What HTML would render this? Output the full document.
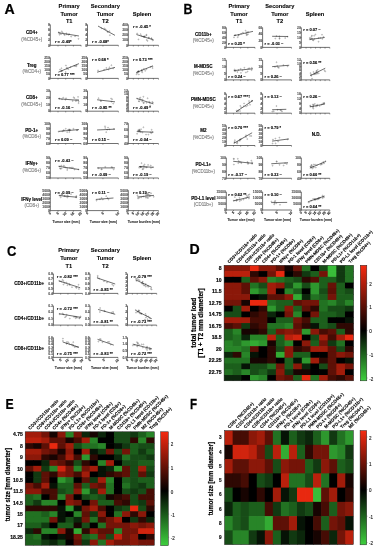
<!DOCTYPE html>
<html><head><meta charset="utf-8"><title>Figure</title>
<style>
html,body{margin:0;padding:0;background:#fff;}
body{width:377px;height:550px;overflow:hidden;}
svg{display:block;font-family:"Liberation Sans",Arial,"Noto Sans CJK SC",sans-serif;}
</style></head><body>
<svg width="377" height="550" viewBox="0 0 377 550">
<rect width="377" height="550" fill="#fff"/>
<text transform="translate(4.5 14.3) scale(0.98 1)" font-size="14.4" font-weight="bold" stroke="#000" stroke-width="0.25">A</text>
<text transform="translate(183.6 14.2) scale(0.86 1)" font-size="14.4" font-weight="bold" stroke="#000" stroke-width="0.25">B</text>
<text transform="translate(6.9 255.6) scale(0.9 1)" font-size="14.4" font-weight="bold" stroke="#000" stroke-width="0.25">C</text>
<text transform="translate(189.4 254.2) scale(0.98 1)" font-size="14.4" font-weight="bold" stroke="#000" stroke-width="0.25">D</text>
<text transform="translate(5.6 409.3) scale(0.85 1)" font-size="14.4" font-weight="bold" stroke="#000" stroke-width="0.25">E</text>
<text transform="translate(190.0 409.3) scale(0.8 1)" font-size="14.4" font-weight="bold" stroke="#000" stroke-width="0.25">F</text>
<text x="69.20" y="7.80" font-size="5.7" font-weight="bold" text-anchor="middle" fill="#000" stroke="#000" stroke-width="0.08">Primary</text>
<text x="69.20" y="15.80" font-size="5.7" font-weight="bold" text-anchor="middle" fill="#000" stroke="#000" stroke-width="0.08">Tumor</text>
<text x="69.20" y="23.10" font-size="5.7" font-weight="bold" text-anchor="middle" fill="#000" stroke="#000" stroke-width="0.08">T1</text>
<text x="105.30" y="7.80" font-size="5.7" font-weight="bold" text-anchor="middle" fill="#000" stroke="#000" stroke-width="0.08">Secondary</text>
<text x="105.30" y="15.80" font-size="5.7" font-weight="bold" text-anchor="middle" fill="#000" stroke="#000" stroke-width="0.08">Tumor</text>
<text x="105.30" y="23.10" font-size="5.7" font-weight="bold" text-anchor="middle" fill="#000" stroke="#000" stroke-width="0.08">T2</text>
<text x="142.00" y="15.80" font-size="5.7" font-weight="bold" text-anchor="middle" fill="#000" stroke="#000" stroke-width="0.08">Spleen</text>
<text x="239.00" y="7.80" font-size="5.7" font-weight="bold" text-anchor="middle" fill="#000" stroke="#000" stroke-width="0.08">Primary</text>
<text x="239.00" y="15.80" font-size="5.7" font-weight="bold" text-anchor="middle" fill="#000" stroke="#000" stroke-width="0.08">Tumor</text>
<text x="239.00" y="23.10" font-size="5.7" font-weight="bold" text-anchor="middle" fill="#000" stroke="#000" stroke-width="0.08">T1</text>
<text x="279.80" y="7.80" font-size="5.7" font-weight="bold" text-anchor="middle" fill="#000" stroke="#000" stroke-width="0.08">Secondary</text>
<text x="279.80" y="15.80" font-size="5.7" font-weight="bold" text-anchor="middle" fill="#000" stroke="#000" stroke-width="0.08">Tumor</text>
<text x="279.80" y="23.10" font-size="5.7" font-weight="bold" text-anchor="middle" fill="#000" stroke="#000" stroke-width="0.08">T2</text>
<text x="315.00" y="15.80" font-size="5.7" font-weight="bold" text-anchor="middle" fill="#000" stroke="#000" stroke-width="0.08">Spleen</text>
<text x="68.80" y="252.00" font-size="5.7" font-weight="bold" text-anchor="middle" fill="#000" stroke="#000" stroke-width="0.08">Primary</text>
<text x="68.80" y="260.10" font-size="5.7" font-weight="bold" text-anchor="middle" fill="#000" stroke="#000" stroke-width="0.08">Tumor</text>
<text x="68.80" y="267.70" font-size="5.7" font-weight="bold" text-anchor="middle" fill="#000" stroke="#000" stroke-width="0.08">T1</text>
<text x="105.30" y="252.00" font-size="5.7" font-weight="bold" text-anchor="middle" fill="#000" stroke="#000" stroke-width="0.08">Secondary</text>
<text x="105.30" y="260.10" font-size="5.7" font-weight="bold" text-anchor="middle" fill="#000" stroke="#000" stroke-width="0.08">Tumor</text>
<text x="105.30" y="267.70" font-size="5.7" font-weight="bold" text-anchor="middle" fill="#000" stroke="#000" stroke-width="0.08">T2</text>
<text x="142.00" y="260.10" font-size="5.7" font-weight="bold" text-anchor="middle" fill="#000" stroke="#000" stroke-width="0.08">Spleen</text>
<text x="31.80" y="33.80" font-size="4.5" font-weight="bold" text-anchor="middle" fill="#000" stroke="#000" stroke-width="0.126">CD4+</text>
<text x="31.80" y="40.80" font-size="4.5" text-anchor="middle" fill="#7d7d7d" stroke="#7d7d7d" stroke-width="0.12">(%CD45+)</text>
<text x="31.80" y="66.90" font-size="4.5" font-weight="bold" text-anchor="middle" fill="#000" stroke="#000" stroke-width="0.126">Treg</text>
<text x="31.80" y="73.30" font-size="4.5" text-anchor="middle" fill="#7d7d7d" stroke="#7d7d7d" stroke-width="0.12">(%CD4+)</text>
<text x="31.80" y="99.30" font-size="4.5" font-weight="bold" text-anchor="middle" fill="#000" stroke="#000" stroke-width="0.126">CD8+</text>
<text x="31.80" y="105.90" font-size="4.5" text-anchor="middle" fill="#7d7d7d" stroke="#7d7d7d" stroke-width="0.12">(%CD45+)</text>
<text x="31.80" y="131.90" font-size="4.5" font-weight="bold" text-anchor="middle" fill="#000" stroke="#000" stroke-width="0.126">PD-1+</text>
<text x="31.80" y="138.30" font-size="4.5" text-anchor="middle" fill="#7d7d7d" stroke="#7d7d7d" stroke-width="0.12">(%CD8+)</text>
<text x="31.80" y="165.40" font-size="4.5" font-weight="bold" text-anchor="middle" fill="#000" stroke="#000" stroke-width="0.126">IFNγ+</text>
<text x="31.80" y="171.80" font-size="4.5" text-anchor="middle" fill="#7d7d7d" stroke="#7d7d7d" stroke-width="0.12">(%CD8+)</text>
<text x="31.80" y="200.70" font-size="4.5" font-weight="bold" text-anchor="middle" fill="#000" stroke="#000" stroke-width="0.126">IFNγ level</text>
<text x="31.80" y="206.90" font-size="4.5" text-anchor="middle" fill="#7d7d7d" stroke="#7d7d7d" stroke-width="0.12">(CD8+)</text>
<text x="203.30" y="35.90" font-size="4.5" font-weight="bold" text-anchor="middle" fill="#000" stroke="#000" stroke-width="0.126">CD11b+</text>
<text x="203.30" y="42.00" font-size="4.5" text-anchor="middle" fill="#7d7d7d" stroke="#7d7d7d" stroke-width="0.12">(%CD45+)</text>
<text x="203.30" y="67.80" font-size="4.5" font-weight="bold" text-anchor="middle" fill="#000" stroke="#000" stroke-width="0.126">M-MDSC</text>
<text x="203.30" y="74.50" font-size="4.5" text-anchor="middle" fill="#7d7d7d" stroke="#7d7d7d" stroke-width="0.12">(%CD45+)</text>
<text x="203.30" y="101.00" font-size="4.5" font-weight="bold" text-anchor="middle" fill="#000" stroke="#000" stroke-width="0.126">PMN-MDSC</text>
<text x="203.30" y="107.80" font-size="4.5" text-anchor="middle" fill="#7d7d7d" stroke="#7d7d7d" stroke-width="0.12">(%CD45+)</text>
<text x="203.30" y="132.00" font-size="4.5" font-weight="bold" text-anchor="middle" fill="#000" stroke="#000" stroke-width="0.126">M2</text>
<text x="203.30" y="138.90" font-size="4.5" text-anchor="middle" fill="#7d7d7d" stroke="#7d7d7d" stroke-width="0.12">(%CD45+)</text>
<text x="203.30" y="166.00" font-size="4.5" font-weight="bold" text-anchor="middle" fill="#000" stroke="#000" stroke-width="0.126">PD-L1+</text>
<text x="203.30" y="172.80" font-size="4.5" text-anchor="middle" fill="#7d7d7d" stroke="#7d7d7d" stroke-width="0.12">(%CD11b+)</text>
<text x="203.30" y="199.90" font-size="4.5" font-weight="bold" text-anchor="middle" fill="#000" stroke="#000" stroke-width="0.126">PD-L1 level</text>
<text x="203.30" y="206.00" font-size="4.5" text-anchor="middle" fill="#7d7d7d" stroke="#7d7d7d" stroke-width="0.12">(CD11b+)</text>
<text x="29.20" y="284.50" font-size="4.6" font-weight="bold" text-anchor="middle" fill="#000" stroke="#000" stroke-width="0.129">CD3+/CD11b+</text>
<text x="29.20" y="319.90" font-size="4.6" font-weight="bold" text-anchor="middle" fill="#000" stroke="#000" stroke-width="0.129">CD4+/CD11b+</text>
<text x="29.20" y="349.60" font-size="4.6" font-weight="bold" text-anchor="middle" fill="#000" stroke="#000" stroke-width="0.129">CD8+/CD11b+</text>
<line x1="50.30" y1="24.60" x2="50.30" y2="45.30" stroke="#333" stroke-width="0.7"/>
<line x1="50.30" y1="45.30" x2="81.10" y2="45.30" stroke="#333" stroke-width="0.7"/>
<line x1="49.10" y1="45.30" x2="50.30" y2="45.30" stroke="#333" stroke-width="0.5"/>
<text x="49.90" y="46.50" font-size="3.4" font-weight="bold" text-anchor="end" fill="#585858" stroke="#585858" stroke-width="0.095">0</text>
<line x1="49.10" y1="40.12" x2="50.30" y2="40.12" stroke="#333" stroke-width="0.5"/>
<text x="49.90" y="41.33" font-size="3.4" font-weight="bold" text-anchor="end" fill="#585858" stroke="#585858" stroke-width="0.095">2</text>
<line x1="49.10" y1="34.95" x2="50.30" y2="34.95" stroke="#333" stroke-width="0.5"/>
<text x="49.90" y="36.15" font-size="3.4" font-weight="bold" text-anchor="end" fill="#585858" stroke="#585858" stroke-width="0.095">4</text>
<line x1="49.10" y1="29.77" x2="50.30" y2="29.77" stroke="#333" stroke-width="0.5"/>
<text x="49.90" y="30.97" font-size="3.4" font-weight="bold" text-anchor="end" fill="#585858" stroke="#585858" stroke-width="0.095">6</text>
<line x1="49.10" y1="24.60" x2="50.30" y2="24.60" stroke="#333" stroke-width="0.5"/>
<text x="49.90" y="25.80" font-size="3.4" font-weight="bold" text-anchor="end" fill="#585858" stroke="#585858" stroke-width="0.095">8</text>
<line x1="50.30" y1="45.30" x2="50.30" y2="46.50" stroke="#333" stroke-width="0.5"/>
<line x1="58.00" y1="45.30" x2="58.00" y2="46.50" stroke="#333" stroke-width="0.5"/>
<line x1="65.70" y1="45.30" x2="65.70" y2="46.50" stroke="#333" stroke-width="0.5"/>
<line x1="73.40" y1="45.30" x2="73.40" y2="46.50" stroke="#333" stroke-width="0.5"/>
<line x1="81.10" y1="45.30" x2="81.10" y2="46.50" stroke="#333" stroke-width="0.5"/>
<circle cx="64.78" cy="35.06" r="0.5" fill="none" stroke="#444" stroke-width="0.3"/>
<circle cx="59.52" cy="34.74" r="0.5" fill="none" stroke="#444" stroke-width="0.3"/>
<circle cx="69.22" cy="34.09" r="0.5" fill="none" stroke="#444" stroke-width="0.3"/>
<circle cx="68.63" cy="34.75" r="0.5" fill="none" stroke="#444" stroke-width="0.3"/>
<circle cx="58.79" cy="32.26" r="0.5" fill="none" stroke="#444" stroke-width="0.3"/>
<circle cx="59.90" cy="33.21" r="0.5" fill="none" stroke="#444" stroke-width="0.3"/>
<circle cx="66.89" cy="34.45" r="0.5" fill="none" stroke="#444" stroke-width="0.3"/>
<circle cx="62.68" cy="32.71" r="0.5" fill="none" stroke="#444" stroke-width="0.3"/>
<circle cx="71.14" cy="36.68" r="0.5" fill="none" stroke="#444" stroke-width="0.3"/>
<circle cx="66.31" cy="33.33" r="0.5" fill="none" stroke="#444" stroke-width="0.3"/>
<circle cx="78.45" cy="38.85" r="0.5" fill="none" stroke="#444" stroke-width="0.3"/>
<circle cx="64.07" cy="34.52" r="0.5" fill="none" stroke="#444" stroke-width="0.3"/>
<circle cx="61.02" cy="34.14" r="0.5" fill="none" stroke="#444" stroke-width="0.3"/>
<circle cx="75.09" cy="36.28" r="0.5" fill="none" stroke="#444" stroke-width="0.3"/>
<circle cx="61.79" cy="31.34" r="0.5" fill="none" stroke="#444" stroke-width="0.3"/>
<line x1="58.00" y1="32.67" x2="78.94" y2="35.98" stroke="#111" stroke-width="0.6"/>
<text x="54.90" y="43.10" font-size="4.0" font-weight="bold" fill="#000" stroke="#000" stroke-width="0.112">r = -0.49*</text>
<line x1="87.50" y1="24.60" x2="87.50" y2="45.30" stroke="#333" stroke-width="0.7"/>
<line x1="87.50" y1="45.30" x2="118.40" y2="45.30" stroke="#333" stroke-width="0.7"/>
<line x1="86.30" y1="45.30" x2="87.50" y2="45.30" stroke="#333" stroke-width="0.5"/>
<text x="87.10" y="46.50" font-size="3.4" font-weight="bold" text-anchor="end" fill="#585858" stroke="#585858" stroke-width="0.095">0</text>
<line x1="86.30" y1="40.12" x2="87.50" y2="40.12" stroke="#333" stroke-width="0.5"/>
<text x="87.10" y="41.33" font-size="3.4" font-weight="bold" text-anchor="end" fill="#585858" stroke="#585858" stroke-width="0.095">2</text>
<line x1="86.30" y1="34.95" x2="87.50" y2="34.95" stroke="#333" stroke-width="0.5"/>
<text x="87.10" y="36.15" font-size="3.4" font-weight="bold" text-anchor="end" fill="#585858" stroke="#585858" stroke-width="0.095">4</text>
<line x1="86.30" y1="29.77" x2="87.50" y2="29.77" stroke="#333" stroke-width="0.5"/>
<text x="87.10" y="30.97" font-size="3.4" font-weight="bold" text-anchor="end" fill="#585858" stroke="#585858" stroke-width="0.095">6</text>
<line x1="86.30" y1="24.60" x2="87.50" y2="24.60" stroke="#333" stroke-width="0.5"/>
<text x="87.10" y="25.80" font-size="3.4" font-weight="bold" text-anchor="end" fill="#585858" stroke="#585858" stroke-width="0.095">8</text>
<line x1="87.50" y1="45.30" x2="87.50" y2="46.50" stroke="#333" stroke-width="0.5"/>
<line x1="102.95" y1="45.30" x2="102.95" y2="46.50" stroke="#333" stroke-width="0.5"/>
<line x1="118.40" y1="45.30" x2="118.40" y2="46.50" stroke="#333" stroke-width="0.5"/>
<circle cx="104.33" cy="28.43" r="0.5" fill="none" stroke="#444" stroke-width="0.3"/>
<circle cx="107.31" cy="31.65" r="0.5" fill="none" stroke="#444" stroke-width="0.3"/>
<circle cx="101.51" cy="28.18" r="0.5" fill="none" stroke="#444" stroke-width="0.3"/>
<circle cx="109.57" cy="31.18" r="0.5" fill="none" stroke="#444" stroke-width="0.3"/>
<circle cx="107.96" cy="32.10" r="0.5" fill="none" stroke="#444" stroke-width="0.3"/>
<circle cx="105.71" cy="29.42" r="0.5" fill="none" stroke="#444" stroke-width="0.3"/>
<circle cx="109.89" cy="35.19" r="0.5" fill="none" stroke="#444" stroke-width="0.3"/>
<line x1="98.01" y1="26.05" x2="115.00" y2="35.36" stroke="#111" stroke-width="0.6"/>
<text x="92.10" y="43.10" font-size="4.0" font-weight="bold" fill="#000" stroke="#000" stroke-width="0.112">r = -0.68*</text>
<line x1="128.30" y1="24.60" x2="128.30" y2="45.30" stroke="#333" stroke-width="0.7"/>
<line x1="128.30" y1="45.30" x2="158.50" y2="45.30" stroke="#333" stroke-width="0.7"/>
<line x1="127.10" y1="45.30" x2="128.30" y2="45.30" stroke="#333" stroke-width="0.5"/>
<text x="127.90" y="46.50" font-size="3.4" font-weight="bold" text-anchor="end" fill="#585858" stroke="#585858" stroke-width="0.095">0</text>
<line x1="127.10" y1="40.12" x2="128.30" y2="40.12" stroke="#333" stroke-width="0.5"/>
<text x="127.90" y="41.33" font-size="3.4" font-weight="bold" text-anchor="end" fill="#585858" stroke="#585858" stroke-width="0.095">100</text>
<line x1="127.10" y1="34.95" x2="128.30" y2="34.95" stroke="#333" stroke-width="0.5"/>
<text x="127.90" y="36.15" font-size="3.4" font-weight="bold" text-anchor="end" fill="#585858" stroke="#585858" stroke-width="0.095">200</text>
<line x1="127.10" y1="29.77" x2="128.30" y2="29.77" stroke="#333" stroke-width="0.5"/>
<text x="127.90" y="30.97" font-size="3.4" font-weight="bold" text-anchor="end" fill="#585858" stroke="#585858" stroke-width="0.095">300</text>
<line x1="127.10" y1="24.60" x2="128.30" y2="24.60" stroke="#333" stroke-width="0.5"/>
<text x="127.90" y="25.80" font-size="3.4" font-weight="bold" text-anchor="end" fill="#585858" stroke="#585858" stroke-width="0.095">400</text>
<line x1="128.30" y1="45.30" x2="128.30" y2="46.50" stroke="#333" stroke-width="0.5"/>
<line x1="133.33" y1="45.30" x2="133.33" y2="46.50" stroke="#333" stroke-width="0.5"/>
<line x1="138.37" y1="45.30" x2="138.37" y2="46.50" stroke="#333" stroke-width="0.5"/>
<line x1="143.40" y1="45.30" x2="143.40" y2="46.50" stroke="#333" stroke-width="0.5"/>
<line x1="148.43" y1="45.30" x2="148.43" y2="46.50" stroke="#333" stroke-width="0.5"/>
<line x1="153.47" y1="45.30" x2="153.47" y2="46.50" stroke="#333" stroke-width="0.5"/>
<line x1="158.50" y1="45.30" x2="158.50" y2="46.50" stroke="#333" stroke-width="0.5"/>
<circle cx="140.66" cy="34.16" r="0.5" fill="none" stroke="#444" stroke-width="0.3"/>
<circle cx="151.52" cy="38.39" r="0.5" fill="none" stroke="#444" stroke-width="0.3"/>
<circle cx="149.01" cy="37.44" r="0.5" fill="none" stroke="#444" stroke-width="0.3"/>
<circle cx="138.49" cy="39.40" r="0.5" fill="none" stroke="#444" stroke-width="0.3"/>
<circle cx="143.65" cy="36.83" r="0.5" fill="none" stroke="#444" stroke-width="0.3"/>
<circle cx="144.87" cy="36.28" r="0.5" fill="none" stroke="#444" stroke-width="0.3"/>
<circle cx="137.13" cy="33.45" r="0.5" fill="none" stroke="#444" stroke-width="0.3"/>
<circle cx="146.32" cy="35.32" r="0.5" fill="none" stroke="#444" stroke-width="0.3"/>
<circle cx="151.52" cy="38.31" r="0.5" fill="none" stroke="#444" stroke-width="0.3"/>
<circle cx="146.69" cy="39.94" r="0.5" fill="none" stroke="#444" stroke-width="0.3"/>
<circle cx="146.44" cy="34.80" r="0.5" fill="none" stroke="#444" stroke-width="0.3"/>
<circle cx="152.72" cy="40.43" r="0.5" fill="none" stroke="#444" stroke-width="0.3"/>
<circle cx="144.62" cy="36.81" r="0.5" fill="none" stroke="#444" stroke-width="0.3"/>
<circle cx="148.53" cy="37.84" r="0.5" fill="none" stroke="#444" stroke-width="0.3"/>
<circle cx="147.59" cy="40.90" r="0.5" fill="none" stroke="#444" stroke-width="0.3"/>
<circle cx="141.35" cy="35.94" r="0.5" fill="none" stroke="#444" stroke-width="0.3"/>
<circle cx="143.10" cy="36.45" r="0.5" fill="none" stroke="#444" stroke-width="0.3"/>
<circle cx="144.40" cy="36.73" r="0.5" fill="none" stroke="#444" stroke-width="0.3"/>
<line x1="136.45" y1="34.54" x2="153.67" y2="39.92" stroke="#111" stroke-width="0.6"/>
<text x="132.90" y="28.40" font-size="4.0" font-weight="bold" fill="#000" stroke="#000" stroke-width="0.112">r = -0.45 *</text>
<line x1="50.30" y1="57.60" x2="50.30" y2="78.40" stroke="#333" stroke-width="0.7"/>
<line x1="50.30" y1="78.40" x2="81.10" y2="78.40" stroke="#333" stroke-width="0.7"/>
<line x1="49.10" y1="78.40" x2="50.30" y2="78.40" stroke="#333" stroke-width="0.5"/>
<text x="49.90" y="79.60" font-size="3.4" font-weight="bold" text-anchor="end" fill="#585858" stroke="#585858" stroke-width="0.095">0</text>
<line x1="49.10" y1="74.24" x2="50.30" y2="74.24" stroke="#333" stroke-width="0.5"/>
<text x="49.90" y="75.44" font-size="3.4" font-weight="bold" text-anchor="end" fill="#585858" stroke="#585858" stroke-width="0.095">50</text>
<line x1="49.10" y1="70.08" x2="50.30" y2="70.08" stroke="#333" stroke-width="0.5"/>
<text x="49.90" y="71.28" font-size="3.4" font-weight="bold" text-anchor="end" fill="#585858" stroke="#585858" stroke-width="0.095">100</text>
<line x1="49.10" y1="65.92" x2="50.30" y2="65.92" stroke="#333" stroke-width="0.5"/>
<text x="49.90" y="67.12" font-size="3.4" font-weight="bold" text-anchor="end" fill="#585858" stroke="#585858" stroke-width="0.095">150</text>
<line x1="49.10" y1="61.76" x2="50.30" y2="61.76" stroke="#333" stroke-width="0.5"/>
<text x="49.90" y="62.96" font-size="3.4" font-weight="bold" text-anchor="end" fill="#585858" stroke="#585858" stroke-width="0.095">200</text>
<line x1="49.10" y1="57.60" x2="50.30" y2="57.60" stroke="#333" stroke-width="0.5"/>
<text x="49.90" y="58.80" font-size="3.4" font-weight="bold" text-anchor="end" fill="#585858" stroke="#585858" stroke-width="0.095">250</text>
<line x1="50.30" y1="78.40" x2="50.30" y2="79.60" stroke="#333" stroke-width="0.5"/>
<line x1="58.00" y1="78.40" x2="58.00" y2="79.60" stroke="#333" stroke-width="0.5"/>
<line x1="65.70" y1="78.40" x2="65.70" y2="79.60" stroke="#333" stroke-width="0.5"/>
<line x1="73.40" y1="78.40" x2="73.40" y2="79.60" stroke="#333" stroke-width="0.5"/>
<line x1="81.10" y1="78.40" x2="81.10" y2="79.60" stroke="#333" stroke-width="0.5"/>
<circle cx="61.78" cy="71.13" r="0.5" fill="none" stroke="#444" stroke-width="0.3"/>
<circle cx="74.16" cy="65.97" r="0.5" fill="none" stroke="#444" stroke-width="0.3"/>
<circle cx="60.98" cy="71.08" r="0.5" fill="none" stroke="#444" stroke-width="0.3"/>
<circle cx="76.29" cy="66.28" r="0.5" fill="none" stroke="#444" stroke-width="0.3"/>
<circle cx="59.97" cy="69.60" r="0.5" fill="none" stroke="#444" stroke-width="0.3"/>
<circle cx="76.54" cy="65.24" r="0.5" fill="none" stroke="#444" stroke-width="0.3"/>
<circle cx="75.21" cy="66.00" r="0.5" fill="none" stroke="#444" stroke-width="0.3"/>
<circle cx="66.88" cy="67.67" r="0.5" fill="none" stroke="#444" stroke-width="0.3"/>
<circle cx="65.71" cy="72.03" r="0.5" fill="none" stroke="#444" stroke-width="0.3"/>
<circle cx="61.42" cy="68.26" r="0.5" fill="none" stroke="#444" stroke-width="0.3"/>
<circle cx="61.94" cy="70.79" r="0.5" fill="none" stroke="#444" stroke-width="0.3"/>
<circle cx="68.32" cy="69.15" r="0.5" fill="none" stroke="#444" stroke-width="0.3"/>
<circle cx="70.47" cy="67.12" r="0.5" fill="none" stroke="#444" stroke-width="0.3"/>
<circle cx="66.95" cy="68.73" r="0.5" fill="none" stroke="#444" stroke-width="0.3"/>
<circle cx="65.93" cy="65.48" r="0.5" fill="none" stroke="#444" stroke-width="0.3"/>
<line x1="58.31" y1="72.16" x2="78.94" y2="63.63" stroke="#111" stroke-width="0.6"/>
<text x="54.90" y="76.20" font-size="4.0" font-weight="bold" fill="#000" stroke="#000" stroke-width="0.112">r = 0.77 ***</text>
<line x1="87.50" y1="57.60" x2="87.50" y2="78.40" stroke="#333" stroke-width="0.7"/>
<line x1="87.50" y1="78.40" x2="118.40" y2="78.40" stroke="#333" stroke-width="0.7"/>
<line x1="86.30" y1="78.40" x2="87.50" y2="78.40" stroke="#333" stroke-width="0.5"/>
<text x="87.10" y="79.60" font-size="3.4" font-weight="bold" text-anchor="end" fill="#585858" stroke="#585858" stroke-width="0.095">0</text>
<line x1="86.30" y1="74.24" x2="87.50" y2="74.24" stroke="#333" stroke-width="0.5"/>
<text x="87.10" y="75.44" font-size="3.4" font-weight="bold" text-anchor="end" fill="#585858" stroke="#585858" stroke-width="0.095">50</text>
<line x1="86.30" y1="70.08" x2="87.50" y2="70.08" stroke="#333" stroke-width="0.5"/>
<text x="87.10" y="71.28" font-size="3.4" font-weight="bold" text-anchor="end" fill="#585858" stroke="#585858" stroke-width="0.095">100</text>
<line x1="86.30" y1="65.92" x2="87.50" y2="65.92" stroke="#333" stroke-width="0.5"/>
<text x="87.10" y="67.12" font-size="3.4" font-weight="bold" text-anchor="end" fill="#585858" stroke="#585858" stroke-width="0.095">150</text>
<line x1="86.30" y1="61.76" x2="87.50" y2="61.76" stroke="#333" stroke-width="0.5"/>
<text x="87.10" y="62.96" font-size="3.4" font-weight="bold" text-anchor="end" fill="#585858" stroke="#585858" stroke-width="0.095">200</text>
<line x1="86.30" y1="57.60" x2="87.50" y2="57.60" stroke="#333" stroke-width="0.5"/>
<text x="87.10" y="58.80" font-size="3.4" font-weight="bold" text-anchor="end" fill="#585858" stroke="#585858" stroke-width="0.095">250</text>
<line x1="87.50" y1="78.40" x2="87.50" y2="79.60" stroke="#333" stroke-width="0.5"/>
<line x1="102.95" y1="78.40" x2="102.95" y2="79.60" stroke="#333" stroke-width="0.5"/>
<line x1="118.40" y1="78.40" x2="118.40" y2="79.60" stroke="#333" stroke-width="0.5"/>
<circle cx="109.45" cy="67.29" r="0.5" fill="none" stroke="#444" stroke-width="0.3"/>
<circle cx="106.32" cy="67.96" r="0.5" fill="none" stroke="#444" stroke-width="0.3"/>
<circle cx="98.05" cy="70.32" r="0.5" fill="none" stroke="#444" stroke-width="0.3"/>
<circle cx="113.20" cy="68.45" r="0.5" fill="none" stroke="#444" stroke-width="0.3"/>
<circle cx="111.38" cy="65.22" r="0.5" fill="none" stroke="#444" stroke-width="0.3"/>
<circle cx="104.11" cy="69.70" r="0.5" fill="none" stroke="#444" stroke-width="0.3"/>
<circle cx="108.45" cy="69.56" r="0.5" fill="none" stroke="#444" stroke-width="0.3"/>
<line x1="97.08" y1="72.16" x2="115.00" y2="67.38" stroke="#111" stroke-width="0.6"/>
<text x="92.10" y="61.40" font-size="4.0" font-weight="bold" fill="#000" stroke="#000" stroke-width="0.112">r = 0.68 *</text>
<line x1="128.30" y1="57.60" x2="128.30" y2="78.40" stroke="#333" stroke-width="0.7"/>
<line x1="128.30" y1="78.40" x2="158.50" y2="78.40" stroke="#333" stroke-width="0.7"/>
<line x1="127.10" y1="78.40" x2="128.30" y2="78.40" stroke="#333" stroke-width="0.5"/>
<text x="127.90" y="79.60" font-size="3.4" font-weight="bold" text-anchor="end" fill="#585858" stroke="#585858" stroke-width="0.095">0</text>
<line x1="127.10" y1="74.24" x2="128.30" y2="74.24" stroke="#333" stroke-width="0.5"/>
<text x="127.90" y="75.44" font-size="3.4" font-weight="bold" text-anchor="end" fill="#585858" stroke="#585858" stroke-width="0.095">50</text>
<line x1="127.10" y1="70.08" x2="128.30" y2="70.08" stroke="#333" stroke-width="0.5"/>
<text x="127.90" y="71.28" font-size="3.4" font-weight="bold" text-anchor="end" fill="#585858" stroke="#585858" stroke-width="0.095">100</text>
<line x1="127.10" y1="65.92" x2="128.30" y2="65.92" stroke="#333" stroke-width="0.5"/>
<text x="127.90" y="67.12" font-size="3.4" font-weight="bold" text-anchor="end" fill="#585858" stroke="#585858" stroke-width="0.095">150</text>
<line x1="127.10" y1="61.76" x2="128.30" y2="61.76" stroke="#333" stroke-width="0.5"/>
<text x="127.90" y="62.96" font-size="3.4" font-weight="bold" text-anchor="end" fill="#585858" stroke="#585858" stroke-width="0.095">200</text>
<line x1="127.10" y1="57.60" x2="128.30" y2="57.60" stroke="#333" stroke-width="0.5"/>
<text x="127.90" y="58.80" font-size="3.4" font-weight="bold" text-anchor="end" fill="#585858" stroke="#585858" stroke-width="0.095">250</text>
<line x1="128.30" y1="78.40" x2="128.30" y2="79.60" stroke="#333" stroke-width="0.5"/>
<line x1="133.33" y1="78.40" x2="133.33" y2="79.60" stroke="#333" stroke-width="0.5"/>
<line x1="138.37" y1="78.40" x2="138.37" y2="79.60" stroke="#333" stroke-width="0.5"/>
<line x1="143.40" y1="78.40" x2="143.40" y2="79.60" stroke="#333" stroke-width="0.5"/>
<line x1="148.43" y1="78.40" x2="148.43" y2="79.60" stroke="#333" stroke-width="0.5"/>
<line x1="153.47" y1="78.40" x2="153.47" y2="79.60" stroke="#333" stroke-width="0.5"/>
<line x1="158.50" y1="78.40" x2="158.50" y2="79.60" stroke="#333" stroke-width="0.5"/>
<circle cx="137.19" cy="73.14" r="0.5" fill="none" stroke="#444" stroke-width="0.3"/>
<circle cx="138.85" cy="71.93" r="0.5" fill="none" stroke="#444" stroke-width="0.3"/>
<circle cx="141.80" cy="70.34" r="0.5" fill="none" stroke="#444" stroke-width="0.3"/>
<circle cx="138.66" cy="71.58" r="0.5" fill="none" stroke="#444" stroke-width="0.3"/>
<circle cx="137.84" cy="71.67" r="0.5" fill="none" stroke="#444" stroke-width="0.3"/>
<circle cx="150.67" cy="67.02" r="0.5" fill="none" stroke="#444" stroke-width="0.3"/>
<circle cx="146.35" cy="69.20" r="0.5" fill="none" stroke="#444" stroke-width="0.3"/>
<circle cx="141.92" cy="71.22" r="0.5" fill="none" stroke="#444" stroke-width="0.3"/>
<circle cx="142.20" cy="72.33" r="0.5" fill="none" stroke="#444" stroke-width="0.3"/>
<circle cx="152.65" cy="68.08" r="0.5" fill="none" stroke="#444" stroke-width="0.3"/>
<circle cx="143.89" cy="68.82" r="0.5" fill="none" stroke="#444" stroke-width="0.3"/>
<circle cx="137.85" cy="71.96" r="0.5" fill="none" stroke="#444" stroke-width="0.3"/>
<circle cx="141.84" cy="70.02" r="0.5" fill="none" stroke="#444" stroke-width="0.3"/>
<circle cx="138.83" cy="74.42" r="0.5" fill="none" stroke="#444" stroke-width="0.3"/>
<circle cx="136.54" cy="74.24" r="0.5" fill="none" stroke="#444" stroke-width="0.3"/>
<circle cx="138.59" cy="71.02" r="0.5" fill="none" stroke="#444" stroke-width="0.3"/>
<circle cx="145.17" cy="70.84" r="0.5" fill="none" stroke="#444" stroke-width="0.3"/>
<circle cx="152.40" cy="66.39" r="0.5" fill="none" stroke="#444" stroke-width="0.3"/>
<line x1="136.15" y1="72.58" x2="152.76" y2="65.92" stroke="#111" stroke-width="0.6"/>
<text x="132.90" y="61.40" font-size="4.0" font-weight="bold" fill="#000" stroke="#000" stroke-width="0.112">r = 0.73 ***</text>
<line x1="50.30" y1="90.80" x2="50.30" y2="111.20" stroke="#333" stroke-width="0.7"/>
<line x1="50.30" y1="111.20" x2="81.10" y2="111.20" stroke="#333" stroke-width="0.7"/>
<line x1="49.10" y1="111.20" x2="50.30" y2="111.20" stroke="#333" stroke-width="0.5"/>
<text x="49.90" y="112.40" font-size="3.4" font-weight="bold" text-anchor="end" fill="#585858" stroke="#585858" stroke-width="0.095">0</text>
<line x1="49.10" y1="104.40" x2="50.30" y2="104.40" stroke="#333" stroke-width="0.5"/>
<text x="49.90" y="105.60" font-size="3.4" font-weight="bold" text-anchor="end" fill="#585858" stroke="#585858" stroke-width="0.095">10</text>
<line x1="49.10" y1="97.60" x2="50.30" y2="97.60" stroke="#333" stroke-width="0.5"/>
<text x="49.90" y="98.80" font-size="3.4" font-weight="bold" text-anchor="end" fill="#585858" stroke="#585858" stroke-width="0.095">20</text>
<line x1="49.10" y1="90.80" x2="50.30" y2="90.80" stroke="#333" stroke-width="0.5"/>
<text x="49.90" y="92.00" font-size="3.4" font-weight="bold" text-anchor="end" fill="#585858" stroke="#585858" stroke-width="0.095">30</text>
<line x1="50.30" y1="111.20" x2="50.30" y2="112.40" stroke="#333" stroke-width="0.5"/>
<line x1="58.00" y1="111.20" x2="58.00" y2="112.40" stroke="#333" stroke-width="0.5"/>
<line x1="65.70" y1="111.20" x2="65.70" y2="112.40" stroke="#333" stroke-width="0.5"/>
<line x1="73.40" y1="111.20" x2="73.40" y2="112.40" stroke="#333" stroke-width="0.5"/>
<line x1="81.10" y1="111.20" x2="81.10" y2="112.40" stroke="#333" stroke-width="0.5"/>
<circle cx="76.17" cy="99.77" r="0.5" fill="none" stroke="#444" stroke-width="0.3"/>
<circle cx="66.07" cy="98.23" r="0.5" fill="none" stroke="#444" stroke-width="0.3"/>
<circle cx="62.01" cy="99.29" r="0.5" fill="none" stroke="#444" stroke-width="0.3"/>
<circle cx="74.45" cy="98.16" r="0.5" fill="none" stroke="#444" stroke-width="0.3"/>
<circle cx="65.32" cy="99.77" r="0.5" fill="none" stroke="#444" stroke-width="0.3"/>
<circle cx="78.64" cy="103.12" r="0.5" fill="none" stroke="#444" stroke-width="0.3"/>
<circle cx="75.95" cy="101.12" r="0.5" fill="none" stroke="#444" stroke-width="0.3"/>
<circle cx="73.66" cy="97.31" r="0.5" fill="none" stroke="#444" stroke-width="0.3"/>
<circle cx="63.23" cy="97.70" r="0.5" fill="none" stroke="#444" stroke-width="0.3"/>
<circle cx="59.21" cy="98.64" r="0.5" fill="none" stroke="#444" stroke-width="0.3"/>
<circle cx="59.18" cy="98.58" r="0.5" fill="none" stroke="#444" stroke-width="0.3"/>
<circle cx="72.69" cy="101.05" r="0.5" fill="none" stroke="#444" stroke-width="0.3"/>
<circle cx="78.06" cy="96.92" r="0.5" fill="none" stroke="#444" stroke-width="0.3"/>
<circle cx="78.70" cy="101.54" r="0.5" fill="none" stroke="#444" stroke-width="0.3"/>
<circle cx="78.03" cy="99.60" r="0.5" fill="none" stroke="#444" stroke-width="0.3"/>
<line x1="58.62" y1="98.76" x2="78.94" y2="100.39" stroke="#111" stroke-width="0.6"/>
<text x="54.90" y="109.00" font-size="4.0" font-weight="bold" fill="#000" stroke="#000" stroke-width="0.112">r = -0.16 ~</text>
<line x1="87.50" y1="90.80" x2="87.50" y2="111.20" stroke="#333" stroke-width="0.7"/>
<line x1="87.50" y1="111.20" x2="118.40" y2="111.20" stroke="#333" stroke-width="0.7"/>
<line x1="86.30" y1="111.20" x2="87.50" y2="111.20" stroke="#333" stroke-width="0.5"/>
<text x="87.10" y="112.40" font-size="3.4" font-weight="bold" text-anchor="end" fill="#585858" stroke="#585858" stroke-width="0.095">0</text>
<line x1="86.30" y1="104.40" x2="87.50" y2="104.40" stroke="#333" stroke-width="0.5"/>
<text x="87.10" y="105.60" font-size="3.4" font-weight="bold" text-anchor="end" fill="#585858" stroke="#585858" stroke-width="0.095">10</text>
<line x1="86.30" y1="97.60" x2="87.50" y2="97.60" stroke="#333" stroke-width="0.5"/>
<text x="87.10" y="98.80" font-size="3.4" font-weight="bold" text-anchor="end" fill="#585858" stroke="#585858" stroke-width="0.095">20</text>
<line x1="86.30" y1="90.80" x2="87.50" y2="90.80" stroke="#333" stroke-width="0.5"/>
<text x="87.10" y="92.00" font-size="3.4" font-weight="bold" text-anchor="end" fill="#585858" stroke="#585858" stroke-width="0.095">30</text>
<line x1="87.50" y1="111.20" x2="87.50" y2="112.40" stroke="#333" stroke-width="0.5"/>
<line x1="102.95" y1="111.20" x2="102.95" y2="112.40" stroke="#333" stroke-width="0.5"/>
<line x1="118.40" y1="111.20" x2="118.40" y2="112.40" stroke="#333" stroke-width="0.5"/>
<circle cx="101.14" cy="101.05" r="0.5" fill="none" stroke="#444" stroke-width="0.3"/>
<circle cx="100.60" cy="100.78" r="0.5" fill="none" stroke="#444" stroke-width="0.3"/>
<circle cx="113.21" cy="103.67" r="0.5" fill="none" stroke="#444" stroke-width="0.3"/>
<circle cx="112.14" cy="99.28" r="0.5" fill="none" stroke="#444" stroke-width="0.3"/>
<circle cx="111.41" cy="101.69" r="0.5" fill="none" stroke="#444" stroke-width="0.3"/>
<circle cx="98.60" cy="98.16" r="0.5" fill="none" stroke="#444" stroke-width="0.3"/>
<circle cx="111.10" cy="98.53" r="0.5" fill="none" stroke="#444" stroke-width="0.3"/>
<line x1="97.08" y1="99.78" x2="115.00" y2="101.82" stroke="#111" stroke-width="0.6"/>
<text x="92.10" y="109.00" font-size="4.0" font-weight="bold" fill="#000" stroke="#000" stroke-width="0.112">r = -0.85 **</text>
<line x1="128.30" y1="90.80" x2="128.30" y2="111.20" stroke="#333" stroke-width="0.7"/>
<line x1="128.30" y1="111.20" x2="158.50" y2="111.20" stroke="#333" stroke-width="0.7"/>
<line x1="127.10" y1="111.20" x2="128.30" y2="111.20" stroke="#333" stroke-width="0.5"/>
<text x="127.90" y="112.40" font-size="3.4" font-weight="bold" text-anchor="end" fill="#585858" stroke="#585858" stroke-width="0.095">0</text>
<line x1="127.10" y1="107.80" x2="128.30" y2="107.80" stroke="#333" stroke-width="0.5"/>
<text x="127.90" y="109.00" font-size="3.4" font-weight="bold" text-anchor="end" fill="#585858" stroke="#585858" stroke-width="0.095">2</text>
<line x1="127.10" y1="104.40" x2="128.30" y2="104.40" stroke="#333" stroke-width="0.5"/>
<text x="127.90" y="105.60" font-size="3.4" font-weight="bold" text-anchor="end" fill="#585858" stroke="#585858" stroke-width="0.095">4</text>
<line x1="127.10" y1="101.00" x2="128.30" y2="101.00" stroke="#333" stroke-width="0.5"/>
<text x="127.90" y="102.20" font-size="3.4" font-weight="bold" text-anchor="end" fill="#585858" stroke="#585858" stroke-width="0.095">6</text>
<line x1="127.10" y1="97.60" x2="128.30" y2="97.60" stroke="#333" stroke-width="0.5"/>
<text x="127.90" y="98.80" font-size="3.4" font-weight="bold" text-anchor="end" fill="#585858" stroke="#585858" stroke-width="0.095">8</text>
<line x1="127.10" y1="94.20" x2="128.30" y2="94.20" stroke="#333" stroke-width="0.5"/>
<text x="127.90" y="95.40" font-size="3.4" font-weight="bold" text-anchor="end" fill="#585858" stroke="#585858" stroke-width="0.095">10</text>
<line x1="127.10" y1="90.80" x2="128.30" y2="90.80" stroke="#333" stroke-width="0.5"/>
<text x="127.90" y="92.00" font-size="3.4" font-weight="bold" text-anchor="end" fill="#585858" stroke="#585858" stroke-width="0.095">12</text>
<line x1="128.30" y1="111.20" x2="128.30" y2="112.40" stroke="#333" stroke-width="0.5"/>
<line x1="133.33" y1="111.20" x2="133.33" y2="112.40" stroke="#333" stroke-width="0.5"/>
<line x1="138.37" y1="111.20" x2="138.37" y2="112.40" stroke="#333" stroke-width="0.5"/>
<line x1="143.40" y1="111.20" x2="143.40" y2="112.40" stroke="#333" stroke-width="0.5"/>
<line x1="148.43" y1="111.20" x2="148.43" y2="112.40" stroke="#333" stroke-width="0.5"/>
<line x1="153.47" y1="111.20" x2="153.47" y2="112.40" stroke="#333" stroke-width="0.5"/>
<line x1="158.50" y1="111.20" x2="158.50" y2="112.40" stroke="#333" stroke-width="0.5"/>
<circle cx="149.22" cy="101.58" r="0.5" fill="none" stroke="#444" stroke-width="0.3"/>
<circle cx="149.86" cy="102.87" r="0.5" fill="none" stroke="#444" stroke-width="0.3"/>
<circle cx="142.28" cy="101.60" r="0.5" fill="none" stroke="#444" stroke-width="0.3"/>
<circle cx="143.33" cy="96.77" r="0.5" fill="none" stroke="#444" stroke-width="0.3"/>
<circle cx="143.42" cy="103.00" r="0.5" fill="none" stroke="#444" stroke-width="0.3"/>
<circle cx="139.58" cy="98.65" r="0.5" fill="none" stroke="#444" stroke-width="0.3"/>
<circle cx="138.87" cy="101.16" r="0.5" fill="none" stroke="#444" stroke-width="0.3"/>
<circle cx="150.15" cy="105.53" r="0.5" fill="none" stroke="#444" stroke-width="0.3"/>
<circle cx="139.18" cy="101.31" r="0.5" fill="none" stroke="#444" stroke-width="0.3"/>
<circle cx="147.67" cy="98.24" r="0.5" fill="none" stroke="#444" stroke-width="0.3"/>
<circle cx="142.58" cy="99.64" r="0.5" fill="none" stroke="#444" stroke-width="0.3"/>
<circle cx="136.99" cy="98.38" r="0.5" fill="none" stroke="#444" stroke-width="0.3"/>
<circle cx="152.88" cy="102.60" r="0.5" fill="none" stroke="#444" stroke-width="0.3"/>
<circle cx="152.26" cy="101.99" r="0.5" fill="none" stroke="#444" stroke-width="0.3"/>
<circle cx="143.96" cy="102.83" r="0.5" fill="none" stroke="#444" stroke-width="0.3"/>
<circle cx="140.26" cy="97.61" r="0.5" fill="none" stroke="#444" stroke-width="0.3"/>
<circle cx="140.94" cy="99.59" r="0.5" fill="none" stroke="#444" stroke-width="0.3"/>
<circle cx="146.50" cy="102.76" r="0.5" fill="none" stroke="#444" stroke-width="0.3"/>
<line x1="136.76" y1="98.55" x2="153.37" y2="103.86" stroke="#111" stroke-width="0.6"/>
<text x="132.90" y="109.00" font-size="4.0" font-weight="bold" fill="#000" stroke="#000" stroke-width="0.112">r = -0.49 *</text>
<line x1="50.30" y1="123.30" x2="50.30" y2="143.50" stroke="#333" stroke-width="0.7"/>
<line x1="50.30" y1="143.50" x2="81.10" y2="143.50" stroke="#333" stroke-width="0.7"/>
<line x1="49.10" y1="143.50" x2="50.30" y2="143.50" stroke="#333" stroke-width="0.5"/>
<text x="49.90" y="144.70" font-size="3.4" font-weight="bold" text-anchor="end" fill="#585858" stroke="#585858" stroke-width="0.095">60</text>
<line x1="49.10" y1="138.45" x2="50.30" y2="138.45" stroke="#333" stroke-width="0.5"/>
<text x="49.90" y="139.65" font-size="3.4" font-weight="bold" text-anchor="end" fill="#585858" stroke="#585858" stroke-width="0.095">70</text>
<line x1="49.10" y1="133.40" x2="50.30" y2="133.40" stroke="#333" stroke-width="0.5"/>
<text x="49.90" y="134.60" font-size="3.4" font-weight="bold" text-anchor="end" fill="#585858" stroke="#585858" stroke-width="0.095">80</text>
<line x1="49.10" y1="128.35" x2="50.30" y2="128.35" stroke="#333" stroke-width="0.5"/>
<text x="49.90" y="129.55" font-size="3.4" font-weight="bold" text-anchor="end" fill="#585858" stroke="#585858" stroke-width="0.095">90</text>
<line x1="49.10" y1="123.30" x2="50.30" y2="123.30" stroke="#333" stroke-width="0.5"/>
<text x="49.90" y="124.50" font-size="3.4" font-weight="bold" text-anchor="end" fill="#585858" stroke="#585858" stroke-width="0.095">100</text>
<line x1="50.30" y1="143.50" x2="50.30" y2="144.70" stroke="#333" stroke-width="0.5"/>
<line x1="58.00" y1="143.50" x2="58.00" y2="144.70" stroke="#333" stroke-width="0.5"/>
<line x1="65.70" y1="143.50" x2="65.70" y2="144.70" stroke="#333" stroke-width="0.5"/>
<line x1="73.40" y1="143.50" x2="73.40" y2="144.70" stroke="#333" stroke-width="0.5"/>
<line x1="81.10" y1="143.50" x2="81.10" y2="144.70" stroke="#333" stroke-width="0.5"/>
<circle cx="63.89" cy="130.21" r="0.5" fill="none" stroke="#444" stroke-width="0.3"/>
<circle cx="77.11" cy="130.12" r="0.5" fill="none" stroke="#444" stroke-width="0.3"/>
<circle cx="65.81" cy="128.80" r="0.5" fill="none" stroke="#444" stroke-width="0.3"/>
<circle cx="77.00" cy="130.26" r="0.5" fill="none" stroke="#444" stroke-width="0.3"/>
<circle cx="67.17" cy="132.17" r="0.5" fill="none" stroke="#444" stroke-width="0.3"/>
<circle cx="69.43" cy="129.53" r="0.5" fill="none" stroke="#444" stroke-width="0.3"/>
<circle cx="69.26" cy="132.05" r="0.5" fill="none" stroke="#444" stroke-width="0.3"/>
<circle cx="62.34" cy="131.24" r="0.5" fill="none" stroke="#444" stroke-width="0.3"/>
<circle cx="58.70" cy="131.66" r="0.5" fill="none" stroke="#444" stroke-width="0.3"/>
<circle cx="68.24" cy="129.63" r="0.5" fill="none" stroke="#444" stroke-width="0.3"/>
<circle cx="73.36" cy="128.80" r="0.5" fill="none" stroke="#444" stroke-width="0.3"/>
<circle cx="69.15" cy="129.97" r="0.5" fill="none" stroke="#444" stroke-width="0.3"/>
<circle cx="69.91" cy="130.52" r="0.5" fill="none" stroke="#444" stroke-width="0.3"/>
<circle cx="70.01" cy="129.66" r="0.5" fill="none" stroke="#444" stroke-width="0.3"/>
<circle cx="63.67" cy="130.49" r="0.5" fill="none" stroke="#444" stroke-width="0.3"/>
<line x1="58.62" y1="131.38" x2="78.94" y2="129.56" stroke="#111" stroke-width="0.6"/>
<text x="54.90" y="141.30" font-size="4.0" font-weight="bold" fill="#000" stroke="#000" stroke-width="0.112">r = 0.09 ~</text>
<line x1="87.50" y1="123.30" x2="87.50" y2="143.50" stroke="#333" stroke-width="0.7"/>
<line x1="87.50" y1="143.50" x2="118.40" y2="143.50" stroke="#333" stroke-width="0.7"/>
<line x1="86.30" y1="143.50" x2="87.50" y2="143.50" stroke="#333" stroke-width="0.5"/>
<text x="87.10" y="144.70" font-size="3.4" font-weight="bold" text-anchor="end" fill="#585858" stroke="#585858" stroke-width="0.095">60</text>
<line x1="86.30" y1="138.45" x2="87.50" y2="138.45" stroke="#333" stroke-width="0.5"/>
<text x="87.10" y="139.65" font-size="3.4" font-weight="bold" text-anchor="end" fill="#585858" stroke="#585858" stroke-width="0.095">70</text>
<line x1="86.30" y1="133.40" x2="87.50" y2="133.40" stroke="#333" stroke-width="0.5"/>
<text x="87.10" y="134.60" font-size="3.4" font-weight="bold" text-anchor="end" fill="#585858" stroke="#585858" stroke-width="0.095">80</text>
<line x1="86.30" y1="128.35" x2="87.50" y2="128.35" stroke="#333" stroke-width="0.5"/>
<text x="87.10" y="129.55" font-size="3.4" font-weight="bold" text-anchor="end" fill="#585858" stroke="#585858" stroke-width="0.095">90</text>
<line x1="86.30" y1="123.30" x2="87.50" y2="123.30" stroke="#333" stroke-width="0.5"/>
<text x="87.10" y="124.50" font-size="3.4" font-weight="bold" text-anchor="end" fill="#585858" stroke="#585858" stroke-width="0.095">100</text>
<line x1="87.50" y1="143.50" x2="87.50" y2="144.70" stroke="#333" stroke-width="0.5"/>
<line x1="102.95" y1="143.50" x2="102.95" y2="144.70" stroke="#333" stroke-width="0.5"/>
<line x1="118.40" y1="143.50" x2="118.40" y2="144.70" stroke="#333" stroke-width="0.5"/>
<circle cx="106.18" cy="132.12" r="0.5" fill="none" stroke="#444" stroke-width="0.3"/>
<circle cx="107.15" cy="129.72" r="0.5" fill="none" stroke="#444" stroke-width="0.3"/>
<circle cx="105.02" cy="126.27" r="0.5" fill="none" stroke="#444" stroke-width="0.3"/>
<circle cx="108.06" cy="127.66" r="0.5" fill="none" stroke="#444" stroke-width="0.3"/>
<circle cx="109.49" cy="129.34" r="0.5" fill="none" stroke="#444" stroke-width="0.3"/>
<circle cx="105.19" cy="127.91" r="0.5" fill="none" stroke="#444" stroke-width="0.3"/>
<circle cx="113.95" cy="128.85" r="0.5" fill="none" stroke="#444" stroke-width="0.3"/>
<line x1="97.08" y1="129.97" x2="115.00" y2="129.16" stroke="#111" stroke-width="0.6"/>
<text x="92.10" y="141.30" font-size="4.0" font-weight="bold" fill="#000" stroke="#000" stroke-width="0.112">r = 0.15 ~</text>
<line x1="128.30" y1="123.30" x2="128.30" y2="143.50" stroke="#333" stroke-width="0.7"/>
<line x1="128.30" y1="143.50" x2="158.50" y2="143.50" stroke="#333" stroke-width="0.7"/>
<line x1="127.10" y1="143.50" x2="128.30" y2="143.50" stroke="#333" stroke-width="0.5"/>
<text x="127.90" y="144.70" font-size="3.4" font-weight="bold" text-anchor="end" fill="#585858" stroke="#585858" stroke-width="0.095">40</text>
<line x1="127.10" y1="136.77" x2="128.30" y2="136.77" stroke="#333" stroke-width="0.5"/>
<text x="127.90" y="137.97" font-size="3.4" font-weight="bold" text-anchor="end" fill="#585858" stroke="#585858" stroke-width="0.095">50</text>
<line x1="127.10" y1="130.03" x2="128.30" y2="130.03" stroke="#333" stroke-width="0.5"/>
<text x="127.90" y="131.23" font-size="3.4" font-weight="bold" text-anchor="end" fill="#585858" stroke="#585858" stroke-width="0.095">60</text>
<line x1="127.10" y1="123.30" x2="128.30" y2="123.30" stroke="#333" stroke-width="0.5"/>
<text x="127.90" y="124.50" font-size="3.4" font-weight="bold" text-anchor="end" fill="#585858" stroke="#585858" stroke-width="0.095">70</text>
<line x1="128.30" y1="143.50" x2="128.30" y2="144.70" stroke="#333" stroke-width="0.5"/>
<line x1="133.33" y1="143.50" x2="133.33" y2="144.70" stroke="#333" stroke-width="0.5"/>
<line x1="138.37" y1="143.50" x2="138.37" y2="144.70" stroke="#333" stroke-width="0.5"/>
<line x1="143.40" y1="143.50" x2="143.40" y2="144.70" stroke="#333" stroke-width="0.5"/>
<line x1="148.43" y1="143.50" x2="148.43" y2="144.70" stroke="#333" stroke-width="0.5"/>
<line x1="153.47" y1="143.50" x2="153.47" y2="144.70" stroke="#333" stroke-width="0.5"/>
<line x1="158.50" y1="143.50" x2="158.50" y2="144.70" stroke="#333" stroke-width="0.5"/>
<circle cx="148.37" cy="134.59" r="0.5" fill="none" stroke="#444" stroke-width="0.3"/>
<circle cx="141.07" cy="129.21" r="0.5" fill="none" stroke="#444" stroke-width="0.3"/>
<circle cx="146.05" cy="134.64" r="0.5" fill="none" stroke="#444" stroke-width="0.3"/>
<circle cx="139.03" cy="130.65" r="0.5" fill="none" stroke="#444" stroke-width="0.3"/>
<circle cx="138.78" cy="131.11" r="0.5" fill="none" stroke="#444" stroke-width="0.3"/>
<circle cx="140.75" cy="131.94" r="0.5" fill="none" stroke="#444" stroke-width="0.3"/>
<circle cx="137.97" cy="130.34" r="0.5" fill="none" stroke="#444" stroke-width="0.3"/>
<circle cx="151.66" cy="129.81" r="0.5" fill="none" stroke="#444" stroke-width="0.3"/>
<circle cx="139.32" cy="131.21" r="0.5" fill="none" stroke="#444" stroke-width="0.3"/>
<circle cx="139.13" cy="129.49" r="0.5" fill="none" stroke="#444" stroke-width="0.3"/>
<circle cx="151.42" cy="133.16" r="0.5" fill="none" stroke="#444" stroke-width="0.3"/>
<circle cx="152.58" cy="131.94" r="0.5" fill="none" stroke="#444" stroke-width="0.3"/>
<circle cx="143.37" cy="127.25" r="0.5" fill="none" stroke="#444" stroke-width="0.3"/>
<circle cx="150.58" cy="132.45" r="0.5" fill="none" stroke="#444" stroke-width="0.3"/>
<circle cx="139.44" cy="130.02" r="0.5" fill="none" stroke="#444" stroke-width="0.3"/>
<circle cx="142.39" cy="132.55" r="0.5" fill="none" stroke="#444" stroke-width="0.3"/>
<circle cx="140.01" cy="130.69" r="0.5" fill="none" stroke="#444" stroke-width="0.3"/>
<circle cx="137.08" cy="133.80" r="0.5" fill="none" stroke="#444" stroke-width="0.3"/>
<line x1="136.76" y1="131.58" x2="153.37" y2="132.19" stroke="#111" stroke-width="0.6"/>
<text x="132.90" y="141.30" font-size="4.0" font-weight="bold" fill="#000" stroke="#000" stroke-width="0.112">r = -0.04 ~</text>
<line x1="50.30" y1="157.80" x2="50.30" y2="178.00" stroke="#333" stroke-width="0.7"/>
<line x1="50.30" y1="178.00" x2="81.10" y2="178.00" stroke="#333" stroke-width="0.7"/>
<line x1="49.10" y1="178.00" x2="50.30" y2="178.00" stroke="#333" stroke-width="0.5"/>
<text x="49.90" y="179.20" font-size="3.4" font-weight="bold" text-anchor="end" fill="#585858" stroke="#585858" stroke-width="0.095">50</text>
<line x1="49.10" y1="172.95" x2="50.30" y2="172.95" stroke="#333" stroke-width="0.5"/>
<text x="49.90" y="174.15" font-size="3.4" font-weight="bold" text-anchor="end" fill="#585858" stroke="#585858" stroke-width="0.095">60</text>
<line x1="49.10" y1="167.90" x2="50.30" y2="167.90" stroke="#333" stroke-width="0.5"/>
<text x="49.90" y="169.10" font-size="3.4" font-weight="bold" text-anchor="end" fill="#585858" stroke="#585858" stroke-width="0.095">70</text>
<line x1="49.10" y1="162.85" x2="50.30" y2="162.85" stroke="#333" stroke-width="0.5"/>
<text x="49.90" y="164.05" font-size="3.4" font-weight="bold" text-anchor="end" fill="#585858" stroke="#585858" stroke-width="0.095">80</text>
<line x1="49.10" y1="157.80" x2="50.30" y2="157.80" stroke="#333" stroke-width="0.5"/>
<text x="49.90" y="159.00" font-size="3.4" font-weight="bold" text-anchor="end" fill="#585858" stroke="#585858" stroke-width="0.095">90</text>
<line x1="50.30" y1="178.00" x2="50.30" y2="179.20" stroke="#333" stroke-width="0.5"/>
<line x1="58.00" y1="178.00" x2="58.00" y2="179.20" stroke="#333" stroke-width="0.5"/>
<line x1="65.70" y1="178.00" x2="65.70" y2="179.20" stroke="#333" stroke-width="0.5"/>
<line x1="73.40" y1="178.00" x2="73.40" y2="179.20" stroke="#333" stroke-width="0.5"/>
<line x1="81.10" y1="178.00" x2="81.10" y2="179.20" stroke="#333" stroke-width="0.5"/>
<circle cx="69.88" cy="167.81" r="0.5" fill="none" stroke="#444" stroke-width="0.3"/>
<circle cx="65.35" cy="167.46" r="0.5" fill="none" stroke="#444" stroke-width="0.3"/>
<circle cx="71.30" cy="167.75" r="0.5" fill="none" stroke="#444" stroke-width="0.3"/>
<circle cx="78.64" cy="169.43" r="0.5" fill="none" stroke="#444" stroke-width="0.3"/>
<circle cx="74.64" cy="169.53" r="0.5" fill="none" stroke="#444" stroke-width="0.3"/>
<circle cx="64.01" cy="167.02" r="0.5" fill="none" stroke="#444" stroke-width="0.3"/>
<circle cx="59.42" cy="166.63" r="0.5" fill="none" stroke="#444" stroke-width="0.3"/>
<circle cx="61.25" cy="165.52" r="0.5" fill="none" stroke="#444" stroke-width="0.3"/>
<circle cx="67.20" cy="170.03" r="0.5" fill="none" stroke="#444" stroke-width="0.3"/>
<circle cx="63.87" cy="165.64" r="0.5" fill="none" stroke="#444" stroke-width="0.3"/>
<circle cx="61.65" cy="168.49" r="0.5" fill="none" stroke="#444" stroke-width="0.3"/>
<circle cx="72.85" cy="167.59" r="0.5" fill="none" stroke="#444" stroke-width="0.3"/>
<circle cx="60.43" cy="168.74" r="0.5" fill="none" stroke="#444" stroke-width="0.3"/>
<circle cx="67.26" cy="168.48" r="0.5" fill="none" stroke="#444" stroke-width="0.3"/>
<circle cx="60.09" cy="168.51" r="0.5" fill="none" stroke="#444" stroke-width="0.3"/>
<line x1="58.62" y1="166.28" x2="78.94" y2="169.52" stroke="#111" stroke-width="0.6"/>
<text x="54.90" y="161.60" font-size="4.0" font-weight="bold" fill="#000" stroke="#000" stroke-width="0.112">r = -0.43 ~</text>
<line x1="87.50" y1="157.80" x2="87.50" y2="178.00" stroke="#333" stroke-width="0.7"/>
<line x1="87.50" y1="178.00" x2="118.40" y2="178.00" stroke="#333" stroke-width="0.7"/>
<line x1="86.30" y1="178.00" x2="87.50" y2="178.00" stroke="#333" stroke-width="0.5"/>
<text x="87.10" y="179.20" font-size="3.4" font-weight="bold" text-anchor="end" fill="#585858" stroke="#585858" stroke-width="0.095">50</text>
<line x1="86.30" y1="172.95" x2="87.50" y2="172.95" stroke="#333" stroke-width="0.5"/>
<text x="87.10" y="174.15" font-size="3.4" font-weight="bold" text-anchor="end" fill="#585858" stroke="#585858" stroke-width="0.095">60</text>
<line x1="86.30" y1="167.90" x2="87.50" y2="167.90" stroke="#333" stroke-width="0.5"/>
<text x="87.10" y="169.10" font-size="3.4" font-weight="bold" text-anchor="end" fill="#585858" stroke="#585858" stroke-width="0.095">70</text>
<line x1="86.30" y1="162.85" x2="87.50" y2="162.85" stroke="#333" stroke-width="0.5"/>
<text x="87.10" y="164.05" font-size="3.4" font-weight="bold" text-anchor="end" fill="#585858" stroke="#585858" stroke-width="0.095">80</text>
<line x1="86.30" y1="157.80" x2="87.50" y2="157.80" stroke="#333" stroke-width="0.5"/>
<text x="87.10" y="159.00" font-size="3.4" font-weight="bold" text-anchor="end" fill="#585858" stroke="#585858" stroke-width="0.095">90</text>
<line x1="87.50" y1="178.00" x2="87.50" y2="179.20" stroke="#333" stroke-width="0.5"/>
<line x1="102.95" y1="178.00" x2="102.95" y2="179.20" stroke="#333" stroke-width="0.5"/>
<line x1="118.40" y1="178.00" x2="118.40" y2="179.20" stroke="#333" stroke-width="0.5"/>
<circle cx="111.45" cy="167.09" r="0.5" fill="none" stroke="#444" stroke-width="0.3"/>
<circle cx="98.58" cy="168.25" r="0.5" fill="none" stroke="#444" stroke-width="0.3"/>
<circle cx="112.54" cy="167.46" r="0.5" fill="none" stroke="#444" stroke-width="0.3"/>
<circle cx="105.21" cy="166.88" r="0.5" fill="none" stroke="#444" stroke-width="0.3"/>
<circle cx="113.69" cy="169.53" r="0.5" fill="none" stroke="#444" stroke-width="0.3"/>
<circle cx="101.88" cy="169.18" r="0.5" fill="none" stroke="#444" stroke-width="0.3"/>
<circle cx="101.35" cy="169.25" r="0.5" fill="none" stroke="#444" stroke-width="0.3"/>
<line x1="97.08" y1="167.90" x2="115.00" y2="167.90" stroke="#111" stroke-width="0.6"/>
<text x="92.10" y="175.80" font-size="4.0" font-weight="bold" fill="#000" stroke="#000" stroke-width="0.112">r = -0.09 ~</text>
<line x1="128.30" y1="157.80" x2="128.30" y2="178.00" stroke="#333" stroke-width="0.7"/>
<line x1="128.30" y1="178.00" x2="158.50" y2="178.00" stroke="#333" stroke-width="0.7"/>
<line x1="127.10" y1="178.00" x2="128.30" y2="178.00" stroke="#333" stroke-width="0.5"/>
<text x="127.90" y="179.20" font-size="3.4" font-weight="bold" text-anchor="end" fill="#585858" stroke="#585858" stroke-width="0.095">50</text>
<line x1="127.10" y1="172.95" x2="128.30" y2="172.95" stroke="#333" stroke-width="0.5"/>
<text x="127.90" y="174.15" font-size="3.4" font-weight="bold" text-anchor="end" fill="#585858" stroke="#585858" stroke-width="0.095">60</text>
<line x1="127.10" y1="167.90" x2="128.30" y2="167.90" stroke="#333" stroke-width="0.5"/>
<text x="127.90" y="169.10" font-size="3.4" font-weight="bold" text-anchor="end" fill="#585858" stroke="#585858" stroke-width="0.095">70</text>
<line x1="127.10" y1="162.85" x2="128.30" y2="162.85" stroke="#333" stroke-width="0.5"/>
<text x="127.90" y="164.05" font-size="3.4" font-weight="bold" text-anchor="end" fill="#585858" stroke="#585858" stroke-width="0.095">80</text>
<line x1="127.10" y1="157.80" x2="128.30" y2="157.80" stroke="#333" stroke-width="0.5"/>
<text x="127.90" y="159.00" font-size="3.4" font-weight="bold" text-anchor="end" fill="#585858" stroke="#585858" stroke-width="0.095">90</text>
<line x1="128.30" y1="178.00" x2="128.30" y2="179.20" stroke="#333" stroke-width="0.5"/>
<line x1="133.33" y1="178.00" x2="133.33" y2="179.20" stroke="#333" stroke-width="0.5"/>
<line x1="138.37" y1="178.00" x2="138.37" y2="179.20" stroke="#333" stroke-width="0.5"/>
<line x1="143.40" y1="178.00" x2="143.40" y2="179.20" stroke="#333" stroke-width="0.5"/>
<line x1="148.43" y1="178.00" x2="148.43" y2="179.20" stroke="#333" stroke-width="0.5"/>
<line x1="153.47" y1="178.00" x2="153.47" y2="179.20" stroke="#333" stroke-width="0.5"/>
<line x1="158.50" y1="178.00" x2="158.50" y2="179.20" stroke="#333" stroke-width="0.5"/>
<circle cx="140.46" cy="166.83" r="0.5" fill="none" stroke="#444" stroke-width="0.3"/>
<circle cx="141.79" cy="167.06" r="0.5" fill="none" stroke="#444" stroke-width="0.3"/>
<circle cx="143.39" cy="165.87" r="0.5" fill="none" stroke="#444" stroke-width="0.3"/>
<circle cx="143.07" cy="169.13" r="0.5" fill="none" stroke="#444" stroke-width="0.3"/>
<circle cx="146.12" cy="167.50" r="0.5" fill="none" stroke="#444" stroke-width="0.3"/>
<circle cx="139.13" cy="167.76" r="0.5" fill="none" stroke="#444" stroke-width="0.3"/>
<circle cx="142.50" cy="169.14" r="0.5" fill="none" stroke="#444" stroke-width="0.3"/>
<circle cx="146.86" cy="167.17" r="0.5" fill="none" stroke="#444" stroke-width="0.3"/>
<circle cx="141.62" cy="163.14" r="0.5" fill="none" stroke="#444" stroke-width="0.3"/>
<circle cx="140.41" cy="167.13" r="0.5" fill="none" stroke="#444" stroke-width="0.3"/>
<circle cx="150.74" cy="165.54" r="0.5" fill="none" stroke="#444" stroke-width="0.3"/>
<circle cx="150.97" cy="167.89" r="0.5" fill="none" stroke="#444" stroke-width="0.3"/>
<circle cx="144.57" cy="164.49" r="0.5" fill="none" stroke="#444" stroke-width="0.3"/>
<circle cx="153.11" cy="167.18" r="0.5" fill="none" stroke="#444" stroke-width="0.3"/>
<circle cx="143.84" cy="167.94" r="0.5" fill="none" stroke="#444" stroke-width="0.3"/>
<circle cx="148.09" cy="164.94" r="0.5" fill="none" stroke="#444" stroke-width="0.3"/>
<circle cx="144.74" cy="166.52" r="0.5" fill="none" stroke="#444" stroke-width="0.3"/>
<circle cx="140.75" cy="167.01" r="0.5" fill="none" stroke="#444" stroke-width="0.3"/>
<line x1="138.87" y1="166.49" x2="153.37" y2="167.29" stroke="#111" stroke-width="0.6"/>
<text x="132.90" y="175.80" font-size="4.0" font-weight="bold" fill="#000" stroke="#000" stroke-width="0.112">r = -0.19 ~</text>
<line x1="50.30" y1="190.30" x2="50.30" y2="210.60" stroke="#333" stroke-width="0.7"/>
<line x1="50.30" y1="210.60" x2="81.10" y2="210.60" stroke="#333" stroke-width="0.7"/>
<line x1="49.10" y1="210.60" x2="50.30" y2="210.60" stroke="#333" stroke-width="0.5"/>
<text x="49.90" y="211.80" font-size="3.4" font-weight="bold" text-anchor="end" fill="#585858" stroke="#585858" stroke-width="0.095">0</text>
<line x1="49.10" y1="206.54" x2="50.30" y2="206.54" stroke="#333" stroke-width="0.5"/>
<text x="49.90" y="207.74" font-size="3.4" font-weight="bold" text-anchor="end" fill="#585858" stroke="#585858" stroke-width="0.095">1000</text>
<line x1="49.10" y1="202.48" x2="50.30" y2="202.48" stroke="#333" stroke-width="0.5"/>
<text x="49.90" y="203.68" font-size="3.4" font-weight="bold" text-anchor="end" fill="#585858" stroke="#585858" stroke-width="0.095">2000</text>
<line x1="49.10" y1="198.42" x2="50.30" y2="198.42" stroke="#333" stroke-width="0.5"/>
<text x="49.90" y="199.62" font-size="3.4" font-weight="bold" text-anchor="end" fill="#585858" stroke="#585858" stroke-width="0.095">3000</text>
<line x1="49.10" y1="194.36" x2="50.30" y2="194.36" stroke="#333" stroke-width="0.5"/>
<text x="49.90" y="195.56" font-size="3.4" font-weight="bold" text-anchor="end" fill="#585858" stroke="#585858" stroke-width="0.095">4000</text>
<line x1="49.10" y1="190.30" x2="50.30" y2="190.30" stroke="#333" stroke-width="0.5"/>
<text x="49.90" y="191.50" font-size="3.4" font-weight="bold" text-anchor="end" fill="#585858" stroke="#585858" stroke-width="0.095">5000</text>
<line x1="50.30" y1="210.60" x2="50.30" y2="211.80" stroke="#333" stroke-width="0.5"/>
<line x1="58.00" y1="210.60" x2="58.00" y2="211.80" stroke="#333" stroke-width="0.5"/>
<line x1="65.70" y1="210.60" x2="65.70" y2="211.80" stroke="#333" stroke-width="0.5"/>
<line x1="73.40" y1="210.60" x2="73.40" y2="211.80" stroke="#333" stroke-width="0.5"/>
<line x1="81.10" y1="210.60" x2="81.10" y2="211.80" stroke="#333" stroke-width="0.5"/>
<circle cx="60.47" cy="195.63" r="0.5" fill="none" stroke="#444" stroke-width="0.3"/>
<circle cx="62.10" cy="194.68" r="0.5" fill="none" stroke="#444" stroke-width="0.3"/>
<circle cx="60.72" cy="197.39" r="0.5" fill="none" stroke="#444" stroke-width="0.3"/>
<circle cx="71.00" cy="194.08" r="0.5" fill="none" stroke="#444" stroke-width="0.3"/>
<circle cx="64.18" cy="196.10" r="0.5" fill="none" stroke="#444" stroke-width="0.3"/>
<circle cx="67.30" cy="197.59" r="0.5" fill="none" stroke="#444" stroke-width="0.3"/>
<circle cx="62.00" cy="194.71" r="0.5" fill="none" stroke="#444" stroke-width="0.3"/>
<circle cx="76.12" cy="197.54" r="0.5" fill="none" stroke="#444" stroke-width="0.3"/>
<circle cx="76.31" cy="196.07" r="0.5" fill="none" stroke="#444" stroke-width="0.3"/>
<circle cx="76.19" cy="196.81" r="0.5" fill="none" stroke="#444" stroke-width="0.3"/>
<circle cx="64.67" cy="196.04" r="0.5" fill="none" stroke="#444" stroke-width="0.3"/>
<circle cx="65.93" cy="196.25" r="0.5" fill="none" stroke="#444" stroke-width="0.3"/>
<circle cx="67.56" cy="195.33" r="0.5" fill="none" stroke="#444" stroke-width="0.3"/>
<circle cx="68.09" cy="196.38" r="0.5" fill="none" stroke="#444" stroke-width="0.3"/>
<circle cx="59.32" cy="195.53" r="0.5" fill="none" stroke="#444" stroke-width="0.3"/>
<line x1="59.23" y1="195.58" x2="76.79" y2="197.20" stroke="#111" stroke-width="0.6"/>
<text x="54.90" y="194.10" font-size="4.0" font-weight="bold" fill="#000" stroke="#000" stroke-width="0.112">r = -0.09 ~</text>
<text x="51.40" y="213.30" font-size="3.4" font-weight="bold" text-anchor="end" fill="#222" transform="rotate(-45 51.40 213.30)" stroke="#222" stroke-width="0.095">0</text>
<text x="59.10" y="213.30" font-size="3.4" font-weight="bold" text-anchor="end" fill="#222" transform="rotate(-45 59.10 213.30)" stroke="#222" stroke-width="0.095">5</text>
<text x="66.80" y="213.30" font-size="3.4" font-weight="bold" text-anchor="end" fill="#222" transform="rotate(-45 66.80 213.30)" stroke="#222" stroke-width="0.095">10</text>
<text x="74.50" y="213.30" font-size="3.4" font-weight="bold" text-anchor="end" fill="#222" transform="rotate(-45 74.50 213.30)" stroke="#222" stroke-width="0.095">15</text>
<text x="82.20" y="213.30" font-size="3.4" font-weight="bold" text-anchor="end" fill="#222" transform="rotate(-45 82.20 213.30)" stroke="#222" stroke-width="0.095">20</text>
<text x="66.20" y="223.10" font-size="3.45" font-weight="bold" text-anchor="middle" fill="#333" stroke="#333" stroke-width="0.097">Tumor size (mm)</text>
<line x1="87.50" y1="190.30" x2="87.50" y2="210.60" stroke="#333" stroke-width="0.7"/>
<line x1="87.50" y1="210.60" x2="118.40" y2="210.60" stroke="#333" stroke-width="0.7"/>
<line x1="86.30" y1="210.60" x2="87.50" y2="210.60" stroke="#333" stroke-width="0.5"/>
<text x="87.10" y="211.80" font-size="3.4" font-weight="bold" text-anchor="end" fill="#585858" stroke="#585858" stroke-width="0.095">0</text>
<line x1="86.30" y1="206.54" x2="87.50" y2="206.54" stroke="#333" stroke-width="0.5"/>
<text x="87.10" y="207.74" font-size="3.4" font-weight="bold" text-anchor="end" fill="#585858" stroke="#585858" stroke-width="0.095">1000</text>
<line x1="86.30" y1="202.48" x2="87.50" y2="202.48" stroke="#333" stroke-width="0.5"/>
<text x="87.10" y="203.68" font-size="3.4" font-weight="bold" text-anchor="end" fill="#585858" stroke="#585858" stroke-width="0.095">2000</text>
<line x1="86.30" y1="198.42" x2="87.50" y2="198.42" stroke="#333" stroke-width="0.5"/>
<text x="87.10" y="199.62" font-size="3.4" font-weight="bold" text-anchor="end" fill="#585858" stroke="#585858" stroke-width="0.095">3000</text>
<line x1="86.30" y1="194.36" x2="87.50" y2="194.36" stroke="#333" stroke-width="0.5"/>
<text x="87.10" y="195.56" font-size="3.4" font-weight="bold" text-anchor="end" fill="#585858" stroke="#585858" stroke-width="0.095">4000</text>
<line x1="86.30" y1="190.30" x2="87.50" y2="190.30" stroke="#333" stroke-width="0.5"/>
<text x="87.10" y="191.50" font-size="3.4" font-weight="bold" text-anchor="end" fill="#585858" stroke="#585858" stroke-width="0.095">5000</text>
<line x1="87.50" y1="210.60" x2="87.50" y2="211.80" stroke="#333" stroke-width="0.5"/>
<line x1="102.95" y1="210.60" x2="102.95" y2="211.80" stroke="#333" stroke-width="0.5"/>
<line x1="118.40" y1="210.60" x2="118.40" y2="211.80" stroke="#333" stroke-width="0.5"/>
<circle cx="102.88" cy="199.52" r="0.5" fill="none" stroke="#444" stroke-width="0.3"/>
<circle cx="96.58" cy="200.66" r="0.5" fill="none" stroke="#444" stroke-width="0.3"/>
<circle cx="99.94" cy="199.29" r="0.5" fill="none" stroke="#444" stroke-width="0.3"/>
<circle cx="106.16" cy="196.11" r="0.5" fill="none" stroke="#444" stroke-width="0.3"/>
<circle cx="107.42" cy="198.04" r="0.5" fill="none" stroke="#444" stroke-width="0.3"/>
<circle cx="108.45" cy="199.51" r="0.5" fill="none" stroke="#444" stroke-width="0.3"/>
<circle cx="101.59" cy="197.93" r="0.5" fill="none" stroke="#444" stroke-width="0.3"/>
<line x1="95.84" y1="199.44" x2="113.46" y2="198.01" stroke="#111" stroke-width="0.6"/>
<text x="92.10" y="194.10" font-size="4.0" font-weight="bold" fill="#000" stroke="#000" stroke-width="0.112">r = 0.11 ~</text>
<text x="88.60" y="213.30" font-size="3.4" font-weight="bold" text-anchor="end" fill="#222" transform="rotate(-45 88.60 213.30)" stroke="#222" stroke-width="0.095">0</text>
<text x="104.05" y="213.30" font-size="3.4" font-weight="bold" text-anchor="end" fill="#222" transform="rotate(-45 104.05 213.30)" stroke="#222" stroke-width="0.095">5</text>
<text x="119.50" y="213.30" font-size="3.4" font-weight="bold" text-anchor="end" fill="#222" transform="rotate(-45 119.50 213.30)" stroke="#222" stroke-width="0.095">10</text>
<text x="103.45" y="223.10" font-size="3.45" font-weight="bold" text-anchor="middle" fill="#333" stroke="#333" stroke-width="0.097">Tumor size (mm)</text>
<line x1="128.30" y1="190.30" x2="128.30" y2="210.60" stroke="#333" stroke-width="0.7"/>
<line x1="128.30" y1="210.60" x2="158.50" y2="210.60" stroke="#333" stroke-width="0.7"/>
<line x1="127.10" y1="210.60" x2="128.30" y2="210.60" stroke="#333" stroke-width="0.5"/>
<text x="127.90" y="211.80" font-size="3.4" font-weight="bold" text-anchor="end" fill="#585858" stroke="#585858" stroke-width="0.095">0</text>
<line x1="127.10" y1="206.54" x2="128.30" y2="206.54" stroke="#333" stroke-width="0.5"/>
<text x="127.90" y="207.74" font-size="3.4" font-weight="bold" text-anchor="end" fill="#585858" stroke="#585858" stroke-width="0.095">1000</text>
<line x1="127.10" y1="202.48" x2="128.30" y2="202.48" stroke="#333" stroke-width="0.5"/>
<text x="127.90" y="203.68" font-size="3.4" font-weight="bold" text-anchor="end" fill="#585858" stroke="#585858" stroke-width="0.095">2000</text>
<line x1="127.10" y1="198.42" x2="128.30" y2="198.42" stroke="#333" stroke-width="0.5"/>
<text x="127.90" y="199.62" font-size="3.4" font-weight="bold" text-anchor="end" fill="#585858" stroke="#585858" stroke-width="0.095">3000</text>
<line x1="127.10" y1="194.36" x2="128.30" y2="194.36" stroke="#333" stroke-width="0.5"/>
<text x="127.90" y="195.56" font-size="3.4" font-weight="bold" text-anchor="end" fill="#585858" stroke="#585858" stroke-width="0.095">4000</text>
<line x1="127.10" y1="190.30" x2="128.30" y2="190.30" stroke="#333" stroke-width="0.5"/>
<text x="127.90" y="191.50" font-size="3.4" font-weight="bold" text-anchor="end" fill="#585858" stroke="#585858" stroke-width="0.095">5000</text>
<line x1="128.30" y1="210.60" x2="128.30" y2="211.80" stroke="#333" stroke-width="0.5"/>
<line x1="133.33" y1="210.60" x2="133.33" y2="211.80" stroke="#333" stroke-width="0.5"/>
<line x1="138.37" y1="210.60" x2="138.37" y2="211.80" stroke="#333" stroke-width="0.5"/>
<line x1="143.40" y1="210.60" x2="143.40" y2="211.80" stroke="#333" stroke-width="0.5"/>
<line x1="148.43" y1="210.60" x2="148.43" y2="211.80" stroke="#333" stroke-width="0.5"/>
<line x1="153.47" y1="210.60" x2="153.47" y2="211.80" stroke="#333" stroke-width="0.5"/>
<line x1="158.50" y1="210.60" x2="158.50" y2="211.80" stroke="#333" stroke-width="0.5"/>
<circle cx="153.72" cy="196.84" r="0.5" fill="none" stroke="#444" stroke-width="0.3"/>
<circle cx="148.04" cy="197.93" r="0.5" fill="none" stroke="#444" stroke-width="0.3"/>
<circle cx="138.09" cy="198.57" r="0.5" fill="none" stroke="#444" stroke-width="0.3"/>
<circle cx="147.78" cy="193.22" r="0.5" fill="none" stroke="#444" stroke-width="0.3"/>
<circle cx="149.55" cy="196.13" r="0.5" fill="none" stroke="#444" stroke-width="0.3"/>
<circle cx="146.06" cy="195.38" r="0.5" fill="none" stroke="#444" stroke-width="0.3"/>
<circle cx="145.74" cy="197.58" r="0.5" fill="none" stroke="#444" stroke-width="0.3"/>
<circle cx="151.09" cy="193.29" r="0.5" fill="none" stroke="#444" stroke-width="0.3"/>
<circle cx="147.06" cy="197.85" r="0.5" fill="none" stroke="#444" stroke-width="0.3"/>
<circle cx="148.88" cy="194.43" r="0.5" fill="none" stroke="#444" stroke-width="0.3"/>
<circle cx="141.18" cy="197.42" r="0.5" fill="none" stroke="#444" stroke-width="0.3"/>
<circle cx="143.35" cy="196.57" r="0.5" fill="none" stroke="#444" stroke-width="0.3"/>
<circle cx="139.10" cy="197.83" r="0.5" fill="none" stroke="#444" stroke-width="0.3"/>
<circle cx="147.79" cy="194.31" r="0.5" fill="none" stroke="#444" stroke-width="0.3"/>
<circle cx="147.76" cy="195.24" r="0.5" fill="none" stroke="#444" stroke-width="0.3"/>
<circle cx="137.42" cy="195.39" r="0.5" fill="none" stroke="#444" stroke-width="0.3"/>
<circle cx="150.61" cy="195.68" r="0.5" fill="none" stroke="#444" stroke-width="0.3"/>
<circle cx="146.25" cy="194.33" r="0.5" fill="none" stroke="#444" stroke-width="0.3"/>
<line x1="137.36" y1="197.00" x2="153.97" y2="195.38" stroke="#111" stroke-width="0.6"/>
<text x="132.90" y="194.10" font-size="4.0" font-weight="bold" fill="#000" stroke="#000" stroke-width="0.112">r = 0.19 ~</text>
<text x="129.40" y="213.30" font-size="3.4" font-weight="bold" text-anchor="end" fill="#222" transform="rotate(-45 129.40 213.30)" stroke="#222" stroke-width="0.095">0</text>
<text x="134.43" y="213.30" font-size="3.4" font-weight="bold" text-anchor="end" fill="#222" transform="rotate(-45 134.43 213.30)" stroke="#222" stroke-width="0.095">5</text>
<text x="139.47" y="213.30" font-size="3.4" font-weight="bold" text-anchor="end" fill="#222" transform="rotate(-45 139.47 213.30)" stroke="#222" stroke-width="0.095">10</text>
<text x="144.50" y="213.30" font-size="3.4" font-weight="bold" text-anchor="end" fill="#222" transform="rotate(-45 144.50 213.30)" stroke="#222" stroke-width="0.095">15</text>
<text x="149.53" y="213.30" font-size="3.4" font-weight="bold" text-anchor="end" fill="#222" transform="rotate(-45 149.53 213.30)" stroke="#222" stroke-width="0.095">20</text>
<text x="154.57" y="213.30" font-size="3.4" font-weight="bold" text-anchor="end" fill="#222" transform="rotate(-45 154.57 213.30)" stroke="#222" stroke-width="0.095">25</text>
<text x="159.60" y="213.30" font-size="3.4" font-weight="bold" text-anchor="end" fill="#222" transform="rotate(-45 159.60 213.30)" stroke="#222" stroke-width="0.095">30</text>
<text x="143.90" y="223.10" font-size="3.45" font-weight="bold" text-anchor="middle" fill="#333" stroke="#333" stroke-width="0.097">Tumor burden (mm)</text>
<line x1="226.30" y1="27.60" x2="226.30" y2="47.40" stroke="#333" stroke-width="0.7"/>
<line x1="226.30" y1="47.40" x2="255.00" y2="47.40" stroke="#333" stroke-width="0.7"/>
<line x1="225.10" y1="47.40" x2="226.30" y2="47.40" stroke="#333" stroke-width="0.5"/>
<text x="225.90" y="48.60" font-size="3.4" font-weight="bold" text-anchor="end" fill="#585858" stroke="#585858" stroke-width="0.095">0</text>
<line x1="225.10" y1="42.45" x2="226.30" y2="42.45" stroke="#333" stroke-width="0.5"/>
<text x="225.90" y="43.65" font-size="3.4" font-weight="bold" text-anchor="end" fill="#585858" stroke="#585858" stroke-width="0.095">20</text>
<line x1="225.10" y1="37.50" x2="226.30" y2="37.50" stroke="#333" stroke-width="0.5"/>
<text x="225.90" y="38.70" font-size="3.4" font-weight="bold" text-anchor="end" fill="#585858" stroke="#585858" stroke-width="0.095">40</text>
<line x1="225.10" y1="32.55" x2="226.30" y2="32.55" stroke="#333" stroke-width="0.5"/>
<text x="225.90" y="33.75" font-size="3.4" font-weight="bold" text-anchor="end" fill="#585858" stroke="#585858" stroke-width="0.095">60</text>
<line x1="225.10" y1="27.60" x2="226.30" y2="27.60" stroke="#333" stroke-width="0.5"/>
<text x="225.90" y="28.80" font-size="3.4" font-weight="bold" text-anchor="end" fill="#585858" stroke="#585858" stroke-width="0.095">80</text>
<line x1="226.30" y1="47.40" x2="226.30" y2="48.60" stroke="#333" stroke-width="0.5"/>
<line x1="233.48" y1="47.40" x2="233.48" y2="48.60" stroke="#333" stroke-width="0.5"/>
<line x1="240.65" y1="47.40" x2="240.65" y2="48.60" stroke="#333" stroke-width="0.5"/>
<line x1="247.82" y1="47.40" x2="247.82" y2="48.60" stroke="#333" stroke-width="0.5"/>
<line x1="255.00" y1="47.40" x2="255.00" y2="48.60" stroke="#333" stroke-width="0.5"/>
<circle cx="246.44" cy="35.07" r="0.5" fill="none" stroke="#444" stroke-width="0.3"/>
<circle cx="238.61" cy="35.60" r="0.5" fill="none" stroke="#444" stroke-width="0.3"/>
<circle cx="235.19" cy="35.16" r="0.5" fill="none" stroke="#444" stroke-width="0.3"/>
<circle cx="237.71" cy="37.21" r="0.5" fill="none" stroke="#444" stroke-width="0.3"/>
<circle cx="247.99" cy="34.21" r="0.5" fill="none" stroke="#444" stroke-width="0.3"/>
<circle cx="241.12" cy="33.79" r="0.5" fill="none" stroke="#444" stroke-width="0.3"/>
<circle cx="242.97" cy="32.61" r="0.5" fill="none" stroke="#444" stroke-width="0.3"/>
<circle cx="245.63" cy="30.71" r="0.5" fill="none" stroke="#444" stroke-width="0.3"/>
<circle cx="246.12" cy="33.66" r="0.5" fill="none" stroke="#444" stroke-width="0.3"/>
<circle cx="238.65" cy="35.00" r="0.5" fill="none" stroke="#444" stroke-width="0.3"/>
<circle cx="248.05" cy="31.84" r="0.5" fill="none" stroke="#444" stroke-width="0.3"/>
<circle cx="234.00" cy="37.48" r="0.5" fill="none" stroke="#444" stroke-width="0.3"/>
<circle cx="234.93" cy="35.19" r="0.5" fill="none" stroke="#444" stroke-width="0.3"/>
<circle cx="247.07" cy="34.90" r="0.5" fill="none" stroke="#444" stroke-width="0.3"/>
<circle cx="246.76" cy="32.32" r="0.5" fill="none" stroke="#444" stroke-width="0.3"/>
<line x1="233.76" y1="35.72" x2="252.99" y2="31.36" stroke="#111" stroke-width="0.6"/>
<text x="228.30" y="45.20" font-size="4.0" font-weight="bold" fill="#000" stroke="#000" stroke-width="0.112">r = 0.25 *</text>
<line x1="262.60" y1="27.60" x2="262.60" y2="47.40" stroke="#333" stroke-width="0.7"/>
<line x1="262.60" y1="47.40" x2="291.50" y2="47.40" stroke="#333" stroke-width="0.7"/>
<line x1="261.40" y1="47.40" x2="262.60" y2="47.40" stroke="#333" stroke-width="0.5"/>
<text x="262.20" y="48.60" font-size="3.4" font-weight="bold" text-anchor="end" fill="#585858" stroke="#585858" stroke-width="0.095">0</text>
<line x1="261.40" y1="40.80" x2="262.60" y2="40.80" stroke="#333" stroke-width="0.5"/>
<text x="262.20" y="42.00" font-size="3.4" font-weight="bold" text-anchor="end" fill="#585858" stroke="#585858" stroke-width="0.095">20</text>
<line x1="261.40" y1="34.20" x2="262.60" y2="34.20" stroke="#333" stroke-width="0.5"/>
<text x="262.20" y="35.40" font-size="3.4" font-weight="bold" text-anchor="end" fill="#585858" stroke="#585858" stroke-width="0.095">40</text>
<line x1="261.40" y1="27.60" x2="262.60" y2="27.60" stroke="#333" stroke-width="0.5"/>
<text x="262.20" y="28.80" font-size="3.4" font-weight="bold" text-anchor="end" fill="#585858" stroke="#585858" stroke-width="0.095">60</text>
<line x1="262.60" y1="47.40" x2="262.60" y2="48.60" stroke="#333" stroke-width="0.5"/>
<line x1="277.05" y1="47.40" x2="277.05" y2="48.60" stroke="#333" stroke-width="0.5"/>
<line x1="291.50" y1="47.40" x2="291.50" y2="48.60" stroke="#333" stroke-width="0.5"/>
<circle cx="279.52" cy="38.14" r="0.5" fill="none" stroke="#444" stroke-width="0.3"/>
<circle cx="279.55" cy="38.72" r="0.5" fill="none" stroke="#444" stroke-width="0.3"/>
<circle cx="275.30" cy="38.48" r="0.5" fill="none" stroke="#444" stroke-width="0.3"/>
<circle cx="287.68" cy="36.76" r="0.5" fill="none" stroke="#444" stroke-width="0.3"/>
<circle cx="279.43" cy="36.29" r="0.5" fill="none" stroke="#444" stroke-width="0.3"/>
<circle cx="285.17" cy="38.06" r="0.5" fill="none" stroke="#444" stroke-width="0.3"/>
<circle cx="276.41" cy="36.04" r="0.5" fill="none" stroke="#444" stroke-width="0.3"/>
<line x1="272.14" y1="36.31" x2="288.03" y2="36.51" stroke="#111" stroke-width="0.6"/>
<text x="264.60" y="45.20" font-size="4.0" font-weight="bold" fill="#000" stroke="#000" stroke-width="0.112">r = -0.03 ~</text>
<line x1="301.30" y1="27.60" x2="301.30" y2="47.40" stroke="#333" stroke-width="0.7"/>
<line x1="301.30" y1="47.40" x2="329.80" y2="47.40" stroke="#333" stroke-width="0.7"/>
<line x1="300.10" y1="47.40" x2="301.30" y2="47.40" stroke="#333" stroke-width="0.5"/>
<text x="300.90" y="48.60" font-size="3.4" font-weight="bold" text-anchor="end" fill="#585858" stroke="#585858" stroke-width="0.095">0</text>
<line x1="300.10" y1="42.45" x2="301.30" y2="42.45" stroke="#333" stroke-width="0.5"/>
<text x="300.90" y="43.65" font-size="3.4" font-weight="bold" text-anchor="end" fill="#585858" stroke="#585858" stroke-width="0.095">5</text>
<line x1="300.10" y1="37.50" x2="301.30" y2="37.50" stroke="#333" stroke-width="0.5"/>
<text x="300.90" y="38.70" font-size="3.4" font-weight="bold" text-anchor="end" fill="#585858" stroke="#585858" stroke-width="0.095">10</text>
<line x1="300.10" y1="32.55" x2="301.30" y2="32.55" stroke="#333" stroke-width="0.5"/>
<text x="300.90" y="33.75" font-size="3.4" font-weight="bold" text-anchor="end" fill="#585858" stroke="#585858" stroke-width="0.095">15</text>
<line x1="300.10" y1="27.60" x2="301.30" y2="27.60" stroke="#333" stroke-width="0.5"/>
<text x="300.90" y="28.80" font-size="3.4" font-weight="bold" text-anchor="end" fill="#585858" stroke="#585858" stroke-width="0.095">20</text>
<line x1="301.30" y1="47.40" x2="301.30" y2="48.60" stroke="#333" stroke-width="0.5"/>
<line x1="306.05" y1="47.40" x2="306.05" y2="48.60" stroke="#333" stroke-width="0.5"/>
<line x1="310.80" y1="47.40" x2="310.80" y2="48.60" stroke="#333" stroke-width="0.5"/>
<line x1="315.55" y1="47.40" x2="315.55" y2="48.60" stroke="#333" stroke-width="0.5"/>
<line x1="320.30" y1="47.40" x2="320.30" y2="48.60" stroke="#333" stroke-width="0.5"/>
<line x1="325.05" y1="47.40" x2="325.05" y2="48.60" stroke="#333" stroke-width="0.5"/>
<line x1="329.80" y1="47.40" x2="329.80" y2="48.60" stroke="#333" stroke-width="0.5"/>
<circle cx="312.96" cy="40.03" r="0.5" fill="none" stroke="#444" stroke-width="0.3"/>
<circle cx="318.47" cy="37.99" r="0.5" fill="none" stroke="#444" stroke-width="0.3"/>
<circle cx="311.95" cy="35.57" r="0.5" fill="none" stroke="#444" stroke-width="0.3"/>
<circle cx="311.82" cy="38.66" r="0.5" fill="none" stroke="#444" stroke-width="0.3"/>
<circle cx="322.01" cy="34.76" r="0.5" fill="none" stroke="#444" stroke-width="0.3"/>
<circle cx="320.27" cy="37.92" r="0.5" fill="none" stroke="#444" stroke-width="0.3"/>
<circle cx="313.28" cy="40.39" r="0.5" fill="none" stroke="#444" stroke-width="0.3"/>
<circle cx="310.22" cy="38.40" r="0.5" fill="none" stroke="#444" stroke-width="0.3"/>
<circle cx="309.90" cy="37.85" r="0.5" fill="none" stroke="#444" stroke-width="0.3"/>
<circle cx="314.32" cy="38.97" r="0.5" fill="none" stroke="#444" stroke-width="0.3"/>
<circle cx="311.94" cy="38.48" r="0.5" fill="none" stroke="#444" stroke-width="0.3"/>
<circle cx="322.30" cy="38.89" r="0.5" fill="none" stroke="#444" stroke-width="0.3"/>
<circle cx="309.88" cy="39.49" r="0.5" fill="none" stroke="#444" stroke-width="0.3"/>
<circle cx="311.63" cy="36.40" r="0.5" fill="none" stroke="#444" stroke-width="0.3"/>
<circle cx="323.58" cy="36.91" r="0.5" fill="none" stroke="#444" stroke-width="0.3"/>
<circle cx="314.15" cy="35.79" r="0.5" fill="none" stroke="#444" stroke-width="0.3"/>
<circle cx="315.37" cy="34.49" r="0.5" fill="none" stroke="#444" stroke-width="0.3"/>
<circle cx="318.58" cy="41.71" r="0.5" fill="none" stroke="#444" stroke-width="0.3"/>
<line x1="309.85" y1="39.48" x2="324.67" y2="37.50" stroke="#111" stroke-width="0.6"/>
<text x="303.30" y="31.40" font-size="4.0" font-weight="bold" fill="#000" stroke="#000" stroke-width="0.112">r = 0.07 ~</text>
<line x1="226.30" y1="60.10" x2="226.30" y2="79.90" stroke="#333" stroke-width="0.7"/>
<line x1="226.30" y1="79.90" x2="255.00" y2="79.90" stroke="#333" stroke-width="0.7"/>
<line x1="225.10" y1="79.90" x2="226.30" y2="79.90" stroke="#333" stroke-width="0.5"/>
<text x="225.90" y="81.10" font-size="3.4" font-weight="bold" text-anchor="end" fill="#585858" stroke="#585858" stroke-width="0.095">0</text>
<line x1="225.10" y1="73.30" x2="226.30" y2="73.30" stroke="#333" stroke-width="0.5"/>
<text x="225.90" y="74.50" font-size="3.4" font-weight="bold" text-anchor="end" fill="#585858" stroke="#585858" stroke-width="0.095">5</text>
<line x1="225.10" y1="66.70" x2="226.30" y2="66.70" stroke="#333" stroke-width="0.5"/>
<text x="225.90" y="67.90" font-size="3.4" font-weight="bold" text-anchor="end" fill="#585858" stroke="#585858" stroke-width="0.095">10</text>
<line x1="225.10" y1="60.10" x2="226.30" y2="60.10" stroke="#333" stroke-width="0.5"/>
<text x="225.90" y="61.30" font-size="3.4" font-weight="bold" text-anchor="end" fill="#585858" stroke="#585858" stroke-width="0.095">15</text>
<line x1="226.30" y1="79.90" x2="226.30" y2="81.10" stroke="#333" stroke-width="0.5"/>
<line x1="233.48" y1="79.90" x2="233.48" y2="81.10" stroke="#333" stroke-width="0.5"/>
<line x1="240.65" y1="79.90" x2="240.65" y2="81.10" stroke="#333" stroke-width="0.5"/>
<line x1="247.82" y1="79.90" x2="247.82" y2="81.10" stroke="#333" stroke-width="0.5"/>
<line x1="255.00" y1="79.90" x2="255.00" y2="81.10" stroke="#333" stroke-width="0.5"/>
<circle cx="240.70" cy="68.88" r="0.5" fill="none" stroke="#444" stroke-width="0.3"/>
<circle cx="234.69" cy="71.03" r="0.5" fill="none" stroke="#444" stroke-width="0.3"/>
<circle cx="235.72" cy="71.03" r="0.5" fill="none" stroke="#444" stroke-width="0.3"/>
<circle cx="251.75" cy="67.88" r="0.5" fill="none" stroke="#444" stroke-width="0.3"/>
<circle cx="238.56" cy="69.97" r="0.5" fill="none" stroke="#444" stroke-width="0.3"/>
<circle cx="237.41" cy="72.02" r="0.5" fill="none" stroke="#444" stroke-width="0.3"/>
<circle cx="240.94" cy="72.90" r="0.5" fill="none" stroke="#444" stroke-width="0.3"/>
<circle cx="249.38" cy="68.31" r="0.5" fill="none" stroke="#444" stroke-width="0.3"/>
<circle cx="245.89" cy="72.49" r="0.5" fill="none" stroke="#444" stroke-width="0.3"/>
<circle cx="244.32" cy="67.79" r="0.5" fill="none" stroke="#444" stroke-width="0.3"/>
<circle cx="247.60" cy="71.61" r="0.5" fill="none" stroke="#444" stroke-width="0.3"/>
<circle cx="242.43" cy="70.53" r="0.5" fill="none" stroke="#444" stroke-width="0.3"/>
<circle cx="248.24" cy="68.50" r="0.5" fill="none" stroke="#444" stroke-width="0.3"/>
<circle cx="234.70" cy="69.55" r="0.5" fill="none" stroke="#444" stroke-width="0.3"/>
<circle cx="251.58" cy="70.11" r="0.5" fill="none" stroke="#444" stroke-width="0.3"/>
<line x1="233.76" y1="70.59" x2="252.99" y2="68.81" stroke="#111" stroke-width="0.6"/>
<text x="228.30" y="77.70" font-size="4.0" font-weight="bold" fill="#000" stroke="#000" stroke-width="0.112">r = 0.24 ~</text>
<line x1="262.60" y1="60.10" x2="262.60" y2="79.90" stroke="#333" stroke-width="0.7"/>
<line x1="262.60" y1="79.90" x2="291.50" y2="79.90" stroke="#333" stroke-width="0.7"/>
<line x1="261.40" y1="79.90" x2="262.60" y2="79.90" stroke="#333" stroke-width="0.5"/>
<text x="262.20" y="81.10" font-size="3.4" font-weight="bold" text-anchor="end" fill="#585858" stroke="#585858" stroke-width="0.095">0</text>
<line x1="261.40" y1="73.30" x2="262.60" y2="73.30" stroke="#333" stroke-width="0.5"/>
<text x="262.20" y="74.50" font-size="3.4" font-weight="bold" text-anchor="end" fill="#585858" stroke="#585858" stroke-width="0.095">5</text>
<line x1="261.40" y1="66.70" x2="262.60" y2="66.70" stroke="#333" stroke-width="0.5"/>
<text x="262.20" y="67.90" font-size="3.4" font-weight="bold" text-anchor="end" fill="#585858" stroke="#585858" stroke-width="0.095">10</text>
<line x1="261.40" y1="60.10" x2="262.60" y2="60.10" stroke="#333" stroke-width="0.5"/>
<text x="262.20" y="61.30" font-size="3.4" font-weight="bold" text-anchor="end" fill="#585858" stroke="#585858" stroke-width="0.095">15</text>
<line x1="262.60" y1="79.90" x2="262.60" y2="81.10" stroke="#333" stroke-width="0.5"/>
<line x1="277.05" y1="79.90" x2="277.05" y2="81.10" stroke="#333" stroke-width="0.5"/>
<line x1="291.50" y1="79.90" x2="291.50" y2="81.10" stroke="#333" stroke-width="0.5"/>
<circle cx="278.00" cy="67.36" r="0.5" fill="none" stroke="#444" stroke-width="0.3"/>
<circle cx="277.21" cy="65.94" r="0.5" fill="none" stroke="#444" stroke-width="0.3"/>
<circle cx="276.57" cy="62.22" r="0.5" fill="none" stroke="#444" stroke-width="0.3"/>
<circle cx="283.32" cy="65.13" r="0.5" fill="none" stroke="#444" stroke-width="0.3"/>
<circle cx="278.86" cy="67.89" r="0.5" fill="none" stroke="#444" stroke-width="0.3"/>
<circle cx="274.99" cy="66.94" r="0.5" fill="none" stroke="#444" stroke-width="0.3"/>
<circle cx="287.58" cy="66.24" r="0.5" fill="none" stroke="#444" stroke-width="0.3"/>
<line x1="272.14" y1="66.63" x2="289.19" y2="65.25" stroke="#111" stroke-width="0.6"/>
<text x="264.60" y="77.70" font-size="4.0" font-weight="bold" fill="#000" stroke="#000" stroke-width="0.112">r = 0.26 ~</text>
<line x1="301.30" y1="60.10" x2="301.30" y2="79.90" stroke="#333" stroke-width="0.7"/>
<line x1="301.30" y1="79.90" x2="329.80" y2="79.90" stroke="#333" stroke-width="0.7"/>
<line x1="300.10" y1="79.90" x2="301.30" y2="79.90" stroke="#333" stroke-width="0.5"/>
<text x="300.90" y="81.10" font-size="3.4" font-weight="bold" text-anchor="end" fill="#585858" stroke="#585858" stroke-width="0.095">0</text>
<line x1="300.10" y1="76.60" x2="301.30" y2="76.60" stroke="#333" stroke-width="0.5"/>
<text x="300.90" y="77.80" font-size="3.4" font-weight="bold" text-anchor="end" fill="#585858" stroke="#585858" stroke-width="0.095">2</text>
<line x1="300.10" y1="73.30" x2="301.30" y2="73.30" stroke="#333" stroke-width="0.5"/>
<text x="300.90" y="74.50" font-size="3.4" font-weight="bold" text-anchor="end" fill="#585858" stroke="#585858" stroke-width="0.095">4</text>
<line x1="300.10" y1="70.00" x2="301.30" y2="70.00" stroke="#333" stroke-width="0.5"/>
<text x="300.90" y="71.20" font-size="3.4" font-weight="bold" text-anchor="end" fill="#585858" stroke="#585858" stroke-width="0.095">6</text>
<line x1="300.10" y1="66.70" x2="301.30" y2="66.70" stroke="#333" stroke-width="0.5"/>
<text x="300.90" y="67.90" font-size="3.4" font-weight="bold" text-anchor="end" fill="#585858" stroke="#585858" stroke-width="0.095">8</text>
<line x1="300.10" y1="63.40" x2="301.30" y2="63.40" stroke="#333" stroke-width="0.5"/>
<text x="300.90" y="64.60" font-size="3.4" font-weight="bold" text-anchor="end" fill="#585858" stroke="#585858" stroke-width="0.095">10</text>
<line x1="300.10" y1="60.10" x2="301.30" y2="60.10" stroke="#333" stroke-width="0.5"/>
<text x="300.90" y="61.30" font-size="3.4" font-weight="bold" text-anchor="end" fill="#585858" stroke="#585858" stroke-width="0.095">12</text>
<line x1="301.30" y1="79.90" x2="301.30" y2="81.10" stroke="#333" stroke-width="0.5"/>
<line x1="306.05" y1="79.90" x2="306.05" y2="81.10" stroke="#333" stroke-width="0.5"/>
<line x1="310.80" y1="79.90" x2="310.80" y2="81.10" stroke="#333" stroke-width="0.5"/>
<line x1="315.55" y1="79.90" x2="315.55" y2="81.10" stroke="#333" stroke-width="0.5"/>
<line x1="320.30" y1="79.90" x2="320.30" y2="81.10" stroke="#333" stroke-width="0.5"/>
<line x1="325.05" y1="79.90" x2="325.05" y2="81.10" stroke="#333" stroke-width="0.5"/>
<line x1="329.80" y1="79.90" x2="329.80" y2="81.10" stroke="#333" stroke-width="0.5"/>
<circle cx="317.64" cy="72.61" r="0.5" fill="none" stroke="#444" stroke-width="0.3"/>
<circle cx="325.19" cy="71.42" r="0.5" fill="none" stroke="#444" stroke-width="0.3"/>
<circle cx="316.93" cy="72.98" r="0.5" fill="none" stroke="#444" stroke-width="0.3"/>
<circle cx="311.51" cy="75.81" r="0.5" fill="none" stroke="#444" stroke-width="0.3"/>
<circle cx="315.30" cy="74.09" r="0.5" fill="none" stroke="#444" stroke-width="0.3"/>
<circle cx="314.04" cy="74.39" r="0.5" fill="none" stroke="#444" stroke-width="0.3"/>
<circle cx="318.74" cy="73.33" r="0.5" fill="none" stroke="#444" stroke-width="0.3"/>
<circle cx="316.37" cy="71.03" r="0.5" fill="none" stroke="#444" stroke-width="0.3"/>
<circle cx="316.39" cy="71.20" r="0.5" fill="none" stroke="#444" stroke-width="0.3"/>
<circle cx="315.24" cy="72.98" r="0.5" fill="none" stroke="#444" stroke-width="0.3"/>
<circle cx="311.07" cy="74.61" r="0.5" fill="none" stroke="#444" stroke-width="0.3"/>
<circle cx="312.04" cy="78.63" r="0.5" fill="none" stroke="#444" stroke-width="0.3"/>
<circle cx="317.74" cy="69.92" r="0.5" fill="none" stroke="#444" stroke-width="0.3"/>
<circle cx="313.40" cy="71.96" r="0.5" fill="none" stroke="#444" stroke-width="0.3"/>
<circle cx="314.23" cy="73.72" r="0.5" fill="none" stroke="#444" stroke-width="0.3"/>
<circle cx="316.87" cy="73.89" r="0.5" fill="none" stroke="#444" stroke-width="0.3"/>
<circle cx="324.54" cy="70.32" r="0.5" fill="none" stroke="#444" stroke-width="0.3"/>
<circle cx="310.46" cy="73.12" r="0.5" fill="none" stroke="#444" stroke-width="0.3"/>
<line x1="310.13" y1="75.74" x2="325.24" y2="68.22" stroke="#111" stroke-width="0.6"/>
<text x="303.30" y="63.90" font-size="4.0" font-weight="bold" fill="#000" stroke="#000" stroke-width="0.112">r = 0.56 **</text>
<line x1="226.30" y1="93.80" x2="226.30" y2="113.20" stroke="#333" stroke-width="0.7"/>
<line x1="226.30" y1="113.20" x2="255.00" y2="113.20" stroke="#333" stroke-width="0.7"/>
<line x1="225.10" y1="113.20" x2="226.30" y2="113.20" stroke="#333" stroke-width="0.5"/>
<text x="225.90" y="114.40" font-size="3.4" font-weight="bold" text-anchor="end" fill="#585858" stroke="#585858" stroke-width="0.095">0</text>
<line x1="225.10" y1="108.35" x2="226.30" y2="108.35" stroke="#333" stroke-width="0.5"/>
<text x="225.90" y="109.55" font-size="3.4" font-weight="bold" text-anchor="end" fill="#585858" stroke="#585858" stroke-width="0.095">2</text>
<line x1="225.10" y1="103.50" x2="226.30" y2="103.50" stroke="#333" stroke-width="0.5"/>
<text x="225.90" y="104.70" font-size="3.4" font-weight="bold" text-anchor="end" fill="#585858" stroke="#585858" stroke-width="0.095">4</text>
<line x1="225.10" y1="98.65" x2="226.30" y2="98.65" stroke="#333" stroke-width="0.5"/>
<text x="225.90" y="99.85" font-size="3.4" font-weight="bold" text-anchor="end" fill="#585858" stroke="#585858" stroke-width="0.095">6</text>
<line x1="225.10" y1="93.80" x2="226.30" y2="93.80" stroke="#333" stroke-width="0.5"/>
<text x="225.90" y="95.00" font-size="3.4" font-weight="bold" text-anchor="end" fill="#585858" stroke="#585858" stroke-width="0.095">8</text>
<line x1="226.30" y1="113.20" x2="226.30" y2="114.40" stroke="#333" stroke-width="0.5"/>
<line x1="233.48" y1="113.20" x2="233.48" y2="114.40" stroke="#333" stroke-width="0.5"/>
<line x1="240.65" y1="113.20" x2="240.65" y2="114.40" stroke="#333" stroke-width="0.5"/>
<line x1="247.82" y1="113.20" x2="247.82" y2="114.40" stroke="#333" stroke-width="0.5"/>
<line x1="255.00" y1="113.20" x2="255.00" y2="114.40" stroke="#333" stroke-width="0.5"/>
<circle cx="236.60" cy="110.69" r="0.5" fill="none" stroke="#444" stroke-width="0.3"/>
<circle cx="244.07" cy="103.43" r="0.5" fill="none" stroke="#444" stroke-width="0.3"/>
<circle cx="246.00" cy="106.57" r="0.5" fill="none" stroke="#444" stroke-width="0.3"/>
<circle cx="251.75" cy="101.24" r="0.5" fill="none" stroke="#444" stroke-width="0.3"/>
<circle cx="250.04" cy="104.79" r="0.5" fill="none" stroke="#444" stroke-width="0.3"/>
<circle cx="240.27" cy="105.93" r="0.5" fill="none" stroke="#444" stroke-width="0.3"/>
<circle cx="237.90" cy="111.59" r="0.5" fill="none" stroke="#444" stroke-width="0.3"/>
<circle cx="247.61" cy="105.49" r="0.5" fill="none" stroke="#444" stroke-width="0.3"/>
<circle cx="252.00" cy="100.69" r="0.5" fill="none" stroke="#444" stroke-width="0.3"/>
<circle cx="249.01" cy="101.02" r="0.5" fill="none" stroke="#444" stroke-width="0.3"/>
<circle cx="243.80" cy="106.22" r="0.5" fill="none" stroke="#444" stroke-width="0.3"/>
<circle cx="249.30" cy="102.76" r="0.5" fill="none" stroke="#444" stroke-width="0.3"/>
<circle cx="240.00" cy="111.02" r="0.5" fill="none" stroke="#444" stroke-width="0.3"/>
<circle cx="241.20" cy="107.35" r="0.5" fill="none" stroke="#444" stroke-width="0.3"/>
<circle cx="238.22" cy="110.35" r="0.5" fill="none" stroke="#444" stroke-width="0.3"/>
<line x1="236.06" y1="111.84" x2="252.99" y2="100.40" stroke="#111" stroke-width="0.6"/>
<text x="228.30" y="97.60" font-size="4.0" font-weight="bold" fill="#000" stroke="#000" stroke-width="0.112">r = 0.67 ***†</text>
<line x1="262.60" y1="93.80" x2="262.60" y2="113.20" stroke="#333" stroke-width="0.7"/>
<line x1="262.60" y1="113.20" x2="291.50" y2="113.20" stroke="#333" stroke-width="0.7"/>
<line x1="261.40" y1="113.20" x2="262.60" y2="113.20" stroke="#333" stroke-width="0.5"/>
<text x="262.20" y="114.40" font-size="3.4" font-weight="bold" text-anchor="end" fill="#585858" stroke="#585858" stroke-width="0.095">0</text>
<line x1="261.40" y1="108.35" x2="262.60" y2="108.35" stroke="#333" stroke-width="0.5"/>
<text x="262.20" y="109.55" font-size="3.4" font-weight="bold" text-anchor="end" fill="#585858" stroke="#585858" stroke-width="0.095">2</text>
<line x1="261.40" y1="103.50" x2="262.60" y2="103.50" stroke="#333" stroke-width="0.5"/>
<text x="262.20" y="104.70" font-size="3.4" font-weight="bold" text-anchor="end" fill="#585858" stroke="#585858" stroke-width="0.095">4</text>
<line x1="261.40" y1="98.65" x2="262.60" y2="98.65" stroke="#333" stroke-width="0.5"/>
<text x="262.20" y="99.85" font-size="3.4" font-weight="bold" text-anchor="end" fill="#585858" stroke="#585858" stroke-width="0.095">6</text>
<line x1="261.40" y1="93.80" x2="262.60" y2="93.80" stroke="#333" stroke-width="0.5"/>
<text x="262.20" y="95.00" font-size="3.4" font-weight="bold" text-anchor="end" fill="#585858" stroke="#585858" stroke-width="0.095">8</text>
<line x1="262.60" y1="113.20" x2="262.60" y2="114.40" stroke="#333" stroke-width="0.5"/>
<line x1="277.05" y1="113.20" x2="277.05" y2="114.40" stroke="#333" stroke-width="0.5"/>
<line x1="291.50" y1="113.20" x2="291.50" y2="114.40" stroke="#333" stroke-width="0.5"/>
<circle cx="282.03" cy="111.51" r="0.5" fill="none" stroke="#444" stroke-width="0.3"/>
<circle cx="273.72" cy="111.27" r="0.5" fill="none" stroke="#444" stroke-width="0.3"/>
<circle cx="280.39" cy="110.24" r="0.5" fill="none" stroke="#444" stroke-width="0.3"/>
<circle cx="277.63" cy="109.88" r="0.5" fill="none" stroke="#444" stroke-width="0.3"/>
<circle cx="272.29" cy="111.65" r="0.5" fill="none" stroke="#444" stroke-width="0.3"/>
<circle cx="276.41" cy="106.03" r="0.5" fill="none" stroke="#444" stroke-width="0.3"/>
<circle cx="281.26" cy="110.36" r="0.5" fill="none" stroke="#444" stroke-width="0.3"/>
<line x1="272.14" y1="109.71" x2="286.30" y2="109.32" stroke="#111" stroke-width="0.6"/>
<text x="264.60" y="97.60" font-size="4.0" font-weight="bold" fill="#000" stroke="#000" stroke-width="0.112">r = 0.13 ~</text>
<line x1="301.30" y1="93.80" x2="301.30" y2="113.20" stroke="#333" stroke-width="0.7"/>
<line x1="301.30" y1="113.20" x2="329.80" y2="113.20" stroke="#333" stroke-width="0.7"/>
<line x1="300.10" y1="113.20" x2="301.30" y2="113.20" stroke="#333" stroke-width="0.5"/>
<text x="300.90" y="114.40" font-size="3.4" font-weight="bold" text-anchor="end" fill="#585858" stroke="#585858" stroke-width="0.095">0</text>
<line x1="300.10" y1="108.35" x2="301.30" y2="108.35" stroke="#333" stroke-width="0.5"/>
<text x="300.90" y="109.55" font-size="3.4" font-weight="bold" text-anchor="end" fill="#585858" stroke="#585858" stroke-width="0.095">4</text>
<line x1="300.10" y1="103.50" x2="301.30" y2="103.50" stroke="#333" stroke-width="0.5"/>
<text x="300.90" y="104.70" font-size="3.4" font-weight="bold" text-anchor="end" fill="#585858" stroke="#585858" stroke-width="0.095">8</text>
<line x1="300.10" y1="98.65" x2="301.30" y2="98.65" stroke="#333" stroke-width="0.5"/>
<text x="300.90" y="99.85" font-size="3.4" font-weight="bold" text-anchor="end" fill="#585858" stroke="#585858" stroke-width="0.095">12</text>
<line x1="300.10" y1="93.80" x2="301.30" y2="93.80" stroke="#333" stroke-width="0.5"/>
<text x="300.90" y="95.00" font-size="3.4" font-weight="bold" text-anchor="end" fill="#585858" stroke="#585858" stroke-width="0.095">16</text>
<line x1="301.30" y1="113.20" x2="301.30" y2="114.40" stroke="#333" stroke-width="0.5"/>
<line x1="306.05" y1="113.20" x2="306.05" y2="114.40" stroke="#333" stroke-width="0.5"/>
<line x1="310.80" y1="113.20" x2="310.80" y2="114.40" stroke="#333" stroke-width="0.5"/>
<line x1="315.55" y1="113.20" x2="315.55" y2="114.40" stroke="#333" stroke-width="0.5"/>
<line x1="320.30" y1="113.20" x2="320.30" y2="114.40" stroke="#333" stroke-width="0.5"/>
<line x1="325.05" y1="113.20" x2="325.05" y2="114.40" stroke="#333" stroke-width="0.5"/>
<line x1="329.80" y1="113.20" x2="329.80" y2="114.40" stroke="#333" stroke-width="0.5"/>
<circle cx="322.95" cy="103.35" r="0.5" fill="none" stroke="#444" stroke-width="0.3"/>
<circle cx="313.51" cy="106.29" r="0.5" fill="none" stroke="#444" stroke-width="0.3"/>
<circle cx="324.09" cy="103.84" r="0.5" fill="none" stroke="#444" stroke-width="0.3"/>
<circle cx="310.17" cy="105.54" r="0.5" fill="none" stroke="#444" stroke-width="0.3"/>
<circle cx="317.23" cy="104.75" r="0.5" fill="none" stroke="#444" stroke-width="0.3"/>
<circle cx="313.66" cy="104.75" r="0.5" fill="none" stroke="#444" stroke-width="0.3"/>
<circle cx="319.74" cy="105.92" r="0.5" fill="none" stroke="#444" stroke-width="0.3"/>
<circle cx="310.36" cy="106.23" r="0.5" fill="none" stroke="#444" stroke-width="0.3"/>
<circle cx="314.86" cy="103.94" r="0.5" fill="none" stroke="#444" stroke-width="0.3"/>
<circle cx="312.79" cy="107.32" r="0.5" fill="none" stroke="#444" stroke-width="0.3"/>
<circle cx="321.66" cy="104.52" r="0.5" fill="none" stroke="#444" stroke-width="0.3"/>
<circle cx="312.89" cy="104.52" r="0.5" fill="none" stroke="#444" stroke-width="0.3"/>
<circle cx="324.22" cy="103.14" r="0.5" fill="none" stroke="#444" stroke-width="0.3"/>
<circle cx="313.27" cy="108.67" r="0.5" fill="none" stroke="#444" stroke-width="0.3"/>
<circle cx="313.13" cy="106.28" r="0.5" fill="none" stroke="#444" stroke-width="0.3"/>
<circle cx="323.96" cy="103.00" r="0.5" fill="none" stroke="#444" stroke-width="0.3"/>
<circle cx="317.20" cy="105.85" r="0.5" fill="none" stroke="#444" stroke-width="0.3"/>
<circle cx="316.03" cy="106.62" r="0.5" fill="none" stroke="#444" stroke-width="0.3"/>
<line x1="309.85" y1="106.80" x2="324.67" y2="104.08" stroke="#111" stroke-width="0.6"/>
<text x="303.30" y="97.60" font-size="4.0" font-weight="bold" fill="#000" stroke="#000" stroke-width="0.112">r = 0.26 ~</text>
<line x1="226.30" y1="125.60" x2="226.30" y2="145.50" stroke="#333" stroke-width="0.7"/>
<line x1="226.30" y1="145.50" x2="255.00" y2="145.50" stroke="#333" stroke-width="0.7"/>
<line x1="225.10" y1="145.50" x2="226.30" y2="145.50" stroke="#333" stroke-width="0.5"/>
<text x="225.90" y="146.70" font-size="3.4" font-weight="bold" text-anchor="end" fill="#585858" stroke="#585858" stroke-width="0.095">0</text>
<line x1="225.10" y1="141.52" x2="226.30" y2="141.52" stroke="#333" stroke-width="0.5"/>
<text x="225.90" y="142.72" font-size="3.4" font-weight="bold" text-anchor="end" fill="#585858" stroke="#585858" stroke-width="0.095">10</text>
<line x1="225.10" y1="137.54" x2="226.30" y2="137.54" stroke="#333" stroke-width="0.5"/>
<text x="225.90" y="138.74" font-size="3.4" font-weight="bold" text-anchor="end" fill="#585858" stroke="#585858" stroke-width="0.095">20</text>
<line x1="225.10" y1="133.56" x2="226.30" y2="133.56" stroke="#333" stroke-width="0.5"/>
<text x="225.90" y="134.76" font-size="3.4" font-weight="bold" text-anchor="end" fill="#585858" stroke="#585858" stroke-width="0.095">30</text>
<line x1="225.10" y1="129.58" x2="226.30" y2="129.58" stroke="#333" stroke-width="0.5"/>
<text x="225.90" y="130.78" font-size="3.4" font-weight="bold" text-anchor="end" fill="#585858" stroke="#585858" stroke-width="0.095">40</text>
<line x1="225.10" y1="125.60" x2="226.30" y2="125.60" stroke="#333" stroke-width="0.5"/>
<text x="225.90" y="126.80" font-size="3.4" font-weight="bold" text-anchor="end" fill="#585858" stroke="#585858" stroke-width="0.095">50</text>
<line x1="226.30" y1="145.50" x2="226.30" y2="146.70" stroke="#333" stroke-width="0.5"/>
<line x1="233.48" y1="145.50" x2="233.48" y2="146.70" stroke="#333" stroke-width="0.5"/>
<line x1="240.65" y1="145.50" x2="240.65" y2="146.70" stroke="#333" stroke-width="0.5"/>
<line x1="247.82" y1="145.50" x2="247.82" y2="146.70" stroke="#333" stroke-width="0.5"/>
<line x1="255.00" y1="145.50" x2="255.00" y2="146.70" stroke="#333" stroke-width="0.5"/>
<circle cx="245.98" cy="137.09" r="0.5" fill="none" stroke="#444" stroke-width="0.3"/>
<circle cx="240.99" cy="138.90" r="0.5" fill="none" stroke="#444" stroke-width="0.3"/>
<circle cx="237.67" cy="141.88" r="0.5" fill="none" stroke="#444" stroke-width="0.3"/>
<circle cx="234.71" cy="142.63" r="0.5" fill="none" stroke="#444" stroke-width="0.3"/>
<circle cx="234.87" cy="140.18" r="0.5" fill="none" stroke="#444" stroke-width="0.3"/>
<circle cx="249.99" cy="135.97" r="0.5" fill="none" stroke="#444" stroke-width="0.3"/>
<circle cx="247.22" cy="139.04" r="0.5" fill="none" stroke="#444" stroke-width="0.3"/>
<circle cx="239.81" cy="139.78" r="0.5" fill="none" stroke="#444" stroke-width="0.3"/>
<circle cx="237.17" cy="143.63" r="0.5" fill="none" stroke="#444" stroke-width="0.3"/>
<circle cx="234.35" cy="142.01" r="0.5" fill="none" stroke="#444" stroke-width="0.3"/>
<circle cx="245.97" cy="135.26" r="0.5" fill="none" stroke="#444" stroke-width="0.3"/>
<circle cx="239.85" cy="140.81" r="0.5" fill="none" stroke="#444" stroke-width="0.3"/>
<circle cx="236.87" cy="142.73" r="0.5" fill="none" stroke="#444" stroke-width="0.3"/>
<circle cx="240.22" cy="139.63" r="0.5" fill="none" stroke="#444" stroke-width="0.3"/>
<circle cx="251.31" cy="135.98" r="0.5" fill="none" stroke="#444" stroke-width="0.3"/>
<line x1="233.76" y1="143.31" x2="252.13" y2="132.76" stroke="#111" stroke-width="0.6"/>
<text x="228.30" y="129.40" font-size="4.0" font-weight="bold" fill="#000" stroke="#000" stroke-width="0.112">r = 0.70 ***</text>
<line x1="262.60" y1="125.60" x2="262.60" y2="145.50" stroke="#333" stroke-width="0.7"/>
<line x1="262.60" y1="145.50" x2="291.50" y2="145.50" stroke="#333" stroke-width="0.7"/>
<line x1="261.40" y1="145.50" x2="262.60" y2="145.50" stroke="#333" stroke-width="0.5"/>
<text x="262.20" y="146.70" font-size="3.4" font-weight="bold" text-anchor="end" fill="#585858" stroke="#585858" stroke-width="0.095">0</text>
<line x1="261.40" y1="141.52" x2="262.60" y2="141.52" stroke="#333" stroke-width="0.5"/>
<text x="262.20" y="142.72" font-size="3.4" font-weight="bold" text-anchor="end" fill="#585858" stroke="#585858" stroke-width="0.095">10</text>
<line x1="261.40" y1="137.54" x2="262.60" y2="137.54" stroke="#333" stroke-width="0.5"/>
<text x="262.20" y="138.74" font-size="3.4" font-weight="bold" text-anchor="end" fill="#585858" stroke="#585858" stroke-width="0.095">20</text>
<line x1="261.40" y1="133.56" x2="262.60" y2="133.56" stroke="#333" stroke-width="0.5"/>
<text x="262.20" y="134.76" font-size="3.4" font-weight="bold" text-anchor="end" fill="#585858" stroke="#585858" stroke-width="0.095">30</text>
<line x1="261.40" y1="129.58" x2="262.60" y2="129.58" stroke="#333" stroke-width="0.5"/>
<text x="262.20" y="130.78" font-size="3.4" font-weight="bold" text-anchor="end" fill="#585858" stroke="#585858" stroke-width="0.095">40</text>
<line x1="261.40" y1="125.60" x2="262.60" y2="125.60" stroke="#333" stroke-width="0.5"/>
<text x="262.20" y="126.80" font-size="3.4" font-weight="bold" text-anchor="end" fill="#585858" stroke="#585858" stroke-width="0.095">50</text>
<line x1="262.60" y1="145.50" x2="262.60" y2="146.70" stroke="#333" stroke-width="0.5"/>
<line x1="277.05" y1="145.50" x2="277.05" y2="146.70" stroke="#333" stroke-width="0.5"/>
<line x1="291.50" y1="145.50" x2="291.50" y2="146.70" stroke="#333" stroke-width="0.5"/>
<circle cx="275.61" cy="143.37" r="0.5" fill="none" stroke="#444" stroke-width="0.3"/>
<circle cx="278.11" cy="141.55" r="0.5" fill="none" stroke="#444" stroke-width="0.3"/>
<circle cx="279.39" cy="137.68" r="0.5" fill="none" stroke="#444" stroke-width="0.3"/>
<circle cx="272.96" cy="139.59" r="0.5" fill="none" stroke="#444" stroke-width="0.3"/>
<circle cx="287.55" cy="139.35" r="0.5" fill="none" stroke="#444" stroke-width="0.3"/>
<circle cx="275.37" cy="138.61" r="0.5" fill="none" stroke="#444" stroke-width="0.3"/>
<circle cx="272.64" cy="143.45" r="0.5" fill="none" stroke="#444" stroke-width="0.3"/>
<line x1="272.14" y1="141.12" x2="288.90" y2="138.93" stroke="#111" stroke-width="0.6"/>
<text x="264.60" y="129.40" font-size="4.0" font-weight="bold" fill="#000" stroke="#000" stroke-width="0.112">r = 0.79 *</text>
<text x="316.30" y="136.10" font-size="4.6" font-weight="bold" text-anchor="middle" fill="#000" stroke="#000" stroke-width="0.129">N.D.</text>
<line x1="226.30" y1="157.80" x2="226.30" y2="178.30" stroke="#333" stroke-width="0.7"/>
<line x1="226.30" y1="178.30" x2="255.00" y2="178.30" stroke="#333" stroke-width="0.7"/>
<line x1="225.10" y1="178.30" x2="226.30" y2="178.30" stroke="#333" stroke-width="0.5"/>
<text x="225.90" y="179.50" font-size="3.4" font-weight="bold" text-anchor="end" fill="#585858" stroke="#585858" stroke-width="0.095">70</text>
<line x1="225.10" y1="171.47" x2="226.30" y2="171.47" stroke="#333" stroke-width="0.5"/>
<text x="225.90" y="172.67" font-size="3.4" font-weight="bold" text-anchor="end" fill="#585858" stroke="#585858" stroke-width="0.095">80</text>
<line x1="225.10" y1="164.63" x2="226.30" y2="164.63" stroke="#333" stroke-width="0.5"/>
<text x="225.90" y="165.83" font-size="3.4" font-weight="bold" text-anchor="end" fill="#585858" stroke="#585858" stroke-width="0.095">90</text>
<line x1="225.10" y1="157.80" x2="226.30" y2="157.80" stroke="#333" stroke-width="0.5"/>
<text x="225.90" y="159.00" font-size="3.4" font-weight="bold" text-anchor="end" fill="#585858" stroke="#585858" stroke-width="0.095">100</text>
<line x1="226.30" y1="178.30" x2="226.30" y2="179.50" stroke="#333" stroke-width="0.5"/>
<line x1="233.48" y1="178.30" x2="233.48" y2="179.50" stroke="#333" stroke-width="0.5"/>
<line x1="240.65" y1="178.30" x2="240.65" y2="179.50" stroke="#333" stroke-width="0.5"/>
<line x1="247.82" y1="178.30" x2="247.82" y2="179.50" stroke="#333" stroke-width="0.5"/>
<line x1="255.00" y1="178.30" x2="255.00" y2="179.50" stroke="#333" stroke-width="0.5"/>
<circle cx="241.32" cy="163.12" r="0.5" fill="none" stroke="#444" stroke-width="0.3"/>
<circle cx="233.99" cy="158.94" r="0.5" fill="none" stroke="#444" stroke-width="0.3"/>
<circle cx="233.88" cy="164.55" r="0.5" fill="none" stroke="#444" stroke-width="0.3"/>
<circle cx="238.28" cy="163.14" r="0.5" fill="none" stroke="#444" stroke-width="0.3"/>
<circle cx="247.99" cy="163.94" r="0.5" fill="none" stroke="#444" stroke-width="0.3"/>
<circle cx="238.58" cy="161.01" r="0.5" fill="none" stroke="#444" stroke-width="0.3"/>
<circle cx="252.15" cy="162.36" r="0.5" fill="none" stroke="#444" stroke-width="0.3"/>
<circle cx="247.38" cy="161.95" r="0.5" fill="none" stroke="#444" stroke-width="0.3"/>
<circle cx="239.46" cy="161.91" r="0.5" fill="none" stroke="#444" stroke-width="0.3"/>
<circle cx="248.15" cy="162.97" r="0.5" fill="none" stroke="#444" stroke-width="0.3"/>
<circle cx="251.34" cy="160.71" r="0.5" fill="none" stroke="#444" stroke-width="0.3"/>
<circle cx="233.67" cy="158.83" r="0.5" fill="none" stroke="#444" stroke-width="0.3"/>
<circle cx="237.82" cy="158.83" r="0.5" fill="none" stroke="#444" stroke-width="0.3"/>
<circle cx="252.08" cy="163.84" r="0.5" fill="none" stroke="#444" stroke-width="0.3"/>
<circle cx="240.84" cy="162.07" r="0.5" fill="none" stroke="#444" stroke-width="0.3"/>
<line x1="233.19" y1="161.29" x2="252.99" y2="163.34" stroke="#111" stroke-width="0.6"/>
<text x="228.30" y="176.10" font-size="4.0" font-weight="bold" fill="#000" stroke="#000" stroke-width="0.112">r = -0.17 ~</text>
<line x1="262.60" y1="157.80" x2="262.60" y2="178.30" stroke="#333" stroke-width="0.7"/>
<line x1="262.60" y1="178.30" x2="291.50" y2="178.30" stroke="#333" stroke-width="0.7"/>
<line x1="261.40" y1="178.30" x2="262.60" y2="178.30" stroke="#333" stroke-width="0.5"/>
<text x="262.20" y="179.50" font-size="3.4" font-weight="bold" text-anchor="end" fill="#585858" stroke="#585858" stroke-width="0.095">70</text>
<line x1="261.40" y1="171.47" x2="262.60" y2="171.47" stroke="#333" stroke-width="0.5"/>
<text x="262.20" y="172.67" font-size="3.4" font-weight="bold" text-anchor="end" fill="#585858" stroke="#585858" stroke-width="0.095">80</text>
<line x1="261.40" y1="164.63" x2="262.60" y2="164.63" stroke="#333" stroke-width="0.5"/>
<text x="262.20" y="165.83" font-size="3.4" font-weight="bold" text-anchor="end" fill="#585858" stroke="#585858" stroke-width="0.095">90</text>
<line x1="261.40" y1="157.80" x2="262.60" y2="157.80" stroke="#333" stroke-width="0.5"/>
<text x="262.20" y="159.00" font-size="3.4" font-weight="bold" text-anchor="end" fill="#585858" stroke="#585858" stroke-width="0.095">100</text>
<line x1="262.60" y1="178.30" x2="262.60" y2="179.50" stroke="#333" stroke-width="0.5"/>
<line x1="277.05" y1="178.30" x2="277.05" y2="179.50" stroke="#333" stroke-width="0.5"/>
<line x1="291.50" y1="178.30" x2="291.50" y2="179.50" stroke="#333" stroke-width="0.5"/>
<circle cx="279.54" cy="164.87" r="0.5" fill="none" stroke="#444" stroke-width="0.3"/>
<circle cx="286.83" cy="163.93" r="0.5" fill="none" stroke="#444" stroke-width="0.3"/>
<circle cx="283.65" cy="165.52" r="0.5" fill="none" stroke="#444" stroke-width="0.3"/>
<circle cx="285.06" cy="163.20" r="0.5" fill="none" stroke="#444" stroke-width="0.3"/>
<circle cx="276.76" cy="161.33" r="0.5" fill="none" stroke="#444" stroke-width="0.3"/>
<circle cx="276.63" cy="161.68" r="0.5" fill="none" stroke="#444" stroke-width="0.3"/>
<circle cx="272.59" cy="165.71" r="0.5" fill="none" stroke="#444" stroke-width="0.3"/>
<line x1="271.27" y1="163.75" x2="288.03" y2="162.72" stroke="#111" stroke-width="0.6"/>
<text x="264.60" y="176.10" font-size="4.0" font-weight="bold" fill="#000" stroke="#000" stroke-width="0.112">r = 0.33 ~</text>
<line x1="301.30" y1="157.80" x2="301.30" y2="178.30" stroke="#333" stroke-width="0.7"/>
<line x1="301.30" y1="178.30" x2="329.80" y2="178.30" stroke="#333" stroke-width="0.7"/>
<line x1="300.10" y1="178.30" x2="301.30" y2="178.30" stroke="#333" stroke-width="0.5"/>
<text x="300.90" y="179.50" font-size="3.4" font-weight="bold" text-anchor="end" fill="#585858" stroke="#585858" stroke-width="0.095">40</text>
<line x1="300.10" y1="171.47" x2="301.30" y2="171.47" stroke="#333" stroke-width="0.5"/>
<text x="300.90" y="172.67" font-size="3.4" font-weight="bold" text-anchor="end" fill="#585858" stroke="#585858" stroke-width="0.095">60</text>
<line x1="300.10" y1="164.63" x2="301.30" y2="164.63" stroke="#333" stroke-width="0.5"/>
<text x="300.90" y="165.83" font-size="3.4" font-weight="bold" text-anchor="end" fill="#585858" stroke="#585858" stroke-width="0.095">80</text>
<line x1="300.10" y1="157.80" x2="301.30" y2="157.80" stroke="#333" stroke-width="0.5"/>
<text x="300.90" y="159.00" font-size="3.4" font-weight="bold" text-anchor="end" fill="#585858" stroke="#585858" stroke-width="0.095">100</text>
<line x1="301.30" y1="178.30" x2="301.30" y2="179.50" stroke="#333" stroke-width="0.5"/>
<line x1="306.05" y1="178.30" x2="306.05" y2="179.50" stroke="#333" stroke-width="0.5"/>
<line x1="310.80" y1="178.30" x2="310.80" y2="179.50" stroke="#333" stroke-width="0.5"/>
<line x1="315.55" y1="178.30" x2="315.55" y2="179.50" stroke="#333" stroke-width="0.5"/>
<line x1="320.30" y1="178.30" x2="320.30" y2="179.50" stroke="#333" stroke-width="0.5"/>
<line x1="325.05" y1="178.30" x2="325.05" y2="179.50" stroke="#333" stroke-width="0.5"/>
<line x1="329.80" y1="178.30" x2="329.80" y2="179.50" stroke="#333" stroke-width="0.5"/>
<circle cx="313.00" cy="166.78" r="0.5" fill="none" stroke="#444" stroke-width="0.3"/>
<circle cx="310.88" cy="166.47" r="0.5" fill="none" stroke="#444" stroke-width="0.3"/>
<circle cx="310.39" cy="166.54" r="0.5" fill="none" stroke="#444" stroke-width="0.3"/>
<circle cx="325.49" cy="161.18" r="0.5" fill="none" stroke="#444" stroke-width="0.3"/>
<circle cx="323.95" cy="163.46" r="0.5" fill="none" stroke="#444" stroke-width="0.3"/>
<circle cx="311.19" cy="167.41" r="0.5" fill="none" stroke="#444" stroke-width="0.3"/>
<circle cx="311.39" cy="165.00" r="0.5" fill="none" stroke="#444" stroke-width="0.3"/>
<circle cx="316.98" cy="165.14" r="0.5" fill="none" stroke="#444" stroke-width="0.3"/>
<circle cx="313.59" cy="164.66" r="0.5" fill="none" stroke="#444" stroke-width="0.3"/>
<circle cx="320.61" cy="164.70" r="0.5" fill="none" stroke="#444" stroke-width="0.3"/>
<circle cx="321.79" cy="164.44" r="0.5" fill="none" stroke="#444" stroke-width="0.3"/>
<circle cx="311.78" cy="165.39" r="0.5" fill="none" stroke="#444" stroke-width="0.3"/>
<circle cx="323.27" cy="161.99" r="0.5" fill="none" stroke="#444" stroke-width="0.3"/>
<circle cx="315.80" cy="167.52" r="0.5" fill="none" stroke="#444" stroke-width="0.3"/>
<circle cx="321.63" cy="163.57" r="0.5" fill="none" stroke="#444" stroke-width="0.3"/>
<circle cx="313.77" cy="167.54" r="0.5" fill="none" stroke="#444" stroke-width="0.3"/>
<circle cx="312.30" cy="168.55" r="0.5" fill="none" stroke="#444" stroke-width="0.3"/>
<circle cx="315.06" cy="164.57" r="0.5" fill="none" stroke="#444" stroke-width="0.3"/>
<line x1="309.85" y1="168.05" x2="325.81" y2="161.49" stroke="#111" stroke-width="0.6"/>
<text x="303.30" y="176.10" font-size="4.0" font-weight="bold" fill="#000" stroke="#000" stroke-width="0.112">r = 0.60 **</text>
<line x1="226.30" y1="191.90" x2="226.30" y2="210.00" stroke="#333" stroke-width="0.7"/>
<line x1="226.30" y1="210.00" x2="255.00" y2="210.00" stroke="#333" stroke-width="0.7"/>
<line x1="225.10" y1="210.00" x2="226.30" y2="210.00" stroke="#333" stroke-width="0.5"/>
<text x="225.90" y="211.20" font-size="3.4" font-weight="bold" text-anchor="end" fill="#585858" stroke="#585858" stroke-width="0.095">0</text>
<line x1="225.10" y1="203.97" x2="226.30" y2="203.97" stroke="#333" stroke-width="0.5"/>
<text x="225.90" y="205.17" font-size="3.4" font-weight="bold" text-anchor="end" fill="#585858" stroke="#585858" stroke-width="0.095">5000</text>
<line x1="225.10" y1="197.93" x2="226.30" y2="197.93" stroke="#333" stroke-width="0.5"/>
<text x="225.90" y="199.13" font-size="3.4" font-weight="bold" text-anchor="end" fill="#585858" stroke="#585858" stroke-width="0.095">10000</text>
<line x1="225.10" y1="191.90" x2="226.30" y2="191.90" stroke="#333" stroke-width="0.5"/>
<text x="225.90" y="193.10" font-size="3.4" font-weight="bold" text-anchor="end" fill="#585858" stroke="#585858" stroke-width="0.095">15000</text>
<line x1="226.30" y1="210.00" x2="226.30" y2="211.20" stroke="#333" stroke-width="0.5"/>
<line x1="233.48" y1="210.00" x2="233.48" y2="211.20" stroke="#333" stroke-width="0.5"/>
<line x1="240.65" y1="210.00" x2="240.65" y2="211.20" stroke="#333" stroke-width="0.5"/>
<line x1="247.82" y1="210.00" x2="247.82" y2="211.20" stroke="#333" stroke-width="0.5"/>
<line x1="255.00" y1="210.00" x2="255.00" y2="211.20" stroke="#333" stroke-width="0.5"/>
<circle cx="239.78" cy="200.99" r="0.5" fill="none" stroke="#444" stroke-width="0.3"/>
<circle cx="237.04" cy="199.95" r="0.5" fill="none" stroke="#444" stroke-width="0.3"/>
<circle cx="246.65" cy="195.35" r="0.5" fill="none" stroke="#444" stroke-width="0.3"/>
<circle cx="234.89" cy="197.12" r="0.5" fill="none" stroke="#444" stroke-width="0.3"/>
<circle cx="241.09" cy="200.15" r="0.5" fill="none" stroke="#444" stroke-width="0.3"/>
<circle cx="248.41" cy="194.95" r="0.5" fill="none" stroke="#444" stroke-width="0.3"/>
<circle cx="233.86" cy="200.60" r="0.5" fill="none" stroke="#444" stroke-width="0.3"/>
<circle cx="236.34" cy="200.85" r="0.5" fill="none" stroke="#444" stroke-width="0.3"/>
<circle cx="249.38" cy="194.36" r="0.5" fill="none" stroke="#444" stroke-width="0.3"/>
<circle cx="239.38" cy="197.90" r="0.5" fill="none" stroke="#444" stroke-width="0.3"/>
<circle cx="247.61" cy="196.50" r="0.5" fill="none" stroke="#444" stroke-width="0.3"/>
<circle cx="246.13" cy="198.18" r="0.5" fill="none" stroke="#444" stroke-width="0.3"/>
<circle cx="248.93" cy="198.62" r="0.5" fill="none" stroke="#444" stroke-width="0.3"/>
<circle cx="243.51" cy="199.61" r="0.5" fill="none" stroke="#444" stroke-width="0.3"/>
<circle cx="236.81" cy="199.57" r="0.5" fill="none" stroke="#444" stroke-width="0.3"/>
<line x1="233.19" y1="200.95" x2="249.83" y2="196.97" stroke="#111" stroke-width="0.6"/>
<text x="228.30" y="195.70" font-size="4.0" font-weight="bold" fill="#000" stroke="#000" stroke-width="0.112">r = 0.62 **</text>
<text x="227.40" y="212.70" font-size="3.4" font-weight="bold" text-anchor="end" fill="#222" transform="rotate(-45 227.40 212.70)" stroke="#222" stroke-width="0.095">0</text>
<text x="234.58" y="212.70" font-size="3.4" font-weight="bold" text-anchor="end" fill="#222" transform="rotate(-45 234.58 212.70)" stroke="#222" stroke-width="0.095">5</text>
<text x="241.75" y="212.70" font-size="3.4" font-weight="bold" text-anchor="end" fill="#222" transform="rotate(-45 241.75 212.70)" stroke="#222" stroke-width="0.095">10</text>
<text x="248.92" y="212.70" font-size="3.4" font-weight="bold" text-anchor="end" fill="#222" transform="rotate(-45 248.92 212.70)" stroke="#222" stroke-width="0.095">15</text>
<text x="256.10" y="212.70" font-size="3.4" font-weight="bold" text-anchor="end" fill="#222" transform="rotate(-45 256.10 212.70)" stroke="#222" stroke-width="0.095">20</text>
<text x="241.15" y="221.30" font-size="3.45" font-weight="bold" text-anchor="middle" fill="#333" stroke="#333" stroke-width="0.097">Tumor size (mm)</text>
<line x1="262.60" y1="191.90" x2="262.60" y2="210.00" stroke="#333" stroke-width="0.7"/>
<line x1="262.60" y1="210.00" x2="291.50" y2="210.00" stroke="#333" stroke-width="0.7"/>
<line x1="261.40" y1="210.00" x2="262.60" y2="210.00" stroke="#333" stroke-width="0.5"/>
<text x="262.20" y="211.20" font-size="3.4" font-weight="bold" text-anchor="end" fill="#585858" stroke="#585858" stroke-width="0.095">0</text>
<line x1="261.40" y1="203.97" x2="262.60" y2="203.97" stroke="#333" stroke-width="0.5"/>
<text x="262.20" y="205.17" font-size="3.4" font-weight="bold" text-anchor="end" fill="#585858" stroke="#585858" stroke-width="0.095">5000</text>
<line x1="261.40" y1="197.93" x2="262.60" y2="197.93" stroke="#333" stroke-width="0.5"/>
<text x="262.20" y="199.13" font-size="3.4" font-weight="bold" text-anchor="end" fill="#585858" stroke="#585858" stroke-width="0.095">10000</text>
<line x1="261.40" y1="191.90" x2="262.60" y2="191.90" stroke="#333" stroke-width="0.5"/>
<text x="262.20" y="193.10" font-size="3.4" font-weight="bold" text-anchor="end" fill="#585858" stroke="#585858" stroke-width="0.095">15000</text>
<line x1="262.60" y1="210.00" x2="262.60" y2="211.20" stroke="#333" stroke-width="0.5"/>
<line x1="277.05" y1="210.00" x2="277.05" y2="211.20" stroke="#333" stroke-width="0.5"/>
<line x1="291.50" y1="210.00" x2="291.50" y2="211.20" stroke="#333" stroke-width="0.5"/>
<circle cx="274.51" cy="203.09" r="0.5" fill="none" stroke="#444" stroke-width="0.3"/>
<circle cx="275.32" cy="200.93" r="0.5" fill="none" stroke="#444" stroke-width="0.3"/>
<circle cx="274.50" cy="201.39" r="0.5" fill="none" stroke="#444" stroke-width="0.3"/>
<circle cx="271.45" cy="201.62" r="0.5" fill="none" stroke="#444" stroke-width="0.3"/>
<circle cx="274.21" cy="204.35" r="0.5" fill="none" stroke="#444" stroke-width="0.3"/>
<circle cx="276.23" cy="203.22" r="0.5" fill="none" stroke="#444" stroke-width="0.3"/>
<circle cx="279.98" cy="204.79" r="0.5" fill="none" stroke="#444" stroke-width="0.3"/>
<line x1="271.27" y1="202.58" x2="287.17" y2="202.40" stroke="#111" stroke-width="0.6"/>
<text x="264.60" y="195.70" font-size="4.0" font-weight="bold" fill="#000" stroke="#000" stroke-width="0.112">r = 0.10 ~</text>
<text x="263.70" y="212.70" font-size="3.4" font-weight="bold" text-anchor="end" fill="#222" transform="rotate(-45 263.70 212.70)" stroke="#222" stroke-width="0.095">0</text>
<text x="278.15" y="212.70" font-size="3.4" font-weight="bold" text-anchor="end" fill="#222" transform="rotate(-45 278.15 212.70)" stroke="#222" stroke-width="0.095">5</text>
<text x="292.60" y="212.70" font-size="3.4" font-weight="bold" text-anchor="end" fill="#222" transform="rotate(-45 292.60 212.70)" stroke="#222" stroke-width="0.095">10</text>
<text x="277.55" y="221.30" font-size="3.45" font-weight="bold" text-anchor="middle" fill="#333" stroke="#333" stroke-width="0.097">Tumor size (mm)</text>
<line x1="301.30" y1="191.90" x2="301.30" y2="210.00" stroke="#333" stroke-width="0.7"/>
<line x1="301.30" y1="210.00" x2="329.80" y2="210.00" stroke="#333" stroke-width="0.7"/>
<line x1="300.10" y1="210.00" x2="301.30" y2="210.00" stroke="#333" stroke-width="0.5"/>
<text x="300.90" y="211.20" font-size="3.4" font-weight="bold" text-anchor="end" fill="#585858" stroke="#585858" stroke-width="0.095">0</text>
<line x1="300.10" y1="203.97" x2="301.30" y2="203.97" stroke="#333" stroke-width="0.5"/>
<text x="300.90" y="205.17" font-size="3.4" font-weight="bold" text-anchor="end" fill="#585858" stroke="#585858" stroke-width="0.095">5000</text>
<line x1="300.10" y1="197.93" x2="301.30" y2="197.93" stroke="#333" stroke-width="0.5"/>
<text x="300.90" y="199.13" font-size="3.4" font-weight="bold" text-anchor="end" fill="#585858" stroke="#585858" stroke-width="0.095">10000</text>
<line x1="300.10" y1="191.90" x2="301.30" y2="191.90" stroke="#333" stroke-width="0.5"/>
<text x="300.90" y="193.10" font-size="3.4" font-weight="bold" text-anchor="end" fill="#585858" stroke="#585858" stroke-width="0.095">15000</text>
<line x1="301.30" y1="210.00" x2="301.30" y2="211.20" stroke="#333" stroke-width="0.5"/>
<line x1="306.05" y1="210.00" x2="306.05" y2="211.20" stroke="#333" stroke-width="0.5"/>
<line x1="310.80" y1="210.00" x2="310.80" y2="211.20" stroke="#333" stroke-width="0.5"/>
<line x1="315.55" y1="210.00" x2="315.55" y2="211.20" stroke="#333" stroke-width="0.5"/>
<line x1="320.30" y1="210.00" x2="320.30" y2="211.20" stroke="#333" stroke-width="0.5"/>
<line x1="325.05" y1="210.00" x2="325.05" y2="211.20" stroke="#333" stroke-width="0.5"/>
<line x1="329.80" y1="210.00" x2="329.80" y2="211.20" stroke="#333" stroke-width="0.5"/>
<circle cx="308.92" cy="202.58" r="0.5" fill="none" stroke="#444" stroke-width="0.3"/>
<circle cx="317.11" cy="199.48" r="0.5" fill="none" stroke="#444" stroke-width="0.3"/>
<circle cx="318.60" cy="198.84" r="0.5" fill="none" stroke="#444" stroke-width="0.3"/>
<circle cx="319.55" cy="198.27" r="0.5" fill="none" stroke="#444" stroke-width="0.3"/>
<circle cx="314.75" cy="199.24" r="0.5" fill="none" stroke="#444" stroke-width="0.3"/>
<circle cx="323.88" cy="197.47" r="0.5" fill="none" stroke="#444" stroke-width="0.3"/>
<circle cx="313.11" cy="198.88" r="0.5" fill="none" stroke="#444" stroke-width="0.3"/>
<circle cx="314.86" cy="198.92" r="0.5" fill="none" stroke="#444" stroke-width="0.3"/>
<circle cx="322.39" cy="198.14" r="0.5" fill="none" stroke="#444" stroke-width="0.3"/>
<circle cx="311.17" cy="200.69" r="0.5" fill="none" stroke="#444" stroke-width="0.3"/>
<circle cx="320.10" cy="197.68" r="0.5" fill="none" stroke="#444" stroke-width="0.3"/>
<circle cx="323.02" cy="196.77" r="0.5" fill="none" stroke="#444" stroke-width="0.3"/>
<circle cx="314.98" cy="199.99" r="0.5" fill="none" stroke="#444" stroke-width="0.3"/>
<circle cx="322.70" cy="195.49" r="0.5" fill="none" stroke="#444" stroke-width="0.3"/>
<circle cx="315.61" cy="199.31" r="0.5" fill="none" stroke="#444" stroke-width="0.3"/>
<circle cx="317.13" cy="198.86" r="0.5" fill="none" stroke="#444" stroke-width="0.3"/>
<circle cx="318.63" cy="198.64" r="0.5" fill="none" stroke="#444" stroke-width="0.3"/>
<circle cx="318.32" cy="197.94" r="0.5" fill="none" stroke="#444" stroke-width="0.3"/>
<line x1="307.86" y1="201.86" x2="324.67" y2="196.06" stroke="#111" stroke-width="0.6"/>
<text x="303.30" y="207.80" font-size="4.0" font-weight="bold" fill="#000" stroke="#000" stroke-width="0.112">r = 0.64 **</text>
<text x="302.40" y="212.70" font-size="3.4" font-weight="bold" text-anchor="end" fill="#222" transform="rotate(-45 302.40 212.70)" stroke="#222" stroke-width="0.095">0</text>
<text x="307.15" y="212.70" font-size="3.4" font-weight="bold" text-anchor="end" fill="#222" transform="rotate(-45 307.15 212.70)" stroke="#222" stroke-width="0.095">5</text>
<text x="311.90" y="212.70" font-size="3.4" font-weight="bold" text-anchor="end" fill="#222" transform="rotate(-45 311.90 212.70)" stroke="#222" stroke-width="0.095">10</text>
<text x="316.65" y="212.70" font-size="3.4" font-weight="bold" text-anchor="end" fill="#222" transform="rotate(-45 316.65 212.70)" stroke="#222" stroke-width="0.095">15</text>
<text x="321.40" y="212.70" font-size="3.4" font-weight="bold" text-anchor="end" fill="#222" transform="rotate(-45 321.40 212.70)" stroke="#222" stroke-width="0.095">20</text>
<text x="326.15" y="212.70" font-size="3.4" font-weight="bold" text-anchor="end" fill="#222" transform="rotate(-45 326.15 212.70)" stroke="#222" stroke-width="0.095">25</text>
<text x="330.90" y="212.70" font-size="3.4" font-weight="bold" text-anchor="end" fill="#222" transform="rotate(-45 330.90 212.70)" stroke="#222" stroke-width="0.095">30</text>
<text x="316.05" y="221.30" font-size="3.45" font-weight="bold" text-anchor="middle" fill="#333" stroke="#333" stroke-width="0.097">Tumor burden (mm)</text>
<line x1="53.40" y1="273.80" x2="53.40" y2="293.40" stroke="#333" stroke-width="0.7"/>
<line x1="53.40" y1="293.40" x2="82.50" y2="293.40" stroke="#333" stroke-width="0.7"/>
<line x1="52.20" y1="293.40" x2="53.40" y2="293.40" stroke="#333" stroke-width="0.5"/>
<text x="53.00" y="294.60" font-size="3.4" font-weight="bold" text-anchor="end" fill="#585858" stroke="#585858" stroke-width="0.095">0.4</text>
<line x1="52.20" y1="288.50" x2="53.40" y2="288.50" stroke="#333" stroke-width="0.5"/>
<text x="53.00" y="289.70" font-size="3.4" font-weight="bold" text-anchor="end" fill="#585858" stroke="#585858" stroke-width="0.095">0.5</text>
<line x1="52.20" y1="283.60" x2="53.40" y2="283.60" stroke="#333" stroke-width="0.5"/>
<text x="53.00" y="284.80" font-size="3.4" font-weight="bold" text-anchor="end" fill="#585858" stroke="#585858" stroke-width="0.095">0.6</text>
<line x1="52.20" y1="278.70" x2="53.40" y2="278.70" stroke="#333" stroke-width="0.5"/>
<text x="53.00" y="279.90" font-size="3.4" font-weight="bold" text-anchor="end" fill="#585858" stroke="#585858" stroke-width="0.095">0.7</text>
<line x1="52.20" y1="273.80" x2="53.40" y2="273.80" stroke="#333" stroke-width="0.5"/>
<text x="53.00" y="275.00" font-size="3.4" font-weight="bold" text-anchor="end" fill="#585858" stroke="#585858" stroke-width="0.095">0.8</text>
<line x1="53.40" y1="293.40" x2="53.40" y2="294.60" stroke="#333" stroke-width="0.5"/>
<line x1="60.67" y1="293.40" x2="60.67" y2="294.60" stroke="#333" stroke-width="0.5"/>
<line x1="67.95" y1="293.40" x2="67.95" y2="294.60" stroke="#333" stroke-width="0.5"/>
<line x1="75.22" y1="293.40" x2="75.22" y2="294.60" stroke="#333" stroke-width="0.5"/>
<line x1="82.50" y1="293.40" x2="82.50" y2="294.60" stroke="#333" stroke-width="0.5"/>
<circle cx="66.62" cy="282.57" r="0.5" fill="none" stroke="#444" stroke-width="0.3"/>
<circle cx="64.74" cy="282.78" r="0.5" fill="none" stroke="#444" stroke-width="0.3"/>
<circle cx="69.86" cy="285.06" r="0.5" fill="none" stroke="#444" stroke-width="0.3"/>
<circle cx="69.20" cy="283.90" r="0.5" fill="none" stroke="#444" stroke-width="0.3"/>
<circle cx="75.97" cy="287.33" r="0.5" fill="none" stroke="#444" stroke-width="0.3"/>
<circle cx="61.37" cy="281.52" r="0.5" fill="none" stroke="#444" stroke-width="0.3"/>
<circle cx="78.95" cy="288.99" r="0.5" fill="none" stroke="#444" stroke-width="0.3"/>
<circle cx="59.79" cy="280.96" r="0.5" fill="none" stroke="#444" stroke-width="0.3"/>
<circle cx="78.58" cy="284.78" r="0.5" fill="none" stroke="#444" stroke-width="0.3"/>
<circle cx="72.00" cy="287.17" r="0.5" fill="none" stroke="#444" stroke-width="0.3"/>
<circle cx="76.39" cy="287.89" r="0.5" fill="none" stroke="#444" stroke-width="0.3"/>
<circle cx="63.42" cy="284.56" r="0.5" fill="none" stroke="#444" stroke-width="0.3"/>
<circle cx="67.35" cy="285.20" r="0.5" fill="none" stroke="#444" stroke-width="0.3"/>
<circle cx="62.58" cy="279.84" r="0.5" fill="none" stroke="#444" stroke-width="0.3"/>
<circle cx="63.34" cy="280.92" r="0.5" fill="none" stroke="#444" stroke-width="0.3"/>
<line x1="58.64" y1="280.86" x2="80.17" y2="287.72" stroke="#111" stroke-width="0.6"/>
<text x="56.80" y="277.60" font-size="4.0" font-weight="bold" fill="#000" stroke="#000" stroke-width="0.112">r = -0.82 ***</text>
<line x1="90.00" y1="273.80" x2="90.00" y2="293.40" stroke="#333" stroke-width="0.7"/>
<line x1="90.00" y1="293.40" x2="118.00" y2="293.40" stroke="#333" stroke-width="0.7"/>
<line x1="88.80" y1="293.40" x2="90.00" y2="293.40" stroke="#333" stroke-width="0.5"/>
<text x="89.60" y="294.60" font-size="3.4" font-weight="bold" text-anchor="end" fill="#585858" stroke="#585858" stroke-width="0.095">0.4</text>
<line x1="88.80" y1="288.50" x2="90.00" y2="288.50" stroke="#333" stroke-width="0.5"/>
<text x="89.60" y="289.70" font-size="3.4" font-weight="bold" text-anchor="end" fill="#585858" stroke="#585858" stroke-width="0.095">0.5</text>
<line x1="88.80" y1="283.60" x2="90.00" y2="283.60" stroke="#333" stroke-width="0.5"/>
<text x="89.60" y="284.80" font-size="3.4" font-weight="bold" text-anchor="end" fill="#585858" stroke="#585858" stroke-width="0.095">0.6</text>
<line x1="88.80" y1="278.70" x2="90.00" y2="278.70" stroke="#333" stroke-width="0.5"/>
<text x="89.60" y="279.90" font-size="3.4" font-weight="bold" text-anchor="end" fill="#585858" stroke="#585858" stroke-width="0.095">0.7</text>
<line x1="88.80" y1="273.80" x2="90.00" y2="273.80" stroke="#333" stroke-width="0.5"/>
<text x="89.60" y="275.00" font-size="3.4" font-weight="bold" text-anchor="end" fill="#585858" stroke="#585858" stroke-width="0.095">0.8</text>
<line x1="90.00" y1="293.40" x2="90.00" y2="294.60" stroke="#333" stroke-width="0.5"/>
<line x1="104.00" y1="293.40" x2="104.00" y2="294.60" stroke="#333" stroke-width="0.5"/>
<line x1="118.00" y1="293.40" x2="118.00" y2="294.60" stroke="#333" stroke-width="0.5"/>
<circle cx="103.98" cy="281.29" r="0.5" fill="none" stroke="#444" stroke-width="0.3"/>
<circle cx="99.24" cy="278.71" r="0.5" fill="none" stroke="#444" stroke-width="0.3"/>
<circle cx="113.33" cy="285.73" r="0.5" fill="none" stroke="#444" stroke-width="0.3"/>
<circle cx="97.75" cy="275.88" r="0.5" fill="none" stroke="#444" stroke-width="0.3"/>
<circle cx="97.69" cy="277.20" r="0.5" fill="none" stroke="#444" stroke-width="0.3"/>
<circle cx="112.26" cy="284.48" r="0.5" fill="none" stroke="#444" stroke-width="0.3"/>
<circle cx="107.01" cy="282.60" r="0.5" fill="none" stroke="#444" stroke-width="0.3"/>
<line x1="97.00" y1="277.92" x2="115.20" y2="283.99" stroke="#111" stroke-width="0.6"/>
<text x="93.40" y="291.20" font-size="4.0" font-weight="bold" fill="#000" stroke="#000" stroke-width="0.112">r = -0.85 **</text>
<line x1="127.50" y1="273.80" x2="127.50" y2="293.40" stroke="#333" stroke-width="0.7"/>
<line x1="127.50" y1="293.40" x2="156.70" y2="293.40" stroke="#333" stroke-width="0.7"/>
<line x1="126.30" y1="293.40" x2="127.50" y2="293.40" stroke="#333" stroke-width="0.5"/>
<text x="127.10" y="294.60" font-size="3.4" font-weight="bold" text-anchor="end" fill="#585858" stroke="#585858" stroke-width="0.095">0</text>
<line x1="126.30" y1="289.48" x2="127.50" y2="289.48" stroke="#333" stroke-width="0.5"/>
<text x="127.10" y="290.68" font-size="3.4" font-weight="bold" text-anchor="end" fill="#585858" stroke="#585858" stroke-width="0.095">1</text>
<line x1="126.30" y1="285.56" x2="127.50" y2="285.56" stroke="#333" stroke-width="0.5"/>
<text x="127.10" y="286.76" font-size="3.4" font-weight="bold" text-anchor="end" fill="#585858" stroke="#585858" stroke-width="0.095">2</text>
<line x1="126.30" y1="281.64" x2="127.50" y2="281.64" stroke="#333" stroke-width="0.5"/>
<text x="127.10" y="282.84" font-size="3.4" font-weight="bold" text-anchor="end" fill="#585858" stroke="#585858" stroke-width="0.095">3</text>
<line x1="126.30" y1="277.72" x2="127.50" y2="277.72" stroke="#333" stroke-width="0.5"/>
<text x="127.10" y="278.92" font-size="3.4" font-weight="bold" text-anchor="end" fill="#585858" stroke="#585858" stroke-width="0.095">4</text>
<line x1="126.30" y1="273.80" x2="127.50" y2="273.80" stroke="#333" stroke-width="0.5"/>
<text x="127.10" y="275.00" font-size="3.4" font-weight="bold" text-anchor="end" fill="#585858" stroke="#585858" stroke-width="0.095">5</text>
<line x1="127.50" y1="293.40" x2="127.50" y2="294.60" stroke="#333" stroke-width="0.5"/>
<line x1="132.37" y1="293.40" x2="132.37" y2="294.60" stroke="#333" stroke-width="0.5"/>
<line x1="137.23" y1="293.40" x2="137.23" y2="294.60" stroke="#333" stroke-width="0.5"/>
<line x1="142.10" y1="293.40" x2="142.10" y2="294.60" stroke="#333" stroke-width="0.5"/>
<line x1="146.97" y1="293.40" x2="146.97" y2="294.60" stroke="#333" stroke-width="0.5"/>
<line x1="151.83" y1="293.40" x2="151.83" y2="294.60" stroke="#333" stroke-width="0.5"/>
<line x1="156.70" y1="293.40" x2="156.70" y2="294.60" stroke="#333" stroke-width="0.5"/>
<circle cx="145.75" cy="284.02" r="0.5" fill="none" stroke="#444" stroke-width="0.3"/>
<circle cx="145.03" cy="285.66" r="0.5" fill="none" stroke="#444" stroke-width="0.3"/>
<circle cx="142.51" cy="282.18" r="0.5" fill="none" stroke="#444" stroke-width="0.3"/>
<circle cx="142.72" cy="281.80" r="0.5" fill="none" stroke="#444" stroke-width="0.3"/>
<circle cx="136.05" cy="278.80" r="0.5" fill="none" stroke="#444" stroke-width="0.3"/>
<circle cx="139.45" cy="280.47" r="0.5" fill="none" stroke="#444" stroke-width="0.3"/>
<circle cx="147.94" cy="285.87" r="0.5" fill="none" stroke="#444" stroke-width="0.3"/>
<circle cx="138.56" cy="279.61" r="0.5" fill="none" stroke="#444" stroke-width="0.3"/>
<circle cx="143.28" cy="284.00" r="0.5" fill="none" stroke="#444" stroke-width="0.3"/>
<circle cx="142.59" cy="283.56" r="0.5" fill="none" stroke="#444" stroke-width="0.3"/>
<circle cx="137.15" cy="278.92" r="0.5" fill="none" stroke="#444" stroke-width="0.3"/>
<circle cx="136.33" cy="280.81" r="0.5" fill="none" stroke="#444" stroke-width="0.3"/>
<circle cx="145.90" cy="286.69" r="0.5" fill="none" stroke="#444" stroke-width="0.3"/>
<circle cx="148.16" cy="286.85" r="0.5" fill="none" stroke="#444" stroke-width="0.3"/>
<circle cx="143.89" cy="285.33" r="0.5" fill="none" stroke="#444" stroke-width="0.3"/>
<circle cx="141.74" cy="283.27" r="0.5" fill="none" stroke="#444" stroke-width="0.3"/>
<circle cx="150.95" cy="288.86" r="0.5" fill="none" stroke="#444" stroke-width="0.3"/>
<circle cx="151.67" cy="289.48" r="0.5" fill="none" stroke="#444" stroke-width="0.3"/>
<line x1="135.68" y1="279.88" x2="151.74" y2="287.32" stroke="#111" stroke-width="0.6"/>
<text x="130.90" y="277.60" font-size="4.0" font-weight="bold" fill="#000" stroke="#000" stroke-width="0.112">r = -0.78 ***</text>
<line x1="53.40" y1="305.80" x2="53.40" y2="325.10" stroke="#333" stroke-width="0.7"/>
<line x1="53.40" y1="325.10" x2="82.50" y2="325.10" stroke="#333" stroke-width="0.7"/>
<line x1="52.20" y1="325.10" x2="53.40" y2="325.10" stroke="#333" stroke-width="0.5"/>
<text x="53.00" y="326.30" font-size="3.4" font-weight="bold" text-anchor="end" fill="#585858" stroke="#585858" stroke-width="0.095">0.0</text>
<line x1="52.20" y1="318.67" x2="53.40" y2="318.67" stroke="#333" stroke-width="0.5"/>
<text x="53.00" y="319.87" font-size="3.4" font-weight="bold" text-anchor="end" fill="#585858" stroke="#585858" stroke-width="0.095">0.1</text>
<line x1="52.20" y1="312.23" x2="53.40" y2="312.23" stroke="#333" stroke-width="0.5"/>
<text x="53.00" y="313.43" font-size="3.4" font-weight="bold" text-anchor="end" fill="#585858" stroke="#585858" stroke-width="0.095">0.2</text>
<line x1="52.20" y1="305.80" x2="53.40" y2="305.80" stroke="#333" stroke-width="0.5"/>
<text x="53.00" y="307.00" font-size="3.4" font-weight="bold" text-anchor="end" fill="#585858" stroke="#585858" stroke-width="0.095">0.3</text>
<line x1="53.40" y1="325.10" x2="53.40" y2="326.30" stroke="#333" stroke-width="0.5"/>
<line x1="60.67" y1="325.10" x2="60.67" y2="326.30" stroke="#333" stroke-width="0.5"/>
<line x1="67.95" y1="325.10" x2="67.95" y2="326.30" stroke="#333" stroke-width="0.5"/>
<line x1="75.22" y1="325.10" x2="75.22" y2="326.30" stroke="#333" stroke-width="0.5"/>
<line x1="82.50" y1="325.10" x2="82.50" y2="326.30" stroke="#333" stroke-width="0.5"/>
<circle cx="75.12" cy="316.77" r="0.5" fill="none" stroke="#444" stroke-width="0.3"/>
<circle cx="80.64" cy="316.44" r="0.5" fill="none" stroke="#444" stroke-width="0.3"/>
<circle cx="69.81" cy="318.62" r="0.5" fill="none" stroke="#444" stroke-width="0.3"/>
<circle cx="62.58" cy="313.45" r="0.5" fill="none" stroke="#444" stroke-width="0.3"/>
<circle cx="76.36" cy="317.09" r="0.5" fill="none" stroke="#444" stroke-width="0.3"/>
<circle cx="66.69" cy="314.77" r="0.5" fill="none" stroke="#444" stroke-width="0.3"/>
<circle cx="75.65" cy="318.16" r="0.5" fill="none" stroke="#444" stroke-width="0.3"/>
<circle cx="65.01" cy="317.31" r="0.5" fill="none" stroke="#444" stroke-width="0.3"/>
<circle cx="76.97" cy="317.76" r="0.5" fill="none" stroke="#444" stroke-width="0.3"/>
<circle cx="79.27" cy="318.43" r="0.5" fill="none" stroke="#444" stroke-width="0.3"/>
<circle cx="63.54" cy="314.34" r="0.5" fill="none" stroke="#444" stroke-width="0.3"/>
<circle cx="65.99" cy="316.60" r="0.5" fill="none" stroke="#444" stroke-width="0.3"/>
<circle cx="59.74" cy="314.20" r="0.5" fill="none" stroke="#444" stroke-width="0.3"/>
<circle cx="79.64" cy="317.93" r="0.5" fill="none" stroke="#444" stroke-width="0.3"/>
<circle cx="73.96" cy="316.90" r="0.5" fill="none" stroke="#444" stroke-width="0.3"/>
<line x1="58.93" y1="313.71" x2="81.05" y2="317.38" stroke="#111" stroke-width="0.6"/>
<text x="56.80" y="309.60" font-size="4.0" font-weight="bold" fill="#000" stroke="#000" stroke-width="0.112">r = -0.72 ***</text>
<line x1="90.00" y1="305.80" x2="90.00" y2="325.10" stroke="#333" stroke-width="0.7"/>
<line x1="90.00" y1="325.10" x2="118.00" y2="325.10" stroke="#333" stroke-width="0.7"/>
<line x1="88.80" y1="325.10" x2="90.00" y2="325.10" stroke="#333" stroke-width="0.5"/>
<text x="89.60" y="326.30" font-size="3.4" font-weight="bold" text-anchor="end" fill="#585858" stroke="#585858" stroke-width="0.095">0.0</text>
<line x1="88.80" y1="318.67" x2="90.00" y2="318.67" stroke="#333" stroke-width="0.5"/>
<text x="89.60" y="319.87" font-size="3.4" font-weight="bold" text-anchor="end" fill="#585858" stroke="#585858" stroke-width="0.095">0.1</text>
<line x1="88.80" y1="312.23" x2="90.00" y2="312.23" stroke="#333" stroke-width="0.5"/>
<text x="89.60" y="313.43" font-size="3.4" font-weight="bold" text-anchor="end" fill="#585858" stroke="#585858" stroke-width="0.095">0.2</text>
<line x1="88.80" y1="305.80" x2="90.00" y2="305.80" stroke="#333" stroke-width="0.5"/>
<text x="89.60" y="307.00" font-size="3.4" font-weight="bold" text-anchor="end" fill="#585858" stroke="#585858" stroke-width="0.095">0.3</text>
<line x1="90.00" y1="325.10" x2="90.00" y2="326.30" stroke="#333" stroke-width="0.5"/>
<line x1="104.00" y1="325.10" x2="104.00" y2="326.30" stroke="#333" stroke-width="0.5"/>
<line x1="118.00" y1="325.10" x2="118.00" y2="326.30" stroke="#333" stroke-width="0.5"/>
<circle cx="111.53" cy="312.72" r="0.5" fill="none" stroke="#444" stroke-width="0.3"/>
<circle cx="100.09" cy="308.00" r="0.5" fill="none" stroke="#444" stroke-width="0.3"/>
<circle cx="104.27" cy="310.81" r="0.5" fill="none" stroke="#444" stroke-width="0.3"/>
<circle cx="113.03" cy="311.89" r="0.5" fill="none" stroke="#444" stroke-width="0.3"/>
<circle cx="113.19" cy="313.08" r="0.5" fill="none" stroke="#444" stroke-width="0.3"/>
<circle cx="99.91" cy="312.01" r="0.5" fill="none" stroke="#444" stroke-width="0.3"/>
<circle cx="104.85" cy="311.28" r="0.5" fill="none" stroke="#444" stroke-width="0.3"/>
<line x1="98.12" y1="309.47" x2="115.20" y2="314.29" stroke="#111" stroke-width="0.6"/>
<text x="93.40" y="322.90" font-size="4.0" font-weight="bold" fill="#000" stroke="#000" stroke-width="0.112">r = -0.81 **</text>
<line x1="127.50" y1="305.80" x2="127.50" y2="325.10" stroke="#333" stroke-width="0.7"/>
<line x1="127.50" y1="325.10" x2="156.70" y2="325.10" stroke="#333" stroke-width="0.7"/>
<line x1="126.30" y1="325.10" x2="127.50" y2="325.10" stroke="#333" stroke-width="0.5"/>
<text x="127.10" y="326.30" font-size="3.4" font-weight="bold" text-anchor="end" fill="#585858" stroke="#585858" stroke-width="0.095">0</text>
<line x1="126.30" y1="318.67" x2="127.50" y2="318.67" stroke="#333" stroke-width="0.5"/>
<text x="127.10" y="319.87" font-size="3.4" font-weight="bold" text-anchor="end" fill="#585858" stroke="#585858" stroke-width="0.095">1</text>
<line x1="126.30" y1="312.23" x2="127.50" y2="312.23" stroke="#333" stroke-width="0.5"/>
<text x="127.10" y="313.43" font-size="3.4" font-weight="bold" text-anchor="end" fill="#585858" stroke="#585858" stroke-width="0.095">2</text>
<line x1="126.30" y1="305.80" x2="127.50" y2="305.80" stroke="#333" stroke-width="0.5"/>
<text x="127.10" y="307.00" font-size="3.4" font-weight="bold" text-anchor="end" fill="#585858" stroke="#585858" stroke-width="0.095">3</text>
<line x1="127.50" y1="325.10" x2="127.50" y2="326.30" stroke="#333" stroke-width="0.5"/>
<line x1="132.37" y1="325.10" x2="132.37" y2="326.30" stroke="#333" stroke-width="0.5"/>
<line x1="137.23" y1="325.10" x2="137.23" y2="326.30" stroke="#333" stroke-width="0.5"/>
<line x1="142.10" y1="325.10" x2="142.10" y2="326.30" stroke="#333" stroke-width="0.5"/>
<line x1="146.97" y1="325.10" x2="146.97" y2="326.30" stroke="#333" stroke-width="0.5"/>
<line x1="151.83" y1="325.10" x2="151.83" y2="326.30" stroke="#333" stroke-width="0.5"/>
<line x1="156.70" y1="325.10" x2="156.70" y2="326.30" stroke="#333" stroke-width="0.5"/>
<circle cx="148.49" cy="316.64" r="0.5" fill="none" stroke="#444" stroke-width="0.3"/>
<circle cx="144.95" cy="319.62" r="0.5" fill="none" stroke="#444" stroke-width="0.3"/>
<circle cx="141.46" cy="313.57" r="0.5" fill="none" stroke="#444" stroke-width="0.3"/>
<circle cx="138.51" cy="310.34" r="0.5" fill="none" stroke="#444" stroke-width="0.3"/>
<circle cx="147.62" cy="319.16" r="0.5" fill="none" stroke="#444" stroke-width="0.3"/>
<circle cx="139.75" cy="313.34" r="0.5" fill="none" stroke="#444" stroke-width="0.3"/>
<circle cx="145.94" cy="317.65" r="0.5" fill="none" stroke="#444" stroke-width="0.3"/>
<circle cx="146.33" cy="315.75" r="0.5" fill="none" stroke="#444" stroke-width="0.3"/>
<circle cx="140.70" cy="313.41" r="0.5" fill="none" stroke="#444" stroke-width="0.3"/>
<circle cx="138.07" cy="311.68" r="0.5" fill="none" stroke="#444" stroke-width="0.3"/>
<circle cx="145.57" cy="313.96" r="0.5" fill="none" stroke="#444" stroke-width="0.3"/>
<circle cx="150.06" cy="318.58" r="0.5" fill="none" stroke="#444" stroke-width="0.3"/>
<circle cx="137.80" cy="311.83" r="0.5" fill="none" stroke="#444" stroke-width="0.3"/>
<circle cx="136.03" cy="312.70" r="0.5" fill="none" stroke="#444" stroke-width="0.3"/>
<circle cx="135.72" cy="310.03" r="0.5" fill="none" stroke="#444" stroke-width="0.3"/>
<circle cx="141.41" cy="313.94" r="0.5" fill="none" stroke="#444" stroke-width="0.3"/>
<circle cx="139.28" cy="310.62" r="0.5" fill="none" stroke="#444" stroke-width="0.3"/>
<circle cx="138.96" cy="311.16" r="0.5" fill="none" stroke="#444" stroke-width="0.3"/>
<line x1="135.68" y1="310.43" x2="151.74" y2="318.73" stroke="#111" stroke-width="0.6"/>
<text x="130.90" y="322.90" font-size="4.0" font-weight="bold" fill="#000" stroke="#000" stroke-width="0.112">r = -0.73 ***</text>
<line x1="53.40" y1="337.60" x2="53.40" y2="357.40" stroke="#333" stroke-width="0.7"/>
<line x1="53.40" y1="357.40" x2="82.50" y2="357.40" stroke="#333" stroke-width="0.7"/>
<line x1="52.20" y1="357.40" x2="53.40" y2="357.40" stroke="#333" stroke-width="0.5"/>
<text x="53.00" y="358.60" font-size="3.4" font-weight="bold" text-anchor="end" fill="#585858" stroke="#585858" stroke-width="0.095">0.0</text>
<line x1="52.20" y1="354.10" x2="53.40" y2="354.10" stroke="#333" stroke-width="0.5"/>
<text x="53.00" y="355.30" font-size="3.4" font-weight="bold" text-anchor="end" fill="#585858" stroke="#585858" stroke-width="0.095">0.1</text>
<line x1="52.20" y1="350.80" x2="53.40" y2="350.80" stroke="#333" stroke-width="0.5"/>
<text x="53.00" y="352.00" font-size="3.4" font-weight="bold" text-anchor="end" fill="#585858" stroke="#585858" stroke-width="0.095">0.2</text>
<line x1="52.20" y1="347.50" x2="53.40" y2="347.50" stroke="#333" stroke-width="0.5"/>
<text x="53.00" y="348.70" font-size="3.4" font-weight="bold" text-anchor="end" fill="#585858" stroke="#585858" stroke-width="0.095">0.3</text>
<line x1="52.20" y1="344.20" x2="53.40" y2="344.20" stroke="#333" stroke-width="0.5"/>
<text x="53.00" y="345.40" font-size="3.4" font-weight="bold" text-anchor="end" fill="#585858" stroke="#585858" stroke-width="0.095">0.4</text>
<line x1="52.20" y1="340.90" x2="53.40" y2="340.90" stroke="#333" stroke-width="0.5"/>
<text x="53.00" y="342.10" font-size="3.4" font-weight="bold" text-anchor="end" fill="#585858" stroke="#585858" stroke-width="0.095">0.5</text>
<line x1="52.20" y1="337.60" x2="53.40" y2="337.60" stroke="#333" stroke-width="0.5"/>
<text x="53.00" y="338.80" font-size="3.4" font-weight="bold" text-anchor="end" fill="#585858" stroke="#585858" stroke-width="0.095">0.6</text>
<line x1="53.40" y1="357.40" x2="53.40" y2="358.60" stroke="#333" stroke-width="0.5"/>
<line x1="60.67" y1="357.40" x2="60.67" y2="358.60" stroke="#333" stroke-width="0.5"/>
<line x1="67.95" y1="357.40" x2="67.95" y2="358.60" stroke="#333" stroke-width="0.5"/>
<line x1="75.22" y1="357.40" x2="75.22" y2="358.60" stroke="#333" stroke-width="0.5"/>
<line x1="82.50" y1="357.40" x2="82.50" y2="358.60" stroke="#333" stroke-width="0.5"/>
<circle cx="72.88" cy="344.50" r="0.5" fill="none" stroke="#444" stroke-width="0.3"/>
<circle cx="77.97" cy="347.09" r="0.5" fill="none" stroke="#444" stroke-width="0.3"/>
<circle cx="66.68" cy="343.65" r="0.5" fill="none" stroke="#444" stroke-width="0.3"/>
<circle cx="73.11" cy="345.91" r="0.5" fill="none" stroke="#444" stroke-width="0.3"/>
<circle cx="76.91" cy="346.92" r="0.5" fill="none" stroke="#444" stroke-width="0.3"/>
<circle cx="67.02" cy="341.89" r="0.5" fill="none" stroke="#444" stroke-width="0.3"/>
<circle cx="62.90" cy="340.85" r="0.5" fill="none" stroke="#444" stroke-width="0.3"/>
<circle cx="68.42" cy="342.32" r="0.5" fill="none" stroke="#444" stroke-width="0.3"/>
<circle cx="73.23" cy="342.13" r="0.5" fill="none" stroke="#444" stroke-width="0.3"/>
<circle cx="74.67" cy="347.09" r="0.5" fill="none" stroke="#444" stroke-width="0.3"/>
<circle cx="66.76" cy="343.65" r="0.5" fill="none" stroke="#444" stroke-width="0.3"/>
<circle cx="71.37" cy="344.54" r="0.5" fill="none" stroke="#444" stroke-width="0.3"/>
<circle cx="69.33" cy="344.17" r="0.5" fill="none" stroke="#444" stroke-width="0.3"/>
<circle cx="75.40" cy="346.63" r="0.5" fill="none" stroke="#444" stroke-width="0.3"/>
<circle cx="62.91" cy="338.67" r="0.5" fill="none" stroke="#444" stroke-width="0.3"/>
<line x1="62.71" y1="341.96" x2="79.01" y2="347.30" stroke="#111" stroke-width="0.6"/>
<text x="56.80" y="355.20" font-size="4.0" font-weight="bold" fill="#000" stroke="#000" stroke-width="0.112">r = -0.75 ***</text>
<text x="54.50" y="360.10" font-size="3.4" font-weight="bold" text-anchor="end" fill="#222" transform="rotate(-45 54.50 360.10)" stroke="#222" stroke-width="0.095">0</text>
<text x="61.77" y="360.10" font-size="3.4" font-weight="bold" text-anchor="end" fill="#222" transform="rotate(-45 61.77 360.10)" stroke="#222" stroke-width="0.095">5</text>
<text x="69.05" y="360.10" font-size="3.4" font-weight="bold" text-anchor="end" fill="#222" transform="rotate(-45 69.05 360.10)" stroke="#222" stroke-width="0.095">10</text>
<text x="76.32" y="360.10" font-size="3.4" font-weight="bold" text-anchor="end" fill="#222" transform="rotate(-45 76.32 360.10)" stroke="#222" stroke-width="0.095">15</text>
<text x="83.60" y="360.10" font-size="3.4" font-weight="bold" text-anchor="end" fill="#222" transform="rotate(-45 83.60 360.10)" stroke="#222" stroke-width="0.095">20</text>
<text x="68.45" y="368.70" font-size="3.45" font-weight="bold" text-anchor="middle" fill="#333" stroke="#333" stroke-width="0.097">Tumor size (mm)</text>
<line x1="90.00" y1="337.60" x2="90.00" y2="357.40" stroke="#333" stroke-width="0.7"/>
<line x1="90.00" y1="357.40" x2="118.00" y2="357.40" stroke="#333" stroke-width="0.7"/>
<line x1="88.80" y1="357.40" x2="90.00" y2="357.40" stroke="#333" stroke-width="0.5"/>
<text x="89.60" y="358.60" font-size="3.4" font-weight="bold" text-anchor="end" fill="#585858" stroke="#585858" stroke-width="0.095">0.0</text>
<line x1="88.80" y1="354.10" x2="90.00" y2="354.10" stroke="#333" stroke-width="0.5"/>
<text x="89.60" y="355.30" font-size="3.4" font-weight="bold" text-anchor="end" fill="#585858" stroke="#585858" stroke-width="0.095">0.1</text>
<line x1="88.80" y1="350.80" x2="90.00" y2="350.80" stroke="#333" stroke-width="0.5"/>
<text x="89.60" y="352.00" font-size="3.4" font-weight="bold" text-anchor="end" fill="#585858" stroke="#585858" stroke-width="0.095">0.2</text>
<line x1="88.80" y1="347.50" x2="90.00" y2="347.50" stroke="#333" stroke-width="0.5"/>
<text x="89.60" y="348.70" font-size="3.4" font-weight="bold" text-anchor="end" fill="#585858" stroke="#585858" stroke-width="0.095">0.3</text>
<line x1="88.80" y1="344.20" x2="90.00" y2="344.20" stroke="#333" stroke-width="0.5"/>
<text x="89.60" y="345.40" font-size="3.4" font-weight="bold" text-anchor="end" fill="#585858" stroke="#585858" stroke-width="0.095">0.4</text>
<line x1="88.80" y1="340.90" x2="90.00" y2="340.90" stroke="#333" stroke-width="0.5"/>
<text x="89.60" y="342.10" font-size="3.4" font-weight="bold" text-anchor="end" fill="#585858" stroke="#585858" stroke-width="0.095">0.5</text>
<line x1="88.80" y1="337.60" x2="90.00" y2="337.60" stroke="#333" stroke-width="0.5"/>
<text x="89.60" y="338.80" font-size="3.4" font-weight="bold" text-anchor="end" fill="#585858" stroke="#585858" stroke-width="0.095">0.6</text>
<line x1="90.00" y1="357.40" x2="90.00" y2="358.60" stroke="#333" stroke-width="0.5"/>
<line x1="104.00" y1="357.40" x2="104.00" y2="358.60" stroke="#333" stroke-width="0.5"/>
<line x1="118.00" y1="357.40" x2="118.00" y2="358.60" stroke="#333" stroke-width="0.5"/>
<circle cx="99.87" cy="339.09" r="0.5" fill="none" stroke="#444" stroke-width="0.3"/>
<circle cx="100.80" cy="339.15" r="0.5" fill="none" stroke="#444" stroke-width="0.3"/>
<circle cx="107.98" cy="341.96" r="0.5" fill="none" stroke="#444" stroke-width="0.3"/>
<circle cx="110.77" cy="344.64" r="0.5" fill="none" stroke="#444" stroke-width="0.3"/>
<circle cx="102.44" cy="342.24" r="0.5" fill="none" stroke="#444" stroke-width="0.3"/>
<circle cx="98.35" cy="341.65" r="0.5" fill="none" stroke="#444" stroke-width="0.3"/>
<circle cx="109.18" cy="341.83" r="0.5" fill="none" stroke="#444" stroke-width="0.3"/>
<line x1="97.56" y1="339.38" x2="113.80" y2="345.12" stroke="#111" stroke-width="0.6"/>
<text x="93.40" y="355.20" font-size="4.0" font-weight="bold" fill="#000" stroke="#000" stroke-width="0.112">r = -0.83 **</text>
<text x="91.10" y="360.10" font-size="3.4" font-weight="bold" text-anchor="end" fill="#222" transform="rotate(-45 91.10 360.10)" stroke="#222" stroke-width="0.095">0</text>
<text x="105.10" y="360.10" font-size="3.4" font-weight="bold" text-anchor="end" fill="#222" transform="rotate(-45 105.10 360.10)" stroke="#222" stroke-width="0.095">5</text>
<text x="119.10" y="360.10" font-size="3.4" font-weight="bold" text-anchor="end" fill="#222" transform="rotate(-45 119.10 360.10)" stroke="#222" stroke-width="0.095">10</text>
<text x="104.50" y="368.70" font-size="3.45" font-weight="bold" text-anchor="middle" fill="#333" stroke="#333" stroke-width="0.097">Tumor size (mm)</text>
<line x1="127.50" y1="337.60" x2="127.50" y2="357.40" stroke="#333" stroke-width="0.7"/>
<line x1="127.50" y1="357.40" x2="156.70" y2="357.40" stroke="#333" stroke-width="0.7"/>
<line x1="126.30" y1="357.40" x2="127.50" y2="357.40" stroke="#333" stroke-width="0.5"/>
<text x="127.10" y="358.60" font-size="3.4" font-weight="bold" text-anchor="end" fill="#585858" stroke="#585858" stroke-width="0.095">0.0</text>
<line x1="126.30" y1="350.80" x2="127.50" y2="350.80" stroke="#333" stroke-width="0.5"/>
<text x="127.10" y="352.00" font-size="3.4" font-weight="bold" text-anchor="end" fill="#585858" stroke="#585858" stroke-width="0.095">0.5</text>
<line x1="126.30" y1="344.20" x2="127.50" y2="344.20" stroke="#333" stroke-width="0.5"/>
<text x="127.10" y="345.40" font-size="3.4" font-weight="bold" text-anchor="end" fill="#585858" stroke="#585858" stroke-width="0.095">1.0</text>
<line x1="126.30" y1="337.60" x2="127.50" y2="337.60" stroke="#333" stroke-width="0.5"/>
<text x="127.10" y="338.80" font-size="3.4" font-weight="bold" text-anchor="end" fill="#585858" stroke="#585858" stroke-width="0.095">1.5</text>
<line x1="127.50" y1="357.40" x2="127.50" y2="358.60" stroke="#333" stroke-width="0.5"/>
<line x1="132.37" y1="357.40" x2="132.37" y2="358.60" stroke="#333" stroke-width="0.5"/>
<line x1="137.23" y1="357.40" x2="137.23" y2="358.60" stroke="#333" stroke-width="0.5"/>
<line x1="142.10" y1="357.40" x2="142.10" y2="358.60" stroke="#333" stroke-width="0.5"/>
<line x1="146.97" y1="357.40" x2="146.97" y2="358.60" stroke="#333" stroke-width="0.5"/>
<line x1="151.83" y1="357.40" x2="151.83" y2="358.60" stroke="#333" stroke-width="0.5"/>
<line x1="156.70" y1="357.40" x2="156.70" y2="358.60" stroke="#333" stroke-width="0.5"/>
<circle cx="132.88" cy="345.54" r="0.5" fill="none" stroke="#444" stroke-width="0.3"/>
<circle cx="141.72" cy="344.31" r="0.5" fill="none" stroke="#444" stroke-width="0.3"/>
<circle cx="147.05" cy="346.64" r="0.5" fill="none" stroke="#444" stroke-width="0.3"/>
<circle cx="134.78" cy="344.95" r="0.5" fill="none" stroke="#444" stroke-width="0.3"/>
<circle cx="137.23" cy="346.54" r="0.5" fill="none" stroke="#444" stroke-width="0.3"/>
<circle cx="147.20" cy="348.02" r="0.5" fill="none" stroke="#444" stroke-width="0.3"/>
<circle cx="146.15" cy="348.76" r="0.5" fill="none" stroke="#444" stroke-width="0.3"/>
<circle cx="137.88" cy="343.46" r="0.5" fill="none" stroke="#444" stroke-width="0.3"/>
<circle cx="143.43" cy="344.36" r="0.5" fill="none" stroke="#444" stroke-width="0.3"/>
<circle cx="142.84" cy="347.64" r="0.5" fill="none" stroke="#444" stroke-width="0.3"/>
<circle cx="137.87" cy="342.98" r="0.5" fill="none" stroke="#444" stroke-width="0.3"/>
<circle cx="136.94" cy="342.17" r="0.5" fill="none" stroke="#444" stroke-width="0.3"/>
<circle cx="149.72" cy="349.46" r="0.5" fill="none" stroke="#444" stroke-width="0.3"/>
<circle cx="137.31" cy="345.37" r="0.5" fill="none" stroke="#444" stroke-width="0.3"/>
<circle cx="147.09" cy="349.98" r="0.5" fill="none" stroke="#444" stroke-width="0.3"/>
<circle cx="139.06" cy="344.85" r="0.5" fill="none" stroke="#444" stroke-width="0.3"/>
<circle cx="149.72" cy="347.80" r="0.5" fill="none" stroke="#444" stroke-width="0.3"/>
<circle cx="150.25" cy="349.41" r="0.5" fill="none" stroke="#444" stroke-width="0.3"/>
<line x1="132.76" y1="344.13" x2="152.03" y2="348.89" stroke="#111" stroke-width="0.6"/>
<text x="130.90" y="355.20" font-size="4.0" font-weight="bold" fill="#000" stroke="#000" stroke-width="0.112">r = -0.72 ***</text>
<text x="128.60" y="360.10" font-size="3.4" font-weight="bold" text-anchor="end" fill="#222" transform="rotate(-45 128.60 360.10)" stroke="#222" stroke-width="0.095">0</text>
<text x="133.47" y="360.10" font-size="3.4" font-weight="bold" text-anchor="end" fill="#222" transform="rotate(-45 133.47 360.10)" stroke="#222" stroke-width="0.095">5</text>
<text x="138.33" y="360.10" font-size="3.4" font-weight="bold" text-anchor="end" fill="#222" transform="rotate(-45 138.33 360.10)" stroke="#222" stroke-width="0.095">10</text>
<text x="143.20" y="360.10" font-size="3.4" font-weight="bold" text-anchor="end" fill="#222" transform="rotate(-45 143.20 360.10)" stroke="#222" stroke-width="0.095">15</text>
<text x="148.07" y="360.10" font-size="3.4" font-weight="bold" text-anchor="end" fill="#222" transform="rotate(-45 148.07 360.10)" stroke="#222" stroke-width="0.095">20</text>
<text x="152.93" y="360.10" font-size="3.4" font-weight="bold" text-anchor="end" fill="#222" transform="rotate(-45 152.93 360.10)" stroke="#222" stroke-width="0.095">25</text>
<text x="157.80" y="360.10" font-size="3.4" font-weight="bold" text-anchor="end" fill="#222" transform="rotate(-45 157.80 360.10)" stroke="#222" stroke-width="0.095">30</text>
<text x="142.60" y="368.70" font-size="3.45" font-weight="bold" text-anchor="middle" fill="#333" stroke="#333" stroke-width="0.097">Tumor burden (mm)</text>
<rect x="224.10" y="265.30" width="9.33" height="6.48" fill="#8b1809"/>
<rect x="232.73" y="265.30" width="9.33" height="6.48" fill="#8b1809"/>
<rect x="241.37" y="265.30" width="9.33" height="6.48" fill="#8b1809"/>
<rect x="250.00" y="265.30" width="9.33" height="6.48" fill="#e8280f"/>
<rect x="258.63" y="265.30" width="9.33" height="6.48" fill="#8b1809"/>
<rect x="267.27" y="265.30" width="9.33" height="6.48" fill="#8b1809"/>
<rect x="275.90" y="265.30" width="9.33" height="6.48" fill="#5d1006"/>
<rect x="284.53" y="265.30" width="9.33" height="6.48" fill="#170402"/>
<rect x="293.17" y="265.30" width="9.33" height="6.48" fill="#6b1207"/>
<rect x="301.80" y="265.30" width="9.33" height="6.48" fill="#227222"/>
<rect x="310.43" y="265.30" width="9.33" height="6.48" fill="#000000"/>
<rect x="319.07" y="265.30" width="9.33" height="6.48" fill="#174c17"/>
<rect x="327.70" y="265.30" width="9.33" height="6.48" fill="#39be39"/>
<rect x="336.33" y="265.30" width="9.33" height="6.48" fill="#113911"/>
<rect x="344.97" y="265.30" width="8.63" height="6.48" fill="#227222"/>
<rect x="224.10" y="271.07" width="9.33" height="6.48" fill="#ba200c"/>
<rect x="232.73" y="271.07" width="9.33" height="6.48" fill="#ba200c"/>
<rect x="241.37" y="271.07" width="9.33" height="6.48" fill="#ba200c"/>
<rect x="250.00" y="271.07" width="9.33" height="6.48" fill="#2e0803"/>
<rect x="258.63" y="271.07" width="9.33" height="6.48" fill="#000000"/>
<rect x="267.27" y="271.07" width="9.33" height="6.48" fill="#741408"/>
<rect x="275.90" y="271.07" width="9.33" height="6.48" fill="#e8280f"/>
<rect x="284.53" y="271.07" width="9.33" height="6.48" fill="#000000"/>
<rect x="293.17" y="271.07" width="9.33" height="6.48" fill="#2e0803"/>
<rect x="301.80" y="271.07" width="9.33" height="6.48" fill="#113911"/>
<rect x="310.43" y="271.07" width="9.33" height="6.48" fill="#1c5f1c"/>
<rect x="319.07" y="271.07" width="9.33" height="6.48" fill="#741408"/>
<rect x="327.70" y="271.07" width="9.33" height="6.48" fill="#39be39"/>
<rect x="336.33" y="271.07" width="9.33" height="6.48" fill="#113911"/>
<rect x="344.97" y="271.07" width="8.63" height="6.48" fill="#227222"/>
<rect x="224.10" y="276.85" width="9.33" height="6.48" fill="#000000"/>
<rect x="232.73" y="276.85" width="9.33" height="6.48" fill="#000000"/>
<rect x="241.37" y="276.85" width="9.33" height="6.48" fill="#1c5f1c"/>
<rect x="250.00" y="276.85" width="9.33" height="6.48" fill="#5d1006"/>
<rect x="258.63" y="276.85" width="9.33" height="6.48" fill="#8b1809"/>
<rect x="267.27" y="276.85" width="9.33" height="6.48" fill="#288528"/>
<rect x="275.90" y="276.85" width="9.33" height="6.48" fill="#227222"/>
<rect x="284.53" y="276.85" width="9.33" height="6.48" fill="#1c5f1c"/>
<rect x="293.17" y="276.85" width="9.33" height="6.48" fill="#174c17"/>
<rect x="301.80" y="276.85" width="9.33" height="6.48" fill="#2e0803"/>
<rect x="310.43" y="276.85" width="9.33" height="6.48" fill="#540e05"/>
<rect x="319.07" y="276.85" width="9.33" height="6.48" fill="#1c5f1c"/>
<rect x="327.70" y="276.85" width="9.33" height="6.48" fill="#1c5f1c"/>
<rect x="336.33" y="276.85" width="9.33" height="6.48" fill="#113911"/>
<rect x="344.97" y="276.85" width="8.63" height="6.48" fill="#227222"/>
<rect x="224.10" y="282.62" width="9.33" height="6.48" fill="#8b1809"/>
<rect x="232.73" y="282.62" width="9.33" height="6.48" fill="#8b1809"/>
<rect x="241.37" y="282.62" width="9.33" height="6.48" fill="#5d1006"/>
<rect x="250.00" y="282.62" width="9.33" height="6.48" fill="#227222"/>
<rect x="258.63" y="282.62" width="9.33" height="6.48" fill="#174c17"/>
<rect x="267.27" y="282.62" width="9.33" height="6.48" fill="#a21c0a"/>
<rect x="275.90" y="282.62" width="9.33" height="6.48" fill="#8b1809"/>
<rect x="284.53" y="282.62" width="9.33" height="6.48" fill="#174c17"/>
<rect x="293.17" y="282.62" width="9.33" height="6.48" fill="#2e982e"/>
<rect x="301.80" y="282.62" width="9.33" height="6.48" fill="#174c17"/>
<rect x="310.43" y="282.62" width="9.33" height="6.48" fill="#2e982e"/>
<rect x="319.07" y="282.62" width="9.33" height="6.48" fill="#1c5f1c"/>
<rect x="327.70" y="282.62" width="9.33" height="6.48" fill="#661207"/>
<rect x="336.33" y="282.62" width="9.33" height="6.48" fill="#1c5f1c"/>
<rect x="344.97" y="282.62" width="8.63" height="6.48" fill="#000000"/>
<rect x="224.10" y="288.40" width="9.33" height="6.48" fill="#8b1809"/>
<rect x="232.73" y="288.40" width="9.33" height="6.48" fill="#8b1809"/>
<rect x="241.37" y="288.40" width="9.33" height="6.48" fill="#5d1006"/>
<rect x="250.00" y="288.40" width="9.33" height="6.48" fill="#2e982e"/>
<rect x="258.63" y="288.40" width="9.33" height="6.48" fill="#227222"/>
<rect x="267.27" y="288.40" width="9.33" height="6.48" fill="#a21c0a"/>
<rect x="275.90" y="288.40" width="9.33" height="6.48" fill="#000000"/>
<rect x="284.53" y="288.40" width="9.33" height="6.48" fill="#288528"/>
<rect x="293.17" y="288.40" width="9.33" height="6.48" fill="#1c5f1c"/>
<rect x="301.80" y="288.40" width="9.33" height="6.48" fill="#000000"/>
<rect x="310.43" y="288.40" width="9.33" height="6.48" fill="#2e982e"/>
<rect x="319.07" y="288.40" width="9.33" height="6.48" fill="#174c17"/>
<rect x="327.70" y="288.40" width="9.33" height="6.48" fill="#5d1006"/>
<rect x="336.33" y="288.40" width="9.33" height="6.48" fill="#1c5f1c"/>
<rect x="344.97" y="288.40" width="8.63" height="6.48" fill="#174c17"/>
<rect x="224.10" y="294.18" width="9.33" height="6.48" fill="#8b1809"/>
<rect x="232.73" y="294.18" width="9.33" height="6.48" fill="#8b1809"/>
<rect x="241.37" y="294.18" width="9.33" height="6.48" fill="#8b1809"/>
<rect x="250.00" y="294.18" width="9.33" height="6.48" fill="#000000"/>
<rect x="258.63" y="294.18" width="9.33" height="6.48" fill="#061306"/>
<rect x="267.27" y="294.18" width="9.33" height="6.48" fill="#5d1006"/>
<rect x="275.90" y="294.18" width="9.33" height="6.48" fill="#5d1006"/>
<rect x="284.53" y="294.18" width="9.33" height="6.48" fill="#8b1809"/>
<rect x="293.17" y="294.18" width="9.33" height="6.48" fill="#33ab33"/>
<rect x="301.80" y="294.18" width="9.33" height="6.48" fill="#0b260b"/>
<rect x="310.43" y="294.18" width="9.33" height="6.48" fill="#227222"/>
<rect x="319.07" y="294.18" width="9.33" height="6.48" fill="#1c5f1c"/>
<rect x="327.70" y="294.18" width="9.33" height="6.48" fill="#741408"/>
<rect x="336.33" y="294.18" width="9.33" height="6.48" fill="#1c5f1c"/>
<rect x="344.97" y="294.18" width="8.63" height="6.48" fill="#1c5f1c"/>
<rect x="224.10" y="299.95" width="9.33" height="6.48" fill="#741408"/>
<rect x="232.73" y="299.95" width="9.33" height="6.48" fill="#741408"/>
<rect x="241.37" y="299.95" width="9.33" height="6.48" fill="#170402"/>
<rect x="250.00" y="299.95" width="9.33" height="6.48" fill="#e8280f"/>
<rect x="258.63" y="299.95" width="9.33" height="6.48" fill="#e8280f"/>
<rect x="267.27" y="299.95" width="9.33" height="6.48" fill="#227222"/>
<rect x="275.90" y="299.95" width="9.33" height="6.48" fill="#1c5f1c"/>
<rect x="284.53" y="299.95" width="9.33" height="6.48" fill="#1c5f1c"/>
<rect x="293.17" y="299.95" width="9.33" height="6.48" fill="#5d1006"/>
<rect x="301.80" y="299.95" width="9.33" height="6.48" fill="#741408"/>
<rect x="310.43" y="299.95" width="9.33" height="6.48" fill="#741408"/>
<rect x="319.07" y="299.95" width="9.33" height="6.48" fill="#227222"/>
<rect x="327.70" y="299.95" width="9.33" height="6.48" fill="#288528"/>
<rect x="336.33" y="299.95" width="9.33" height="6.48" fill="#1c5f1c"/>
<rect x="344.97" y="299.95" width="8.63" height="6.48" fill="#288528"/>
<rect x="224.10" y="305.73" width="9.33" height="6.48" fill="#000000"/>
<rect x="232.73" y="305.73" width="9.33" height="6.48" fill="#174c17"/>
<rect x="241.37" y="305.73" width="9.33" height="6.48" fill="#a21c0a"/>
<rect x="250.00" y="305.73" width="9.33" height="6.48" fill="#000000"/>
<rect x="258.63" y="305.73" width="9.33" height="6.48" fill="#2e0803"/>
<rect x="267.27" y="305.73" width="9.33" height="6.48" fill="#2e982e"/>
<rect x="275.90" y="305.73" width="9.33" height="6.48" fill="#1c5f1c"/>
<rect x="284.53" y="305.73" width="9.33" height="6.48" fill="#8b1809"/>
<rect x="293.17" y="305.73" width="9.33" height="6.48" fill="#1c5f1c"/>
<rect x="301.80" y="305.73" width="9.33" height="6.48" fill="#5d1006"/>
<rect x="310.43" y="305.73" width="9.33" height="6.48" fill="#2e0803"/>
<rect x="319.07" y="305.73" width="9.33" height="6.48" fill="#227222"/>
<rect x="327.70" y="305.73" width="9.33" height="6.48" fill="#174c17"/>
<rect x="336.33" y="305.73" width="9.33" height="6.48" fill="#174c17"/>
<rect x="344.97" y="305.73" width="8.63" height="6.48" fill="#113911"/>
<rect x="224.10" y="311.50" width="9.33" height="6.48" fill="#174c17"/>
<rect x="232.73" y="311.50" width="9.33" height="6.48" fill="#174c17"/>
<rect x="241.37" y="311.50" width="9.33" height="6.48" fill="#000000"/>
<rect x="250.00" y="311.50" width="9.33" height="6.48" fill="#2e0803"/>
<rect x="258.63" y="311.50" width="9.33" height="6.48" fill="#460c04"/>
<rect x="267.27" y="311.50" width="9.33" height="6.48" fill="#0b260b"/>
<rect x="275.90" y="311.50" width="9.33" height="6.48" fill="#000000"/>
<rect x="284.53" y="311.50" width="9.33" height="6.48" fill="#741408"/>
<rect x="293.17" y="311.50" width="9.33" height="6.48" fill="#288528"/>
<rect x="301.80" y="311.50" width="9.33" height="6.48" fill="#000000"/>
<rect x="310.43" y="311.50" width="9.33" height="6.48" fill="#741408"/>
<rect x="319.07" y="311.50" width="9.33" height="6.48" fill="#1c5f1c"/>
<rect x="327.70" y="311.50" width="9.33" height="6.48" fill="#1c5f1c"/>
<rect x="336.33" y="311.50" width="9.33" height="6.48" fill="#174c17"/>
<rect x="344.97" y="311.50" width="8.63" height="6.48" fill="#000000"/>
<rect x="224.10" y="317.28" width="9.33" height="6.48" fill="#a21c0a"/>
<rect x="232.73" y="317.28" width="9.33" height="6.48" fill="#a21c0a"/>
<rect x="241.37" y="317.28" width="9.33" height="6.48" fill="#a21c0a"/>
<rect x="250.00" y="317.28" width="9.33" height="6.48" fill="#460c04"/>
<rect x="258.63" y="317.28" width="9.33" height="6.48" fill="#460c04"/>
<rect x="267.27" y="317.28" width="9.33" height="6.48" fill="#000000"/>
<rect x="275.90" y="317.28" width="9.33" height="6.48" fill="#1c5f1c"/>
<rect x="284.53" y="317.28" width="9.33" height="6.48" fill="#1c5f1c"/>
<rect x="293.17" y="317.28" width="9.33" height="6.48" fill="#741408"/>
<rect x="301.80" y="317.28" width="9.33" height="6.48" fill="#460c04"/>
<rect x="310.43" y="317.28" width="9.33" height="6.48" fill="#1c5f1c"/>
<rect x="319.07" y="317.28" width="9.33" height="6.48" fill="#1c5f1c"/>
<rect x="327.70" y="317.28" width="9.33" height="6.48" fill="#000000"/>
<rect x="336.33" y="317.28" width="9.33" height="6.48" fill="#000000"/>
<rect x="344.97" y="317.28" width="8.63" height="6.48" fill="#061306"/>
<rect x="224.10" y="323.05" width="9.33" height="6.48" fill="#460c04"/>
<rect x="232.73" y="323.05" width="9.33" height="6.48" fill="#5d1006"/>
<rect x="241.37" y="323.05" width="9.33" height="6.48" fill="#113911"/>
<rect x="250.00" y="323.05" width="9.33" height="6.48" fill="#2e0803"/>
<rect x="258.63" y="323.05" width="9.33" height="6.48" fill="#460c04"/>
<rect x="267.27" y="323.05" width="9.33" height="6.48" fill="#227222"/>
<rect x="275.90" y="323.05" width="9.33" height="6.48" fill="#227222"/>
<rect x="284.53" y="323.05" width="9.33" height="6.48" fill="#288528"/>
<rect x="293.17" y="323.05" width="9.33" height="6.48" fill="#5d1006"/>
<rect x="301.80" y="323.05" width="9.33" height="6.48" fill="#2e0803"/>
<rect x="310.43" y="323.05" width="9.33" height="6.48" fill="#061306"/>
<rect x="319.07" y="323.05" width="9.33" height="6.48" fill="#1c5f1c"/>
<rect x="327.70" y="323.05" width="9.33" height="6.48" fill="#174c17"/>
<rect x="336.33" y="323.05" width="9.33" height="6.48" fill="#2e0803"/>
<rect x="344.97" y="323.05" width="8.63" height="6.48" fill="#2e0803"/>
<rect x="224.10" y="328.83" width="9.33" height="6.48" fill="#1c5f1c"/>
<rect x="232.73" y="328.83" width="9.33" height="6.48" fill="#288528"/>
<rect x="241.37" y="328.83" width="9.33" height="6.48" fill="#170402"/>
<rect x="250.00" y="328.83" width="9.33" height="6.48" fill="#170402"/>
<rect x="258.63" y="328.83" width="9.33" height="6.48" fill="#2e0803"/>
<rect x="267.27" y="328.83" width="9.33" height="6.48" fill="#1c5f1c"/>
<rect x="275.90" y="328.83" width="9.33" height="6.48" fill="#741408"/>
<rect x="284.53" y="328.83" width="9.33" height="6.48" fill="#8b1809"/>
<rect x="293.17" y="328.83" width="9.33" height="6.48" fill="#741408"/>
<rect x="301.80" y="328.83" width="9.33" height="6.48" fill="#2e982e"/>
<rect x="310.43" y="328.83" width="9.33" height="6.48" fill="#8b1809"/>
<rect x="319.07" y="328.83" width="9.33" height="6.48" fill="#460c04"/>
<rect x="327.70" y="328.83" width="9.33" height="6.48" fill="#5d1006"/>
<rect x="336.33" y="328.83" width="9.33" height="6.48" fill="#1c5f1c"/>
<rect x="344.97" y="328.83" width="8.63" height="6.48" fill="#2e0803"/>
<rect x="224.10" y="334.60" width="9.33" height="6.48" fill="#1c5f1c"/>
<rect x="232.73" y="334.60" width="9.33" height="6.48" fill="#227222"/>
<rect x="241.37" y="334.60" width="9.33" height="6.48" fill="#0b260b"/>
<rect x="250.00" y="334.60" width="9.33" height="6.48" fill="#288528"/>
<rect x="258.63" y="334.60" width="9.33" height="6.48" fill="#288528"/>
<rect x="267.27" y="334.60" width="9.33" height="6.48" fill="#ba200c"/>
<rect x="275.90" y="334.60" width="9.33" height="6.48" fill="#1c5f1c"/>
<rect x="284.53" y="334.60" width="9.33" height="6.48" fill="#ba200c"/>
<rect x="293.17" y="334.60" width="9.33" height="6.48" fill="#d1240e"/>
<rect x="301.80" y="334.60" width="9.33" height="6.48" fill="#000000"/>
<rect x="310.43" y="334.60" width="9.33" height="6.48" fill="#174c17"/>
<rect x="319.07" y="334.60" width="9.33" height="6.48" fill="#a21c0a"/>
<rect x="327.70" y="334.60" width="9.33" height="6.48" fill="#460c04"/>
<rect x="336.33" y="334.60" width="9.33" height="6.48" fill="#a21c0a"/>
<rect x="344.97" y="334.60" width="8.63" height="6.48" fill="#e8280f"/>
<rect x="224.10" y="340.38" width="9.33" height="6.48" fill="#288528"/>
<rect x="232.73" y="340.38" width="9.33" height="6.48" fill="#227222"/>
<rect x="241.37" y="340.38" width="9.33" height="6.48" fill="#2e982e"/>
<rect x="250.00" y="340.38" width="9.33" height="6.48" fill="#33ab33"/>
<rect x="258.63" y="340.38" width="9.33" height="6.48" fill="#2e982e"/>
<rect x="267.27" y="340.38" width="9.33" height="6.48" fill="#170402"/>
<rect x="275.90" y="340.38" width="9.33" height="6.48" fill="#1c5f1c"/>
<rect x="284.53" y="340.38" width="9.33" height="6.48" fill="#288528"/>
<rect x="293.17" y="340.38" width="9.33" height="6.48" fill="#000000"/>
<rect x="301.80" y="340.38" width="9.33" height="6.48" fill="#8b1809"/>
<rect x="310.43" y="340.38" width="9.33" height="6.48" fill="#1c5f1c"/>
<rect x="319.07" y="340.38" width="9.33" height="6.48" fill="#741408"/>
<rect x="327.70" y="340.38" width="9.33" height="6.48" fill="#113911"/>
<rect x="336.33" y="340.38" width="9.33" height="6.48" fill="#227222"/>
<rect x="344.97" y="340.38" width="8.63" height="6.48" fill="#000000"/>
<rect x="224.10" y="346.15" width="9.33" height="6.48" fill="#288528"/>
<rect x="232.73" y="346.15" width="9.33" height="6.48" fill="#288528"/>
<rect x="241.37" y="346.15" width="9.33" height="6.48" fill="#227222"/>
<rect x="250.00" y="346.15" width="9.33" height="6.48" fill="#5d1006"/>
<rect x="258.63" y="346.15" width="9.33" height="6.48" fill="#000000"/>
<rect x="267.27" y="346.15" width="9.33" height="6.48" fill="#2e0803"/>
<rect x="275.90" y="346.15" width="9.33" height="6.48" fill="#174c17"/>
<rect x="284.53" y="346.15" width="9.33" height="6.48" fill="#8b1809"/>
<rect x="293.17" y="346.15" width="9.33" height="6.48" fill="#2e0803"/>
<rect x="301.80" y="346.15" width="9.33" height="6.48" fill="#460c04"/>
<rect x="310.43" y="346.15" width="9.33" height="6.48" fill="#a21c0a"/>
<rect x="319.07" y="346.15" width="9.33" height="6.48" fill="#a21c0a"/>
<rect x="327.70" y="346.15" width="9.33" height="6.48" fill="#5d1006"/>
<rect x="336.33" y="346.15" width="9.33" height="6.48" fill="#174c17"/>
<rect x="344.97" y="346.15" width="8.63" height="6.48" fill="#2e0803"/>
<rect x="224.10" y="351.93" width="9.33" height="6.48" fill="#0b260b"/>
<rect x="232.73" y="351.93" width="9.33" height="6.48" fill="#2e0803"/>
<rect x="241.37" y="351.93" width="9.33" height="6.48" fill="#288528"/>
<rect x="250.00" y="351.93" width="9.33" height="6.48" fill="#061306"/>
<rect x="258.63" y="351.93" width="9.33" height="6.48" fill="#000000"/>
<rect x="267.27" y="351.93" width="9.33" height="6.48" fill="#2e0803"/>
<rect x="275.90" y="351.93" width="9.33" height="6.48" fill="#33ab33"/>
<rect x="284.53" y="351.93" width="9.33" height="6.48" fill="#8b1809"/>
<rect x="293.17" y="351.93" width="9.33" height="6.48" fill="#1c5f1c"/>
<rect x="301.80" y="351.93" width="9.33" height="6.48" fill="#1c5f1c"/>
<rect x="310.43" y="351.93" width="9.33" height="6.48" fill="#000000"/>
<rect x="319.07" y="351.93" width="9.33" height="6.48" fill="#000000"/>
<rect x="327.70" y="351.93" width="9.33" height="6.48" fill="#5d1006"/>
<rect x="336.33" y="351.93" width="9.33" height="6.48" fill="#8b1809"/>
<rect x="344.97" y="351.93" width="8.63" height="6.48" fill="#741408"/>
<rect x="224.10" y="357.70" width="9.33" height="6.48" fill="#227222"/>
<rect x="232.73" y="357.70" width="9.33" height="6.48" fill="#227222"/>
<rect x="241.37" y="357.70" width="9.33" height="6.48" fill="#227222"/>
<rect x="250.00" y="357.70" width="9.33" height="6.48" fill="#170402"/>
<rect x="258.63" y="357.70" width="9.33" height="6.48" fill="#170402"/>
<rect x="267.27" y="357.70" width="9.33" height="6.48" fill="#2e0803"/>
<rect x="275.90" y="357.70" width="9.33" height="6.48" fill="#000000"/>
<rect x="284.53" y="357.70" width="9.33" height="6.48" fill="#1c5f1c"/>
<rect x="293.17" y="357.70" width="9.33" height="6.48" fill="#061306"/>
<rect x="301.80" y="357.70" width="9.33" height="6.48" fill="#2e982e"/>
<rect x="310.43" y="357.70" width="9.33" height="6.48" fill="#a21c0a"/>
<rect x="319.07" y="357.70" width="9.33" height="6.48" fill="#2e0803"/>
<rect x="327.70" y="357.70" width="9.33" height="6.48" fill="#5d1006"/>
<rect x="336.33" y="357.70" width="9.33" height="6.48" fill="#000000"/>
<rect x="344.97" y="357.70" width="8.63" height="6.48" fill="#061306"/>
<rect x="224.10" y="363.48" width="9.33" height="6.48" fill="#1c5f1c"/>
<rect x="232.73" y="363.48" width="9.33" height="6.48" fill="#1c5f1c"/>
<rect x="241.37" y="363.48" width="9.33" height="6.48" fill="#061306"/>
<rect x="250.00" y="363.48" width="9.33" height="6.48" fill="#174c17"/>
<rect x="258.63" y="363.48" width="9.33" height="6.48" fill="#174c17"/>
<rect x="267.27" y="363.48" width="9.33" height="6.48" fill="#227222"/>
<rect x="275.90" y="363.48" width="9.33" height="6.48" fill="#741408"/>
<rect x="284.53" y="363.48" width="9.33" height="6.48" fill="#1c5f1c"/>
<rect x="293.17" y="363.48" width="9.33" height="6.48" fill="#8b1809"/>
<rect x="301.80" y="363.48" width="9.33" height="6.48" fill="#0b260b"/>
<rect x="310.43" y="363.48" width="9.33" height="6.48" fill="#000000"/>
<rect x="319.07" y="363.48" width="9.33" height="6.48" fill="#174c17"/>
<rect x="327.70" y="363.48" width="9.33" height="6.48" fill="#5d1006"/>
<rect x="336.33" y="363.48" width="9.33" height="6.48" fill="#a21c0a"/>
<rect x="344.97" y="363.48" width="8.63" height="6.48" fill="#741408"/>
<rect x="224.10" y="369.25" width="9.33" height="6.48" fill="#227222"/>
<rect x="232.73" y="369.25" width="9.33" height="6.48" fill="#1c5f1c"/>
<rect x="241.37" y="369.25" width="9.33" height="6.48" fill="#288528"/>
<rect x="250.00" y="369.25" width="9.33" height="6.48" fill="#174c17"/>
<rect x="258.63" y="369.25" width="9.33" height="6.48" fill="#1c5f1c"/>
<rect x="267.27" y="369.25" width="9.33" height="6.48" fill="#113911"/>
<rect x="275.90" y="369.25" width="9.33" height="6.48" fill="#8b1809"/>
<rect x="284.53" y="369.25" width="9.33" height="6.48" fill="#113911"/>
<rect x="293.17" y="369.25" width="9.33" height="6.48" fill="#170402"/>
<rect x="301.80" y="369.25" width="9.33" height="6.48" fill="#170402"/>
<rect x="310.43" y="369.25" width="9.33" height="6.48" fill="#000000"/>
<rect x="319.07" y="369.25" width="9.33" height="6.48" fill="#000000"/>
<rect x="327.70" y="369.25" width="9.33" height="6.48" fill="#5d1006"/>
<rect x="336.33" y="369.25" width="9.33" height="6.48" fill="#a21c0a"/>
<rect x="344.97" y="369.25" width="8.63" height="6.48" fill="#000000"/>
<rect x="224.10" y="375.03" width="9.33" height="5.78" fill="#0b260b"/>
<rect x="232.73" y="375.03" width="9.33" height="5.78" fill="#0b260b"/>
<rect x="241.37" y="375.03" width="9.33" height="5.78" fill="#000000"/>
<rect x="250.00" y="375.03" width="9.33" height="5.78" fill="#2e982e"/>
<rect x="258.63" y="375.03" width="9.33" height="5.78" fill="#288528"/>
<rect x="267.27" y="375.03" width="9.33" height="5.78" fill="#000000"/>
<rect x="275.90" y="375.03" width="9.33" height="5.78" fill="#741408"/>
<rect x="284.53" y="375.03" width="9.33" height="5.78" fill="#5d1006"/>
<rect x="293.17" y="375.03" width="9.33" height="5.78" fill="#1c5f1c"/>
<rect x="301.80" y="375.03" width="9.33" height="5.78" fill="#e8280f"/>
<rect x="310.43" y="375.03" width="9.33" height="5.78" fill="#227222"/>
<rect x="319.07" y="375.03" width="9.33" height="5.78" fill="#a21c0a"/>
<rect x="327.70" y="375.03" width="9.33" height="5.78" fill="#460c04"/>
<rect x="336.33" y="375.03" width="9.33" height="5.78" fill="#2e0803"/>
<rect x="344.97" y="375.03" width="8.63" height="5.78" fill="#5d1006"/>
<rect x="224.10" y="265.30" width="129.50" height="115.50" fill="none" stroke="#1a1a1a" stroke-width="0.5"/>
<text x="229.32" y="263.40" font-size="4.4" font-weight="bold" fill="#000" transform="rotate(-45 229.32 263.40)" stroke="#000" stroke-width="0.1">CD3+/CD11b+ ratio</text>
<text x="237.95" y="263.40" font-size="4.4" font-weight="bold" fill="#000" transform="rotate(-45 237.95 263.40)" stroke="#000" stroke-width="0.1">CD4+/CD11b+ ratio</text>
<text x="246.58" y="263.40" font-size="4.4" font-weight="bold" fill="#000" transform="rotate(-45 246.58 263.40)" stroke="#000" stroke-width="0.1">CD8+/CD11b+ ratio</text>
<text x="255.22" y="263.40" font-size="4.4" font-weight="bold" fill="#000" transform="rotate(-45 255.22 263.40)" stroke="#000" stroke-width="0.1">CD8+ (%CD45+)</text>
<text x="263.85" y="263.40" font-size="4.4" font-weight="bold" fill="#000" transform="rotate(-45 263.85 263.40)" stroke="#000" stroke-width="0.1">CD4+ (%CD45+)</text>
<text x="272.48" y="263.40" font-size="4.4" font-weight="bold" fill="#000" transform="rotate(-45 272.48 263.40)" stroke="#000" stroke-width="0.1">PD-1+ (%CD8+)</text>
<text x="281.12" y="263.40" font-size="4.4" font-weight="bold" fill="#000" transform="rotate(-45 281.12 263.40)" stroke="#000" stroke-width="0.1">IFNγ+ (%CD8+)</text>
<text x="289.75" y="263.40" font-size="4.4" font-weight="bold" fill="#000" transform="rotate(-45 289.75 263.40)" stroke="#000" stroke-width="0.1">PD-1 level (CD8+)</text>
<text x="298.38" y="263.40" font-size="4.4" font-weight="bold" fill="#000" transform="rotate(-45 298.38 263.40)" stroke="#000" stroke-width="0.1">IFNγ level (CD8+)</text>
<text x="307.02" y="263.40" font-size="4.4" font-weight="bold" fill="#000" transform="rotate(-45 307.02 263.40)" stroke="#000" stroke-width="0.1">PMN-MDSC (%CD45+)</text>
<text x="315.65" y="263.40" font-size="4.4" font-weight="bold" fill="#000" transform="rotate(-45 315.65 263.40)" stroke="#000" stroke-width="0.1">CD11b+ (%CD45+)</text>
<text x="324.28" y="263.40" font-size="4.4" font-weight="bold" fill="#000" transform="rotate(-45 324.28 263.40)" stroke="#000" stroke-width="0.1">M-MDSC (%CD45+)</text>
<text x="332.92" y="263.40" font-size="4.4" font-weight="bold" fill="#000" transform="rotate(-45 332.92 263.40)" stroke="#000" stroke-width="0.1">PD-L1+ (%CD11b+)</text>
<text x="341.55" y="263.40" font-size="4.4" font-weight="bold" fill="#000" transform="rotate(-45 341.55 263.40)" stroke="#000" stroke-width="0.1">PD-L1 level (CD11b+)</text>
<text x="350.18" y="263.40" font-size="4.4" font-weight="bold" fill="#000" transform="rotate(-45 350.18 263.40)" stroke="#000" stroke-width="0.1">Treg (%CD4+)</text>
<text x="221.60" y="270.02" font-size="5.1" font-weight="bold" text-anchor="end" fill="#000" stroke="#000" stroke-width="0.143">8</text>
<text x="221.60" y="281.57" font-size="5.1" font-weight="bold" text-anchor="end" fill="#000" stroke="#000" stroke-width="0.143">10</text>
<text x="221.60" y="293.12" font-size="5.1" font-weight="bold" text-anchor="end" fill="#000" stroke="#000" stroke-width="0.143">11.5</text>
<text x="221.60" y="304.67" font-size="5.1" font-weight="bold" text-anchor="end" fill="#000" stroke="#000" stroke-width="0.143">12.75</text>
<text x="221.60" y="316.22" font-size="5.1" font-weight="bold" text-anchor="end" fill="#000" stroke="#000" stroke-width="0.143">14.75</text>
<text x="221.60" y="327.77" font-size="5.1" font-weight="bold" text-anchor="end" fill="#000" stroke="#000" stroke-width="0.143">16.75</text>
<text x="221.60" y="339.32" font-size="5.1" font-weight="bold" text-anchor="end" fill="#000" stroke="#000" stroke-width="0.143">18.5</text>
<text x="221.60" y="350.87" font-size="5.1" font-weight="bold" text-anchor="end" fill="#000" stroke="#000" stroke-width="0.143">20</text>
<text x="221.60" y="362.42" font-size="5.1" font-weight="bold" text-anchor="end" fill="#000" stroke="#000" stroke-width="0.143">22.25</text>
<text x="221.60" y="373.97" font-size="5.1" font-weight="bold" text-anchor="end" fill="#000" stroke="#000" stroke-width="0.143">22.75</text>
<defs><linearGradient id="g1853" x1="0" y1="0" x2="0" y2="1"><stop offset="0" stop-color="#f52a10"/><stop offset="0.565" stop-color="#000"/><stop offset="1" stop-color="#3ecf3e"/></linearGradient></defs>
<rect x="360.30" y="265.30" width="6.50" height="115.50" fill="url(#g1853)" stroke="#222" stroke-width="0.5"/>
<line x1="366.80" y1="283.20" x2="367.70" y2="283.20" stroke="#444" stroke-width="0.4"/>
<text x="369.20" y="285.80" font-size="4.5" fill="#222" stroke="#222" stroke-width="0.126">2</text>
<line x1="366.80" y1="306.80" x2="367.70" y2="306.80" stroke="#444" stroke-width="0.4"/>
<text x="369.20" y="309.40" font-size="4.5" fill="#222" stroke="#222" stroke-width="0.126">1</text>
<line x1="366.80" y1="330.60" x2="367.70" y2="330.60" stroke="#444" stroke-width="0.4"/>
<text x="369.20" y="333.20" font-size="4.5" fill="#222" stroke="#222" stroke-width="0.126">0</text>
<line x1="366.80" y1="354.40" x2="367.70" y2="354.40" stroke="#444" stroke-width="0.4"/>
<text x="369.20" y="357.00" font-size="4.5" fill="#222" stroke="#222" stroke-width="0.126">-1</text>
<line x1="366.80" y1="378.00" x2="367.70" y2="378.00" stroke="#444" stroke-width="0.4"/>
<text x="369.20" y="380.60" font-size="4.5" fill="#222" stroke="#222" stroke-width="0.126">-2</text>
<text x="196.20" y="322.70" font-size="6.8" font-weight="bold" text-anchor="middle" fill="#000" transform="rotate(-90 196.20 322.70)" textLength="50" lengthAdjust="spacingAndGlyphs" stroke="#000" stroke-width="0.190">total tumor load</text>
<text x="203.20" y="323.00" font-size="6.8" font-weight="bold" text-anchor="middle" fill="#000" transform="rotate(-90 203.20 323.00)" textLength="69.5" lengthAdjust="spacingAndGlyphs" stroke="#000" stroke-width="0.190">[T1 + T2 mm diameter]</text>
<rect x="25.20" y="431.80" width="8.77" height="6.37" fill="#a21c0a"/>
<rect x="33.27" y="431.80" width="8.77" height="6.37" fill="#a21c0a"/>
<rect x="41.34" y="431.80" width="8.77" height="6.37" fill="#741408"/>
<rect x="49.41" y="431.80" width="8.77" height="6.37" fill="#170402"/>
<rect x="57.48" y="431.80" width="8.77" height="6.37" fill="#8b1809"/>
<rect x="65.54" y="431.80" width="8.77" height="6.37" fill="#288528"/>
<rect x="73.61" y="431.80" width="8.77" height="6.37" fill="#741408"/>
<rect x="81.68" y="431.80" width="8.77" height="6.37" fill="#0b260b"/>
<rect x="89.75" y="431.80" width="8.77" height="6.37" fill="#170402"/>
<rect x="97.82" y="431.80" width="8.77" height="6.37" fill="#0b260b"/>
<rect x="105.89" y="431.80" width="8.77" height="6.37" fill="#000000"/>
<rect x="113.96" y="431.80" width="8.77" height="6.37" fill="#174c17"/>
<rect x="122.03" y="431.80" width="8.77" height="6.37" fill="#174c17"/>
<rect x="130.09" y="431.80" width="8.77" height="6.37" fill="#113911"/>
<rect x="138.16" y="431.80" width="8.77" height="6.37" fill="#1c5f1c"/>
<rect x="146.23" y="431.80" width="8.07" height="6.37" fill="#288528"/>
<rect x="25.20" y="437.48" width="8.77" height="6.37" fill="#ba200c"/>
<rect x="33.27" y="437.48" width="8.77" height="6.37" fill="#ba200c"/>
<rect x="41.34" y="437.48" width="8.77" height="6.37" fill="#a21c0a"/>
<rect x="49.41" y="437.48" width="8.77" height="6.37" fill="#5d1006"/>
<rect x="57.48" y="437.48" width="8.77" height="6.37" fill="#5d1006"/>
<rect x="65.54" y="437.48" width="8.77" height="6.37" fill="#170402"/>
<rect x="73.61" y="437.48" width="8.77" height="6.37" fill="#460c04"/>
<rect x="81.68" y="437.48" width="8.77" height="6.37" fill="#a21c0a"/>
<rect x="89.75" y="437.48" width="8.77" height="6.37" fill="#288528"/>
<rect x="97.82" y="437.48" width="8.77" height="6.37" fill="#000000"/>
<rect x="105.89" y="437.48" width="8.77" height="6.37" fill="#000000"/>
<rect x="113.96" y="437.48" width="8.77" height="6.37" fill="#174c17"/>
<rect x="122.03" y="437.48" width="8.77" height="6.37" fill="#174c17"/>
<rect x="130.09" y="437.48" width="8.77" height="6.37" fill="#2e0803"/>
<rect x="138.16" y="437.48" width="8.77" height="6.37" fill="#288528"/>
<rect x="146.23" y="437.48" width="8.07" height="6.37" fill="#2e0803"/>
<rect x="25.20" y="443.15" width="8.77" height="6.37" fill="#2e0803"/>
<rect x="33.27" y="443.15" width="8.77" height="6.37" fill="#170402"/>
<rect x="41.34" y="443.15" width="8.77" height="6.37" fill="#5d1006"/>
<rect x="49.41" y="443.15" width="8.77" height="6.37" fill="#e8280f"/>
<rect x="57.48" y="443.15" width="8.77" height="6.37" fill="#5d1006"/>
<rect x="65.54" y="443.15" width="8.77" height="6.37" fill="#a21c0a"/>
<rect x="73.61" y="443.15" width="8.77" height="6.37" fill="#174c17"/>
<rect x="81.68" y="443.15" width="8.77" height="6.37" fill="#227222"/>
<rect x="89.75" y="443.15" width="8.77" height="6.37" fill="#227222"/>
<rect x="97.82" y="443.15" width="8.77" height="6.37" fill="#288528"/>
<rect x="105.89" y="443.15" width="8.77" height="6.37" fill="#000000"/>
<rect x="113.96" y="443.15" width="8.77" height="6.37" fill="#061306"/>
<rect x="122.03" y="443.15" width="8.77" height="6.37" fill="#113911"/>
<rect x="130.09" y="443.15" width="8.77" height="6.37" fill="#1c5f1c"/>
<rect x="138.16" y="443.15" width="8.77" height="6.37" fill="#174c17"/>
<rect x="146.23" y="443.15" width="8.07" height="6.37" fill="#174c17"/>
<rect x="25.20" y="448.82" width="8.77" height="6.37" fill="#a21c0a"/>
<rect x="33.27" y="448.82" width="8.77" height="6.37" fill="#a21c0a"/>
<rect x="41.34" y="448.82" width="8.77" height="6.37" fill="#741408"/>
<rect x="49.41" y="448.82" width="8.77" height="6.37" fill="#5d1006"/>
<rect x="57.48" y="448.82" width="8.77" height="6.37" fill="#170402"/>
<rect x="65.54" y="448.82" width="8.77" height="6.37" fill="#8b1809"/>
<rect x="73.61" y="448.82" width="8.77" height="6.37" fill="#000000"/>
<rect x="81.68" y="448.82" width="8.77" height="6.37" fill="#a21c0a"/>
<rect x="89.75" y="448.82" width="8.77" height="6.37" fill="#061306"/>
<rect x="97.82" y="448.82" width="8.77" height="6.37" fill="#113911"/>
<rect x="105.89" y="448.82" width="8.77" height="6.37" fill="#741408"/>
<rect x="113.96" y="448.82" width="8.77" height="6.37" fill="#174c17"/>
<rect x="122.03" y="448.82" width="8.77" height="6.37" fill="#741408"/>
<rect x="130.09" y="448.82" width="8.77" height="6.37" fill="#1c5f1c"/>
<rect x="138.16" y="448.82" width="8.77" height="6.37" fill="#113911"/>
<rect x="146.23" y="448.82" width="8.07" height="6.37" fill="#1c5f1c"/>
<rect x="25.20" y="454.50" width="8.77" height="6.37" fill="#8b1809"/>
<rect x="33.27" y="454.50" width="8.77" height="6.37" fill="#8b1809"/>
<rect x="41.34" y="454.50" width="8.77" height="6.37" fill="#2e0803"/>
<rect x="49.41" y="454.50" width="8.77" height="6.37" fill="#170402"/>
<rect x="57.48" y="454.50" width="8.77" height="6.37" fill="#460c04"/>
<rect x="65.54" y="454.50" width="8.77" height="6.37" fill="#a21c0a"/>
<rect x="73.61" y="454.50" width="8.77" height="6.37" fill="#460c04"/>
<rect x="81.68" y="454.50" width="8.77" height="6.37" fill="#2e982e"/>
<rect x="89.75" y="454.50" width="8.77" height="6.37" fill="#2e0803"/>
<rect x="97.82" y="454.50" width="8.77" height="6.37" fill="#000000"/>
<rect x="105.89" y="454.50" width="8.77" height="6.37" fill="#000000"/>
<rect x="113.96" y="454.50" width="8.77" height="6.37" fill="#0b260b"/>
<rect x="122.03" y="454.50" width="8.77" height="6.37" fill="#227222"/>
<rect x="130.09" y="454.50" width="8.77" height="6.37" fill="#174c17"/>
<rect x="138.16" y="454.50" width="8.77" height="6.37" fill="#174c17"/>
<rect x="146.23" y="454.50" width="8.07" height="6.37" fill="#113911"/>
<rect x="25.20" y="460.18" width="8.77" height="6.37" fill="#000000"/>
<rect x="33.27" y="460.18" width="8.77" height="6.37" fill="#000000"/>
<rect x="41.34" y="460.18" width="8.77" height="6.37" fill="#0b260b"/>
<rect x="49.41" y="460.18" width="8.77" height="6.37" fill="#741408"/>
<rect x="57.48" y="460.18" width="8.77" height="6.37" fill="#5d1006"/>
<rect x="65.54" y="460.18" width="8.77" height="6.37" fill="#2e0803"/>
<rect x="73.61" y="460.18" width="8.77" height="6.37" fill="#174c17"/>
<rect x="81.68" y="460.18" width="8.77" height="6.37" fill="#2e0803"/>
<rect x="89.75" y="460.18" width="8.77" height="6.37" fill="#000000"/>
<rect x="97.82" y="460.18" width="8.77" height="6.37" fill="#288528"/>
<rect x="105.89" y="460.18" width="8.77" height="6.37" fill="#a21c0a"/>
<rect x="113.96" y="460.18" width="8.77" height="6.37" fill="#000000"/>
<rect x="122.03" y="460.18" width="8.77" height="6.37" fill="#174c17"/>
<rect x="130.09" y="460.18" width="8.77" height="6.37" fill="#174c17"/>
<rect x="138.16" y="460.18" width="8.77" height="6.37" fill="#1c5f1c"/>
<rect x="146.23" y="460.18" width="8.07" height="6.37" fill="#1c5f1c"/>
<rect x="25.20" y="465.85" width="8.77" height="6.37" fill="#5d1006"/>
<rect x="33.27" y="465.85" width="8.77" height="6.37" fill="#a21c0a"/>
<rect x="41.34" y="465.85" width="8.77" height="6.37" fill="#113911"/>
<rect x="49.41" y="465.85" width="8.77" height="6.37" fill="#288528"/>
<rect x="57.48" y="465.85" width="8.77" height="6.37" fill="#d1240e"/>
<rect x="65.54" y="465.85" width="8.77" height="6.37" fill="#741408"/>
<rect x="73.61" y="465.85" width="8.77" height="6.37" fill="#288528"/>
<rect x="81.68" y="465.85" width="8.77" height="6.37" fill="#741408"/>
<rect x="89.75" y="465.85" width="8.77" height="6.37" fill="#a21c0a"/>
<rect x="97.82" y="465.85" width="8.77" height="6.37" fill="#061306"/>
<rect x="105.89" y="465.85" width="8.77" height="6.37" fill="#0b260b"/>
<rect x="113.96" y="465.85" width="8.77" height="6.37" fill="#2e982e"/>
<rect x="122.03" y="465.85" width="8.77" height="6.37" fill="#5d1006"/>
<rect x="130.09" y="465.85" width="8.77" height="6.37" fill="#174c17"/>
<rect x="138.16" y="465.85" width="8.77" height="6.37" fill="#a21c0a"/>
<rect x="146.23" y="465.85" width="8.07" height="6.37" fill="#174c17"/>
<rect x="25.20" y="471.52" width="8.77" height="6.37" fill="#000000"/>
<rect x="33.27" y="471.52" width="8.77" height="6.37" fill="#113911"/>
<rect x="41.34" y="471.52" width="8.77" height="6.37" fill="#5d1006"/>
<rect x="49.41" y="471.52" width="8.77" height="6.37" fill="#2e0803"/>
<rect x="57.48" y="471.52" width="8.77" height="6.37" fill="#8b1809"/>
<rect x="65.54" y="471.52" width="8.77" height="6.37" fill="#741408"/>
<rect x="73.61" y="471.52" width="8.77" height="6.37" fill="#460c04"/>
<rect x="81.68" y="471.52" width="8.77" height="6.37" fill="#a21c0a"/>
<rect x="89.75" y="471.52" width="8.77" height="6.37" fill="#000000"/>
<rect x="97.82" y="471.52" width="8.77" height="6.37" fill="#061306"/>
<rect x="105.89" y="471.52" width="8.77" height="6.37" fill="#2e0803"/>
<rect x="113.96" y="471.52" width="8.77" height="6.37" fill="#460c04"/>
<rect x="122.03" y="471.52" width="8.77" height="6.37" fill="#5d1006"/>
<rect x="130.09" y="471.52" width="8.77" height="6.37" fill="#174c17"/>
<rect x="138.16" y="471.52" width="8.77" height="6.37" fill="#5d1006"/>
<rect x="146.23" y="471.52" width="8.07" height="6.37" fill="#113911"/>
<rect x="25.20" y="477.20" width="8.77" height="6.37" fill="#000000"/>
<rect x="33.27" y="477.20" width="8.77" height="6.37" fill="#113911"/>
<rect x="41.34" y="477.20" width="8.77" height="6.37" fill="#5d1006"/>
<rect x="49.41" y="477.20" width="8.77" height="6.37" fill="#000000"/>
<rect x="57.48" y="477.20" width="8.77" height="6.37" fill="#2e982e"/>
<rect x="65.54" y="477.20" width="8.77" height="6.37" fill="#227222"/>
<rect x="73.61" y="477.20" width="8.77" height="6.37" fill="#000000"/>
<rect x="81.68" y="477.20" width="8.77" height="6.37" fill="#5d1006"/>
<rect x="89.75" y="477.20" width="8.77" height="6.37" fill="#113911"/>
<rect x="97.82" y="477.20" width="8.77" height="6.37" fill="#a21c0a"/>
<rect x="105.89" y="477.20" width="8.77" height="6.37" fill="#288528"/>
<rect x="113.96" y="477.20" width="8.77" height="6.37" fill="#000000"/>
<rect x="122.03" y="477.20" width="8.77" height="6.37" fill="#1c5f1c"/>
<rect x="130.09" y="477.20" width="8.77" height="6.37" fill="#174c17"/>
<rect x="138.16" y="477.20" width="8.77" height="6.37" fill="#1c5f1c"/>
<rect x="146.23" y="477.20" width="8.07" height="6.37" fill="#1c5f1c"/>
<rect x="25.20" y="482.88" width="8.77" height="6.37" fill="#741408"/>
<rect x="33.27" y="482.88" width="8.77" height="6.37" fill="#460c04"/>
<rect x="41.34" y="482.88" width="8.77" height="6.37" fill="#a21c0a"/>
<rect x="49.41" y="482.88" width="8.77" height="6.37" fill="#061306"/>
<rect x="57.48" y="482.88" width="8.77" height="6.37" fill="#1c5f1c"/>
<rect x="65.54" y="482.88" width="8.77" height="6.37" fill="#1c5f1c"/>
<rect x="73.61" y="482.88" width="8.77" height="6.37" fill="#5d1006"/>
<rect x="81.68" y="482.88" width="8.77" height="6.37" fill="#1c5f1c"/>
<rect x="89.75" y="482.88" width="8.77" height="6.37" fill="#741408"/>
<rect x="97.82" y="482.88" width="8.77" height="6.37" fill="#5d1006"/>
<rect x="105.89" y="482.88" width="8.77" height="6.37" fill="#227222"/>
<rect x="113.96" y="482.88" width="8.77" height="6.37" fill="#000000"/>
<rect x="122.03" y="482.88" width="8.77" height="6.37" fill="#227222"/>
<rect x="130.09" y="482.88" width="8.77" height="6.37" fill="#174c17"/>
<rect x="138.16" y="482.88" width="8.77" height="6.37" fill="#113911"/>
<rect x="146.23" y="482.88" width="8.07" height="6.37" fill="#1c5f1c"/>
<rect x="25.20" y="488.55" width="8.77" height="6.37" fill="#8b1809"/>
<rect x="33.27" y="488.55" width="8.77" height="6.37" fill="#8b1809"/>
<rect x="41.34" y="488.55" width="8.77" height="6.37" fill="#460c04"/>
<rect x="49.41" y="488.55" width="8.77" height="6.37" fill="#460c04"/>
<rect x="57.48" y="488.55" width="8.77" height="6.37" fill="#174c17"/>
<rect x="65.54" y="488.55" width="8.77" height="6.37" fill="#1c5f1c"/>
<rect x="73.61" y="488.55" width="8.77" height="6.37" fill="#8b1809"/>
<rect x="81.68" y="488.55" width="8.77" height="6.37" fill="#2e982e"/>
<rect x="89.75" y="488.55" width="8.77" height="6.37" fill="#113911"/>
<rect x="97.82" y="488.55" width="8.77" height="6.37" fill="#a21c0a"/>
<rect x="105.89" y="488.55" width="8.77" height="6.37" fill="#227222"/>
<rect x="113.96" y="488.55" width="8.77" height="6.37" fill="#000000"/>
<rect x="122.03" y="488.55" width="8.77" height="6.37" fill="#174c17"/>
<rect x="130.09" y="488.55" width="8.77" height="6.37" fill="#113911"/>
<rect x="138.16" y="488.55" width="8.77" height="6.37" fill="#174c17"/>
<rect x="146.23" y="488.55" width="8.07" height="6.37" fill="#460c04"/>
<rect x="25.20" y="494.22" width="8.77" height="6.37" fill="#1c5f1c"/>
<rect x="33.27" y="494.22" width="8.77" height="6.37" fill="#227222"/>
<rect x="41.34" y="494.22" width="8.77" height="6.37" fill="#000000"/>
<rect x="49.41" y="494.22" width="8.77" height="6.37" fill="#460c04"/>
<rect x="57.48" y="494.22" width="8.77" height="6.37" fill="#288528"/>
<rect x="65.54" y="494.22" width="8.77" height="6.37" fill="#741408"/>
<rect x="73.61" y="494.22" width="8.77" height="6.37" fill="#000000"/>
<rect x="81.68" y="494.22" width="8.77" height="6.37" fill="#174c17"/>
<rect x="89.75" y="494.22" width="8.77" height="6.37" fill="#1c5f1c"/>
<rect x="97.82" y="494.22" width="8.77" height="6.37" fill="#174c17"/>
<rect x="105.89" y="494.22" width="8.77" height="6.37" fill="#170402"/>
<rect x="113.96" y="494.22" width="8.77" height="6.37" fill="#2e0803"/>
<rect x="122.03" y="494.22" width="8.77" height="6.37" fill="#460c04"/>
<rect x="130.09" y="494.22" width="8.77" height="6.37" fill="#174c17"/>
<rect x="138.16" y="494.22" width="8.77" height="6.37" fill="#460c04"/>
<rect x="146.23" y="494.22" width="8.07" height="6.37" fill="#460c04"/>
<rect x="25.20" y="499.90" width="8.77" height="6.37" fill="#1c5f1c"/>
<rect x="33.27" y="499.90" width="8.77" height="6.37" fill="#113911"/>
<rect x="41.34" y="499.90" width="8.77" height="6.37" fill="#288528"/>
<rect x="49.41" y="499.90" width="8.77" height="6.37" fill="#288528"/>
<rect x="57.48" y="499.90" width="8.77" height="6.37" fill="#000000"/>
<rect x="65.54" y="499.90" width="8.77" height="6.37" fill="#8b1809"/>
<rect x="73.61" y="499.90" width="8.77" height="6.37" fill="#741408"/>
<rect x="81.68" y="499.90" width="8.77" height="6.37" fill="#000000"/>
<rect x="89.75" y="499.90" width="8.77" height="6.37" fill="#741408"/>
<rect x="97.82" y="499.90" width="8.77" height="6.37" fill="#1c5f1c"/>
<rect x="105.89" y="499.90" width="8.77" height="6.37" fill="#1c5f1c"/>
<rect x="113.96" y="499.90" width="8.77" height="6.37" fill="#460c04"/>
<rect x="122.03" y="499.90" width="8.77" height="6.37" fill="#2e0803"/>
<rect x="130.09" y="499.90" width="8.77" height="6.37" fill="#174c17"/>
<rect x="138.16" y="499.90" width="8.77" height="6.37" fill="#113911"/>
<rect x="146.23" y="499.90" width="8.07" height="6.37" fill="#5d1006"/>
<rect x="25.20" y="505.57" width="8.77" height="6.37" fill="#2e0803"/>
<rect x="33.27" y="505.57" width="8.77" height="6.37" fill="#2e0803"/>
<rect x="41.34" y="505.57" width="8.77" height="6.37" fill="#2e0803"/>
<rect x="49.41" y="505.57" width="8.77" height="6.37" fill="#2e0803"/>
<rect x="57.48" y="505.57" width="8.77" height="6.37" fill="#061306"/>
<rect x="65.54" y="505.57" width="8.77" height="6.37" fill="#2e982e"/>
<rect x="73.61" y="505.57" width="8.77" height="6.37" fill="#061306"/>
<rect x="81.68" y="505.57" width="8.77" height="6.37" fill="#741408"/>
<rect x="89.75" y="505.57" width="8.77" height="6.37" fill="#a21c0a"/>
<rect x="97.82" y="505.57" width="8.77" height="6.37" fill="#460c04"/>
<rect x="105.89" y="505.57" width="8.77" height="6.37" fill="#000000"/>
<rect x="113.96" y="505.57" width="8.77" height="6.37" fill="#113911"/>
<rect x="122.03" y="505.57" width="8.77" height="6.37" fill="#174c17"/>
<rect x="130.09" y="505.57" width="8.77" height="6.37" fill="#e8280f"/>
<rect x="138.16" y="505.57" width="8.77" height="6.37" fill="#174c17"/>
<rect x="146.23" y="505.57" width="8.07" height="6.37" fill="#2e0803"/>
<rect x="25.20" y="511.25" width="8.77" height="6.37" fill="#227222"/>
<rect x="33.27" y="511.25" width="8.77" height="6.37" fill="#227222"/>
<rect x="41.34" y="511.25" width="8.77" height="6.37" fill="#1c5f1c"/>
<rect x="49.41" y="511.25" width="8.77" height="6.37" fill="#288528"/>
<rect x="57.48" y="511.25" width="8.77" height="6.37" fill="#061306"/>
<rect x="65.54" y="511.25" width="8.77" height="6.37" fill="#000000"/>
<rect x="73.61" y="511.25" width="8.77" height="6.37" fill="#288528"/>
<rect x="81.68" y="511.25" width="8.77" height="6.37" fill="#5d1006"/>
<rect x="89.75" y="511.25" width="8.77" height="6.37" fill="#113911"/>
<rect x="97.82" y="511.25" width="8.77" height="6.37" fill="#8b1809"/>
<rect x="105.89" y="511.25" width="8.77" height="6.37" fill="#000000"/>
<rect x="113.96" y="511.25" width="8.77" height="6.37" fill="#227222"/>
<rect x="122.03" y="511.25" width="8.77" height="6.37" fill="#8b1809"/>
<rect x="130.09" y="511.25" width="8.77" height="6.37" fill="#2e0803"/>
<rect x="138.16" y="511.25" width="8.77" height="6.37" fill="#8b1809"/>
<rect x="146.23" y="511.25" width="8.07" height="6.37" fill="#000000"/>
<rect x="25.20" y="516.92" width="8.77" height="6.37" fill="#227222"/>
<rect x="33.27" y="516.92" width="8.77" height="6.37" fill="#227222"/>
<rect x="41.34" y="516.92" width="8.77" height="6.37" fill="#227222"/>
<rect x="49.41" y="516.92" width="8.77" height="6.37" fill="#741408"/>
<rect x="57.48" y="516.92" width="8.77" height="6.37" fill="#061306"/>
<rect x="65.54" y="516.92" width="8.77" height="6.37" fill="#174c17"/>
<rect x="73.61" y="516.92" width="8.77" height="6.37" fill="#0b260b"/>
<rect x="81.68" y="516.92" width="8.77" height="6.37" fill="#741408"/>
<rect x="89.75" y="516.92" width="8.77" height="6.37" fill="#227222"/>
<rect x="97.82" y="516.92" width="8.77" height="6.37" fill="#460c04"/>
<rect x="105.89" y="516.92" width="8.77" height="6.37" fill="#741408"/>
<rect x="113.96" y="516.92" width="8.77" height="6.37" fill="#a21c0a"/>
<rect x="122.03" y="516.92" width="8.77" height="6.37" fill="#000000"/>
<rect x="130.09" y="516.92" width="8.77" height="6.37" fill="#113911"/>
<rect x="138.16" y="516.92" width="8.77" height="6.37" fill="#2e0803"/>
<rect x="146.23" y="516.92" width="8.07" height="6.37" fill="#0b260b"/>
<rect x="25.20" y="522.60" width="8.77" height="6.37" fill="#1c5f1c"/>
<rect x="33.27" y="522.60" width="8.77" height="6.37" fill="#1c5f1c"/>
<rect x="41.34" y="522.60" width="8.77" height="6.37" fill="#113911"/>
<rect x="49.41" y="522.60" width="8.77" height="6.37" fill="#000000"/>
<rect x="57.48" y="522.60" width="8.77" height="6.37" fill="#1c5f1c"/>
<rect x="65.54" y="522.60" width="8.77" height="6.37" fill="#1c5f1c"/>
<rect x="73.61" y="522.60" width="8.77" height="6.37" fill="#170402"/>
<rect x="81.68" y="522.60" width="8.77" height="6.37" fill="#174c17"/>
<rect x="89.75" y="522.60" width="8.77" height="6.37" fill="#000000"/>
<rect x="97.82" y="522.60" width="8.77" height="6.37" fill="#227222"/>
<rect x="105.89" y="522.60" width="8.77" height="6.37" fill="#741408"/>
<rect x="113.96" y="522.60" width="8.77" height="6.37" fill="#741408"/>
<rect x="122.03" y="522.60" width="8.77" height="6.37" fill="#741408"/>
<rect x="130.09" y="522.60" width="8.77" height="6.37" fill="#8b1809"/>
<rect x="138.16" y="522.60" width="8.77" height="6.37" fill="#741408"/>
<rect x="146.23" y="522.60" width="8.07" height="6.37" fill="#8b1809"/>
<rect x="25.20" y="528.27" width="8.77" height="6.37" fill="#0b260b"/>
<rect x="33.27" y="528.27" width="8.77" height="6.37" fill="#2e0803"/>
<rect x="41.34" y="528.27" width="8.77" height="6.37" fill="#288528"/>
<rect x="49.41" y="528.27" width="8.77" height="6.37" fill="#288528"/>
<rect x="57.48" y="528.27" width="8.77" height="6.37" fill="#8b1809"/>
<rect x="65.54" y="528.27" width="8.77" height="6.37" fill="#170402"/>
<rect x="73.61" y="528.27" width="8.77" height="6.37" fill="#33ab33"/>
<rect x="81.68" y="528.27" width="8.77" height="6.37" fill="#2e0803"/>
<rect x="89.75" y="528.27" width="8.77" height="6.37" fill="#8b1809"/>
<rect x="97.82" y="528.27" width="8.77" height="6.37" fill="#5d1006"/>
<rect x="105.89" y="528.27" width="8.77" height="6.37" fill="#5d1006"/>
<rect x="113.96" y="528.27" width="8.77" height="6.37" fill="#288528"/>
<rect x="122.03" y="528.27" width="8.77" height="6.37" fill="#741408"/>
<rect x="130.09" y="528.27" width="8.77" height="6.37" fill="#741408"/>
<rect x="138.16" y="528.27" width="8.77" height="6.37" fill="#d1240e"/>
<rect x="146.23" y="528.27" width="8.07" height="6.37" fill="#d1240e"/>
<rect x="25.20" y="533.95" width="8.77" height="6.37" fill="#1c5f1c"/>
<rect x="33.27" y="533.95" width="8.77" height="6.37" fill="#227222"/>
<rect x="41.34" y="533.95" width="8.77" height="6.37" fill="#061306"/>
<rect x="49.41" y="533.95" width="8.77" height="6.37" fill="#000000"/>
<rect x="57.48" y="533.95" width="8.77" height="6.37" fill="#061306"/>
<rect x="65.54" y="533.95" width="8.77" height="6.37" fill="#170402"/>
<rect x="73.61" y="533.95" width="8.77" height="6.37" fill="#741408"/>
<rect x="81.68" y="533.95" width="8.77" height="6.37" fill="#1c5f1c"/>
<rect x="89.75" y="533.95" width="8.77" height="6.37" fill="#227222"/>
<rect x="97.82" y="533.95" width="8.77" height="6.37" fill="#741408"/>
<rect x="105.89" y="533.95" width="8.77" height="6.37" fill="#174c17"/>
<rect x="113.96" y="533.95" width="8.77" height="6.37" fill="#c3220d"/>
<rect x="122.03" y="533.95" width="8.77" height="6.37" fill="#741408"/>
<rect x="130.09" y="533.95" width="8.77" height="6.37" fill="#8b1809"/>
<rect x="138.16" y="533.95" width="8.77" height="6.37" fill="#000000"/>
<rect x="146.23" y="533.95" width="8.07" height="6.37" fill="#2e0803"/>
<rect x="25.20" y="539.62" width="8.77" height="5.67" fill="#1c5f1c"/>
<rect x="33.27" y="539.62" width="8.77" height="5.67" fill="#1c5f1c"/>
<rect x="41.34" y="539.62" width="8.77" height="5.67" fill="#113911"/>
<rect x="49.41" y="539.62" width="8.77" height="5.67" fill="#0b260b"/>
<rect x="57.48" y="539.62" width="8.77" height="5.67" fill="#174c17"/>
<rect x="65.54" y="539.62" width="8.77" height="5.67" fill="#000000"/>
<rect x="73.61" y="539.62" width="8.77" height="5.67" fill="#5d1006"/>
<rect x="81.68" y="539.62" width="8.77" height="5.67" fill="#113911"/>
<rect x="89.75" y="539.62" width="8.77" height="5.67" fill="#8b1809"/>
<rect x="97.82" y="539.62" width="8.77" height="5.67" fill="#227222"/>
<rect x="105.89" y="539.62" width="8.77" height="5.67" fill="#a21c0a"/>
<rect x="113.96" y="539.62" width="8.77" height="5.67" fill="#741408"/>
<rect x="122.03" y="539.62" width="8.77" height="5.67" fill="#741408"/>
<rect x="130.09" y="539.62" width="8.77" height="5.67" fill="#8b1809"/>
<rect x="138.16" y="539.62" width="8.77" height="5.67" fill="#741408"/>
<rect x="146.23" y="539.62" width="8.07" height="5.67" fill="#741408"/>
<rect x="25.20" y="431.80" width="129.10" height="113.50" fill="none" stroke="#1a1a1a" stroke-width="0.5"/>
<text x="30.13" y="429.90" font-size="4.5" font-weight="bold" fill="#000" transform="rotate(-45 30.13 429.90)" stroke="#000" stroke-width="0.1">CD3+/CD11b+ ratio</text>
<text x="38.20" y="429.90" font-size="4.5" font-weight="bold" fill="#000" transform="rotate(-45 38.20 429.90)" stroke="#000" stroke-width="0.1">CD8+/CD11b+ ratio</text>
<text x="46.27" y="429.90" font-size="4.5" font-weight="bold" fill="#000" transform="rotate(-45 46.27 429.90)" stroke="#000" stroke-width="0.1">CD4+/CD11b+ ratio</text>
<text x="54.34" y="429.90" font-size="4.5" font-weight="bold" fill="#000" transform="rotate(-45 54.34 429.90)" stroke="#000" stroke-width="0.1">CD4+ (%CD45+)</text>
<text x="62.41" y="429.90" font-size="4.5" font-weight="bold" fill="#000" transform="rotate(-45 62.41 429.90)" stroke="#000" stroke-width="0.1">IFNγ+ (%CD8+)</text>
<text x="70.48" y="429.90" font-size="4.5" font-weight="bold" fill="#000" transform="rotate(-45 70.48 429.90)" stroke="#000" stroke-width="0.1">PD-L1+ (%CD11b+)</text>
<text x="78.55" y="429.90" font-size="4.5" font-weight="bold" fill="#000" transform="rotate(-45 78.55 429.90)" stroke="#000" stroke-width="0.1">CD8+ (%CD45+)</text>
<text x="86.62" y="429.90" font-size="4.5" font-weight="bold" fill="#000" transform="rotate(-45 86.62 429.90)" stroke="#000" stroke-width="0.1">IFNγ level (CD8+)</text>
<text x="94.68" y="429.90" font-size="4.5" font-weight="bold" fill="#000" transform="rotate(-45 94.68 429.90)" stroke="#000" stroke-width="0.1">PD-1 level (CD8+)</text>
<text x="102.75" y="429.90" font-size="4.5" font-weight="bold" fill="#000" transform="rotate(-45 102.75 429.90)" stroke="#000" stroke-width="0.1">PD-1+ (%CD8+)</text>
<text x="110.82" y="429.90" font-size="4.5" font-weight="bold" fill="#000" transform="rotate(-45 110.82 429.90)" stroke="#000" stroke-width="0.1">M-MDSC (%CD45+)</text>
<text x="118.89" y="429.90" font-size="4.5" font-weight="bold" fill="#000" transform="rotate(-45 118.89 429.90)" stroke="#000" stroke-width="0.1">CD11b+ (%CD45+)</text>
<text x="126.96" y="429.90" font-size="4.5" font-weight="bold" fill="#000" transform="rotate(-45 126.96 429.90)" stroke="#000" stroke-width="0.1">PD-L1 level (CD11b+)</text>
<text x="135.03" y="429.90" font-size="4.5" font-weight="bold" fill="#000" transform="rotate(-45 135.03 429.90)" stroke="#000" stroke-width="0.1">PMN-MDSC (%CD45+)</text>
<text x="143.10" y="429.90" font-size="4.5" font-weight="bold" fill="#000" transform="rotate(-45 143.10 429.90)" stroke="#000" stroke-width="0.1">M2 (%CD45+)</text>
<text x="151.17" y="429.90" font-size="4.5" font-weight="bold" fill="#000" transform="rotate(-45 151.17 429.90)" stroke="#000" stroke-width="0.1">Treg (%CD4+)</text>
<text x="22.90" y="436.47" font-size="5.1" font-weight="bold" text-anchor="end" fill="#000" stroke="#000" stroke-width="0.143">4.75</text>
<text x="22.90" y="447.82" font-size="5.1" font-weight="bold" text-anchor="end" fill="#000" stroke="#000" stroke-width="0.143">8</text>
<text x="22.90" y="459.17" font-size="5.1" font-weight="bold" text-anchor="end" fill="#000" stroke="#000" stroke-width="0.143">9</text>
<text x="22.90" y="470.52" font-size="5.1" font-weight="bold" text-anchor="end" fill="#000" stroke="#000" stroke-width="0.143">10</text>
<text x="22.90" y="481.87" font-size="5.1" font-weight="bold" text-anchor="end" fill="#000" stroke="#000" stroke-width="0.143">10.5</text>
<text x="22.90" y="493.22" font-size="5.1" font-weight="bold" text-anchor="end" fill="#000" stroke="#000" stroke-width="0.143">11.5</text>
<text x="22.90" y="504.57" font-size="5.1" font-weight="bold" text-anchor="end" fill="#000" stroke="#000" stroke-width="0.143">14.5</text>
<text x="22.90" y="515.92" font-size="5.1" font-weight="bold" text-anchor="end" fill="#000" stroke="#000" stroke-width="0.143">15</text>
<text x="22.90" y="527.27" font-size="5.1" font-weight="bold" text-anchor="end" fill="#000" stroke="#000" stroke-width="0.143">17</text>
<text x="22.90" y="538.62" font-size="5.1" font-weight="bold" text-anchor="end" fill="#000" stroke="#000" stroke-width="0.143">18.25</text>
<defs><linearGradient id="g2214" x1="0" y1="0" x2="0" y2="1"><stop offset="0" stop-color="#f52a10"/><stop offset="0.519" stop-color="#000"/><stop offset="1" stop-color="#3ecf3e"/></linearGradient></defs>
<rect x="160.70" y="431.80" width="7.60" height="113.80" fill="url(#g2214)" stroke="#222" stroke-width="0.5"/>
<line x1="168.30" y1="443.60" x2="169.20" y2="443.60" stroke="#444" stroke-width="0.4"/>
<text x="170.70" y="446.20" font-size="4.5" fill="#222" stroke="#222" stroke-width="0.126">2</text>
<line x1="168.30" y1="467.30" x2="169.20" y2="467.30" stroke="#444" stroke-width="0.4"/>
<text x="170.70" y="469.90" font-size="4.5" fill="#222" stroke="#222" stroke-width="0.126">1</text>
<line x1="168.30" y1="490.90" x2="169.20" y2="490.90" stroke="#444" stroke-width="0.4"/>
<text x="170.70" y="493.50" font-size="4.5" fill="#222" stroke="#222" stroke-width="0.126">0</text>
<line x1="168.30" y1="514.10" x2="169.20" y2="514.10" stroke="#444" stroke-width="0.4"/>
<text x="170.70" y="516.70" font-size="4.5" fill="#222" stroke="#222" stroke-width="0.126">-1</text>
<line x1="168.30" y1="537.30" x2="169.20" y2="537.30" stroke="#444" stroke-width="0.4"/>
<text x="170.70" y="539.90" font-size="4.5" fill="#222" stroke="#222" stroke-width="0.126">-2</text>
<text x="9.60" y="484.60" font-size="6.8" font-weight="bold" text-anchor="middle" fill="#000" transform="rotate(-90 9.60 484.60)" textLength="73.4" lengthAdjust="spacingAndGlyphs" stroke="#000" stroke-width="0.190">tumor size [mm diameter]</text>
<rect x="224.60" y="430.60" width="8.74" height="14.95" fill="#ba200c"/>
<rect x="232.64" y="430.60" width="8.74" height="14.95" fill="#460c04"/>
<rect x="240.69" y="430.60" width="8.74" height="14.95" fill="#460c04"/>
<rect x="248.73" y="430.60" width="8.74" height="14.95" fill="#8b1809"/>
<rect x="256.77" y="430.60" width="8.74" height="14.95" fill="#a21c0a"/>
<rect x="264.82" y="430.60" width="8.74" height="14.95" fill="#5d1006"/>
<rect x="272.86" y="430.60" width="8.74" height="14.95" fill="#227222"/>
<rect x="280.91" y="430.60" width="8.74" height="14.95" fill="#061306"/>
<rect x="288.95" y="430.60" width="8.74" height="14.95" fill="#1c5f1c"/>
<rect x="296.99" y="430.60" width="8.74" height="14.95" fill="#113911"/>
<rect x="305.04" y="430.60" width="8.74" height="14.95" fill="#0b260b"/>
<rect x="313.08" y="430.60" width="8.74" height="14.95" fill="#1c5f1c"/>
<rect x="321.12" y="430.60" width="8.74" height="14.95" fill="#2e982e"/>
<rect x="329.17" y="430.60" width="8.74" height="14.95" fill="#113911"/>
<rect x="337.21" y="430.60" width="8.74" height="14.95" fill="#227222"/>
<rect x="345.26" y="430.60" width="8.04" height="14.95" fill="#2e982e"/>
<rect x="224.60" y="444.85" width="8.74" height="14.95" fill="#170402"/>
<rect x="232.64" y="444.85" width="8.74" height="14.95" fill="#d1240e"/>
<rect x="240.69" y="444.85" width="8.74" height="14.95" fill="#d1240e"/>
<rect x="248.73" y="444.85" width="8.74" height="14.95" fill="#ba200c"/>
<rect x="256.77" y="444.85" width="8.74" height="14.95" fill="#741408"/>
<rect x="264.82" y="444.85" width="8.74" height="14.95" fill="#174c17"/>
<rect x="272.86" y="444.85" width="8.74" height="14.95" fill="#ba200c"/>
<rect x="280.91" y="444.85" width="8.74" height="14.95" fill="#33ab33"/>
<rect x="288.95" y="444.85" width="8.74" height="14.95" fill="#ba200c"/>
<rect x="296.99" y="444.85" width="8.74" height="14.95" fill="#1c5f1c"/>
<rect x="305.04" y="444.85" width="8.74" height="14.95" fill="#2e0803"/>
<rect x="313.08" y="444.85" width="8.74" height="14.95" fill="#741408"/>
<rect x="321.12" y="444.85" width="8.74" height="14.95" fill="#741408"/>
<rect x="329.17" y="444.85" width="8.74" height="14.95" fill="#2e982e"/>
<rect x="337.21" y="444.85" width="8.74" height="14.95" fill="#288528"/>
<rect x="345.26" y="444.85" width="8.04" height="14.95" fill="#113911"/>
<rect x="224.60" y="459.10" width="8.74" height="14.95" fill="#a21c0a"/>
<rect x="232.64" y="459.10" width="8.74" height="14.95" fill="#5d1006"/>
<rect x="240.69" y="459.10" width="8.74" height="14.95" fill="#5d1006"/>
<rect x="248.73" y="459.10" width="8.74" height="14.95" fill="#8b1809"/>
<rect x="256.77" y="459.10" width="8.74" height="14.95" fill="#8b1809"/>
<rect x="264.82" y="459.10" width="8.74" height="14.95" fill="#5d1006"/>
<rect x="272.86" y="459.10" width="8.74" height="14.95" fill="#174c17"/>
<rect x="280.91" y="459.10" width="8.74" height="14.95" fill="#8b1809"/>
<rect x="288.95" y="459.10" width="8.74" height="14.95" fill="#741408"/>
<rect x="296.99" y="459.10" width="8.74" height="14.95" fill="#741408"/>
<rect x="305.04" y="459.10" width="8.74" height="14.95" fill="#1c5f1c"/>
<rect x="313.08" y="459.10" width="8.74" height="14.95" fill="#113911"/>
<rect x="321.12" y="459.10" width="8.74" height="14.95" fill="#8b1809"/>
<rect x="329.17" y="459.10" width="8.74" height="14.95" fill="#5d1006"/>
<rect x="337.21" y="459.10" width="8.74" height="14.95" fill="#1c5f1c"/>
<rect x="345.26" y="459.10" width="8.04" height="14.95" fill="#174c17"/>
<rect x="224.60" y="473.35" width="8.74" height="14.95" fill="#2e0803"/>
<rect x="232.64" y="473.35" width="8.74" height="14.95" fill="#2e0803"/>
<rect x="240.69" y="473.35" width="8.74" height="14.95" fill="#460c04"/>
<rect x="248.73" y="473.35" width="8.74" height="14.95" fill="#000000"/>
<rect x="256.77" y="473.35" width="8.74" height="14.95" fill="#174c17"/>
<rect x="264.82" y="473.35" width="8.74" height="14.95" fill="#113911"/>
<rect x="272.86" y="473.35" width="8.74" height="14.95" fill="#000000"/>
<rect x="280.91" y="473.35" width="8.74" height="14.95" fill="#ba200c"/>
<rect x="288.95" y="473.35" width="8.74" height="14.95" fill="#227222"/>
<rect x="296.99" y="473.35" width="8.74" height="14.95" fill="#227222"/>
<rect x="305.04" y="473.35" width="8.74" height="14.95" fill="#174c17"/>
<rect x="313.08" y="473.35" width="8.74" height="14.95" fill="#ba200c"/>
<rect x="321.12" y="473.35" width="8.74" height="14.95" fill="#227222"/>
<rect x="329.17" y="473.35" width="8.74" height="14.95" fill="#000000"/>
<rect x="337.21" y="473.35" width="8.74" height="14.95" fill="#a21c0a"/>
<rect x="345.26" y="473.35" width="8.04" height="14.95" fill="#170402"/>
<rect x="224.60" y="487.60" width="8.74" height="14.95" fill="#174c17"/>
<rect x="232.64" y="487.60" width="8.74" height="14.95" fill="#000000"/>
<rect x="240.69" y="487.60" width="8.74" height="14.95" fill="#170402"/>
<rect x="248.73" y="487.60" width="8.74" height="14.95" fill="#000000"/>
<rect x="256.77" y="487.60" width="8.74" height="14.95" fill="#2e0803"/>
<rect x="264.82" y="487.60" width="8.74" height="14.95" fill="#000000"/>
<rect x="272.86" y="487.60" width="8.74" height="14.95" fill="#a21c0a"/>
<rect x="280.91" y="487.60" width="8.74" height="14.95" fill="#061306"/>
<rect x="288.95" y="487.60" width="8.74" height="14.95" fill="#113911"/>
<rect x="296.99" y="487.60" width="8.74" height="14.95" fill="#e8280f"/>
<rect x="305.04" y="487.60" width="8.74" height="14.95" fill="#e8280f"/>
<rect x="313.08" y="487.60" width="8.74" height="14.95" fill="#39be39"/>
<rect x="321.12" y="487.60" width="8.74" height="14.95" fill="#5d1006"/>
<rect x="329.17" y="487.60" width="8.74" height="14.95" fill="#a21c0a"/>
<rect x="337.21" y="487.60" width="8.74" height="14.95" fill="#000000"/>
<rect x="345.26" y="487.60" width="8.04" height="14.95" fill="#2e0803"/>
<rect x="224.60" y="501.85" width="8.74" height="14.95" fill="#0b260b"/>
<rect x="232.64" y="501.85" width="8.74" height="14.95" fill="#1c5f1c"/>
<rect x="240.69" y="501.85" width="8.74" height="14.95" fill="#174c17"/>
<rect x="248.73" y="501.85" width="8.74" height="14.95" fill="#1c5f1c"/>
<rect x="256.77" y="501.85" width="8.74" height="14.95" fill="#1c5f1c"/>
<rect x="264.82" y="501.85" width="8.74" height="14.95" fill="#460c04"/>
<rect x="272.86" y="501.85" width="8.74" height="14.95" fill="#113911"/>
<rect x="280.91" y="501.85" width="8.74" height="14.95" fill="#227222"/>
<rect x="288.95" y="501.85" width="8.74" height="14.95" fill="#1c5f1c"/>
<rect x="296.99" y="501.85" width="8.74" height="14.95" fill="#113911"/>
<rect x="305.04" y="501.85" width="8.74" height="14.95" fill="#174c17"/>
<rect x="313.08" y="501.85" width="8.74" height="14.95" fill="#170402"/>
<rect x="321.12" y="501.85" width="8.74" height="14.95" fill="#460c04"/>
<rect x="329.17" y="501.85" width="8.74" height="14.95" fill="#1c5f1c"/>
<rect x="337.21" y="501.85" width="8.74" height="14.95" fill="#741408"/>
<rect x="345.26" y="501.85" width="8.04" height="14.95" fill="#8b1809"/>
<rect x="224.60" y="516.10" width="8.74" height="14.95" fill="#288528"/>
<rect x="232.64" y="516.10" width="8.74" height="14.95" fill="#1c5f1c"/>
<rect x="240.69" y="516.10" width="8.74" height="14.95" fill="#174c17"/>
<rect x="248.73" y="516.10" width="8.74" height="14.95" fill="#288528"/>
<rect x="256.77" y="516.10" width="8.74" height="14.95" fill="#288528"/>
<rect x="264.82" y="516.10" width="8.74" height="14.95" fill="#33ab33"/>
<rect x="272.86" y="516.10" width="8.74" height="14.95" fill="#5d1006"/>
<rect x="280.91" y="516.10" width="8.74" height="14.95" fill="#5d1006"/>
<rect x="288.95" y="516.10" width="8.74" height="14.95" fill="#a21c0a"/>
<rect x="296.99" y="516.10" width="8.74" height="14.95" fill="#061306"/>
<rect x="305.04" y="516.10" width="8.74" height="14.95" fill="#000000"/>
<rect x="313.08" y="516.10" width="8.74" height="14.95" fill="#460c04"/>
<rect x="321.12" y="516.10" width="8.74" height="14.95" fill="#1c5f1c"/>
<rect x="329.17" y="516.10" width="8.74" height="14.95" fill="#741408"/>
<rect x="337.21" y="516.10" width="8.74" height="14.95" fill="#5d1006"/>
<rect x="345.26" y="516.10" width="8.04" height="14.95" fill="#061306"/>
<rect x="224.60" y="530.35" width="8.74" height="14.25" fill="#174c17"/>
<rect x="232.64" y="530.35" width="8.74" height="14.25" fill="#288528"/>
<rect x="240.69" y="530.35" width="8.74" height="14.25" fill="#288528"/>
<rect x="248.73" y="530.35" width="8.74" height="14.25" fill="#113911"/>
<rect x="256.77" y="530.35" width="8.74" height="14.25" fill="#061306"/>
<rect x="264.82" y="530.35" width="8.74" height="14.25" fill="#8b1809"/>
<rect x="272.86" y="530.35" width="8.74" height="14.25" fill="#1c5f1c"/>
<rect x="280.91" y="530.35" width="8.74" height="14.25" fill="#061306"/>
<rect x="288.95" y="530.35" width="8.74" height="14.25" fill="#113911"/>
<rect x="296.99" y="530.35" width="8.74" height="14.25" fill="#0b260b"/>
<rect x="305.04" y="530.35" width="8.74" height="14.25" fill="#000000"/>
<rect x="313.08" y="530.35" width="8.74" height="14.25" fill="#170402"/>
<rect x="321.12" y="530.35" width="8.74" height="14.25" fill="#460c04"/>
<rect x="329.17" y="530.35" width="8.74" height="14.25" fill="#0b260b"/>
<rect x="337.21" y="530.35" width="8.74" height="14.25" fill="#741408"/>
<rect x="345.26" y="530.35" width="8.04" height="14.25" fill="#ba200c"/>
<rect x="224.60" y="430.60" width="128.70" height="114.00" fill="none" stroke="#1a1a1a" stroke-width="0.5"/>
<text x="229.52" y="428.70" font-size="4.6" font-weight="bold" fill="#000" transform="rotate(-45 229.52 428.70)" stroke="#000" stroke-width="0.1">CD8+ (%CD45+)</text>
<text x="237.57" y="428.70" font-size="4.6" font-weight="bold" fill="#000" transform="rotate(-45 237.57 428.70)" stroke="#000" stroke-width="0.1">CD3+/CD11b+ ratio</text>
<text x="245.61" y="428.70" font-size="4.6" font-weight="bold" fill="#000" transform="rotate(-45 245.61 428.70)" stroke="#000" stroke-width="0.1">CD4+/CD11b+ ratio</text>
<text x="253.65" y="428.70" font-size="4.6" font-weight="bold" fill="#000" transform="rotate(-45 253.65 428.70)" stroke="#000" stroke-width="0.1">CD8+/CD11b+ ratio</text>
<text x="261.70" y="428.70" font-size="4.6" font-weight="bold" fill="#000" transform="rotate(-45 261.70 428.70)" stroke="#000" stroke-width="0.1">CD4+ (%CD45+)</text>
<text x="269.74" y="428.70" font-size="4.6" font-weight="bold" fill="#000" transform="rotate(-45 269.74 428.70)" stroke="#000" stroke-width="0.1">CD11b+ (%CD45+)</text>
<text x="277.78" y="428.70" font-size="4.6" font-weight="bold" fill="#000" transform="rotate(-45 277.78 428.70)" stroke="#000" stroke-width="0.1">IFNγ+ (%CD8+)</text>
<text x="285.83" y="428.70" font-size="4.6" font-weight="bold" fill="#000" transform="rotate(-45 285.83 428.70)" stroke="#000" stroke-width="0.1">PD-1 level (CD8+)</text>
<text x="293.87" y="428.70" font-size="4.6" font-weight="bold" fill="#000" transform="rotate(-45 293.87 428.70)" stroke="#000" stroke-width="0.1">IFNγ level (CD8+)</text>
<text x="301.92" y="428.70" font-size="4.6" font-weight="bold" fill="#000" transform="rotate(-45 301.92 428.70)" stroke="#000" stroke-width="0.1">PD-L1 level (CD11b+)</text>
<text x="309.96" y="428.70" font-size="4.6" font-weight="bold" fill="#000" transform="rotate(-45 309.96 428.70)" stroke="#000" stroke-width="0.1">PMN-MDSC (%CD45+)</text>
<text x="318.00" y="428.70" font-size="4.6" font-weight="bold" fill="#000" transform="rotate(-45 318.00 428.70)" stroke="#000" stroke-width="0.1">PD-1+ (%CD8+)</text>
<text x="326.05" y="428.70" font-size="4.6" font-weight="bold" fill="#000" transform="rotate(-45 326.05 428.70)" stroke="#000" stroke-width="0.1">M-MDSC (%CD45+)</text>
<text x="334.09" y="428.70" font-size="4.6" font-weight="bold" fill="#000" transform="rotate(-45 334.09 428.70)" stroke="#000" stroke-width="0.1">PD-L1+ (%CD11b+)</text>
<text x="342.13" y="428.70" font-size="4.6" font-weight="bold" fill="#000" transform="rotate(-45 342.13 428.70)" stroke="#000" stroke-width="0.1">Treg (%CD4+)</text>
<text x="350.18" y="428.70" font-size="4.6" font-weight="bold" fill="#000" transform="rotate(-45 350.18 428.70)" stroke="#000" stroke-width="0.1">M2 (%CD45+)</text>
<text x="221.60" y="439.42" font-size="4.7" font-weight="bold" text-anchor="end" fill="#000" stroke="#000" stroke-width="0.132">3</text>
<text x="221.60" y="453.67" font-size="4.7" font-weight="bold" text-anchor="end" fill="#000" stroke="#000" stroke-width="0.132">4</text>
<text x="221.60" y="467.92" font-size="4.7" font-weight="bold" text-anchor="end" fill="#000" stroke="#000" stroke-width="0.132">5</text>
<text x="221.60" y="482.17" font-size="4.7" font-weight="bold" text-anchor="end" fill="#000" stroke="#000" stroke-width="0.132">5</text>
<text x="221.60" y="496.42" font-size="4.7" font-weight="bold" text-anchor="end" fill="#000" stroke="#000" stroke-width="0.132">6</text>
<text x="221.60" y="510.67" font-size="4.7" font-weight="bold" text-anchor="end" fill="#000" stroke="#000" stroke-width="0.132">6</text>
<text x="221.60" y="524.92" font-size="4.7" font-weight="bold" text-anchor="end" fill="#000" stroke="#000" stroke-width="0.132">8</text>
<text x="221.60" y="539.17" font-size="4.7" font-weight="bold" text-anchor="end" fill="#000" stroke="#000" stroke-width="0.132">9</text>
<defs><linearGradient id="g2380" x1="0" y1="0" x2="0" y2="1"><stop offset="0" stop-color="#f52a10"/><stop offset="0.518" stop-color="#000"/><stop offset="1" stop-color="#3ecf3e"/></linearGradient></defs>
<rect x="360.10" y="430.60" width="6.60" height="114.20" fill="url(#g2380)" stroke="#222" stroke-width="0.5"/>
<line x1="366.70" y1="437.00" x2="367.60" y2="437.00" stroke="#444" stroke-width="0.4"/>
<text x="369.10" y="439.60" font-size="4.5" fill="#222" stroke="#222" stroke-width="0.126">2</text>
<line x1="366.70" y1="463.30" x2="367.60" y2="463.30" stroke="#444" stroke-width="0.4"/>
<text x="369.10" y="465.90" font-size="4.5" fill="#222" stroke="#222" stroke-width="0.126">1</text>
<line x1="366.70" y1="489.70" x2="367.60" y2="489.70" stroke="#444" stroke-width="0.4"/>
<text x="369.10" y="492.30" font-size="4.5" fill="#222" stroke="#222" stroke-width="0.126">0</text>
<line x1="366.70" y1="516.20" x2="367.60" y2="516.20" stroke="#444" stroke-width="0.4"/>
<text x="369.10" y="518.80" font-size="4.5" fill="#222" stroke="#222" stroke-width="0.126">-1</text>
<line x1="366.70" y1="542.50" x2="367.60" y2="542.50" stroke="#444" stroke-width="0.4"/>
<text x="369.10" y="545.10" font-size="4.5" fill="#222" stroke="#222" stroke-width="0.126">-2</text>
<text x="212.60" y="478.60" font-size="6.8" font-weight="bold" text-anchor="middle" fill="#000" transform="rotate(-90 212.60 478.60)" textLength="73.2" lengthAdjust="spacingAndGlyphs" stroke="#000" stroke-width="0.190">tumor size [mm diameter]</text>
</svg>
</body></html>
